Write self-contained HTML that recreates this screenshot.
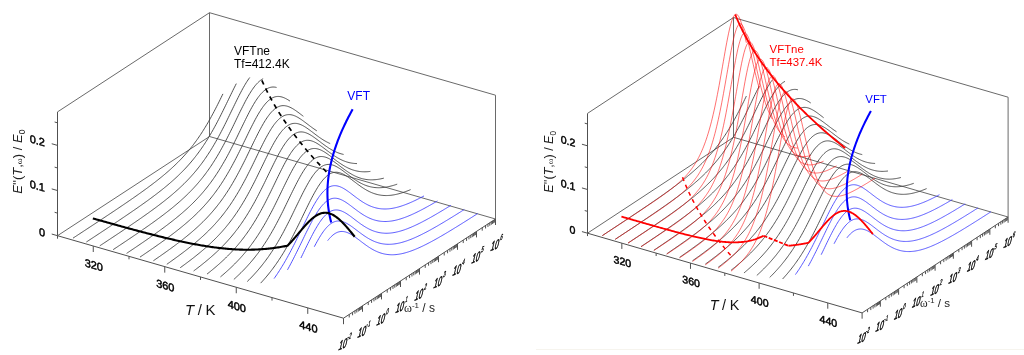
<!DOCTYPE html>
<html><head><meta charset="utf-8"><style>
html,body{margin:0;padding:0;background:#fff}
svg{display:block}
text{font-family:"Liberation Sans",sans-serif}
</style></head><body>
<svg width="1024" height="355" viewBox="0 0 1024 355">
<rect width="1024" height="355" fill="#fff"/>
<rect x="536" y="349" width="488" height="1" fill="#f6f4ee"/>
<line x1="209.50" y1="136.50" x2="209.50" y2="12.70" stroke="#6a6a6a" stroke-width="1"/>
<line x1="209.50" y1="136.50" x2="495.50" y2="219.00" stroke="#6a6a6a" stroke-width="1"/>
<line x1="57.50" y1="235.70" x2="209.50" y2="136.50" stroke="#6a6a6a" stroke-width="1"/>
<line x1="57.50" y1="235.70" x2="57.50" y2="111.90" stroke="#505050" stroke-width="1"/>
<line x1="57.50" y1="111.90" x2="209.50" y2="12.70" stroke="#6a6a6a" stroke-width="1"/>
<line x1="209.50" y1="12.70" x2="495.50" y2="95.20" stroke="#6a6a6a" stroke-width="1"/>
<line x1="495.50" y1="95.20" x2="495.50" y2="219.00" stroke="#6a6a6a" stroke-width="1"/>
<line x1="57.50" y1="235.70" x2="343.50" y2="318.20" stroke="#505050" stroke-width="1"/>
<line x1="343.50" y1="318.20" x2="495.50" y2="219.00" stroke="#505050" stroke-width="1"/>
<line x1="57.50" y1="235.70" x2="51.73" y2="234.04" stroke="#505050" stroke-width="1"/>
<line x1="57.50" y1="213.13" x2="54.62" y2="212.29" stroke="#505050" stroke-width="1"/>
<line x1="57.50" y1="190.55" x2="51.73" y2="188.89" stroke="#505050" stroke-width="1"/>
<line x1="57.50" y1="167.98" x2="54.62" y2="167.14" stroke="#505050" stroke-width="1"/>
<line x1="57.50" y1="145.40" x2="51.73" y2="143.74" stroke="#505050" stroke-width="1"/>
<line x1="57.50" y1="122.83" x2="54.62" y2="122.00" stroke="#505050" stroke-width="1"/>
<line x1="57.50" y1="235.70" x2="57.50" y2="238.70" stroke="#505050" stroke-width="1"/>
<line x1="93.25" y1="246.01" x2="93.25" y2="252.01" stroke="#505050" stroke-width="1"/>
<line x1="129.00" y1="256.32" x2="129.00" y2="259.32" stroke="#505050" stroke-width="1"/>
<line x1="164.75" y1="266.64" x2="164.75" y2="272.64" stroke="#505050" stroke-width="1"/>
<line x1="200.50" y1="276.95" x2="200.50" y2="279.95" stroke="#505050" stroke-width="1"/>
<line x1="236.25" y1="287.26" x2="236.25" y2="293.26" stroke="#505050" stroke-width="1"/>
<line x1="272.00" y1="297.57" x2="272.00" y2="300.57" stroke="#505050" stroke-width="1"/>
<line x1="307.75" y1="307.89" x2="307.75" y2="313.89" stroke="#505050" stroke-width="1"/>
<line x1="343.50" y1="318.20" x2="343.50" y2="324.20" stroke="#505050" stroke-width="1"/>
<line x1="349.22" y1="314.47" x2="349.22" y2="317.47" stroke="#505050" stroke-width="1"/>
<line x1="352.57" y1="312.28" x2="352.57" y2="315.28" stroke="#505050" stroke-width="1"/>
<line x1="354.94" y1="310.73" x2="354.94" y2="313.73" stroke="#505050" stroke-width="1"/>
<line x1="356.78" y1="309.53" x2="356.78" y2="312.53" stroke="#505050" stroke-width="1"/>
<line x1="358.28" y1="308.55" x2="358.28" y2="311.55" stroke="#505050" stroke-width="1"/>
<line x1="359.56" y1="307.72" x2="359.56" y2="310.72" stroke="#505050" stroke-width="1"/>
<line x1="360.66" y1="307.00" x2="360.66" y2="310.00" stroke="#505050" stroke-width="1"/>
<line x1="361.63" y1="306.37" x2="361.63" y2="309.37" stroke="#505050" stroke-width="1"/>
<line x1="362.50" y1="305.80" x2="362.50" y2="311.80" stroke="#505050" stroke-width="1"/>
<line x1="368.22" y1="302.07" x2="368.22" y2="305.07" stroke="#505050" stroke-width="1"/>
<line x1="371.57" y1="299.88" x2="371.57" y2="302.88" stroke="#505050" stroke-width="1"/>
<line x1="373.94" y1="298.33" x2="373.94" y2="301.33" stroke="#505050" stroke-width="1"/>
<line x1="375.78" y1="297.13" x2="375.78" y2="300.13" stroke="#505050" stroke-width="1"/>
<line x1="377.28" y1="296.15" x2="377.28" y2="299.15" stroke="#505050" stroke-width="1"/>
<line x1="378.56" y1="295.32" x2="378.56" y2="298.32" stroke="#505050" stroke-width="1"/>
<line x1="379.66" y1="294.60" x2="379.66" y2="297.60" stroke="#505050" stroke-width="1"/>
<line x1="380.63" y1="293.97" x2="380.63" y2="296.97" stroke="#505050" stroke-width="1"/>
<line x1="381.50" y1="293.40" x2="381.50" y2="299.40" stroke="#505050" stroke-width="1"/>
<line x1="387.22" y1="289.67" x2="387.22" y2="292.67" stroke="#505050" stroke-width="1"/>
<line x1="390.57" y1="287.48" x2="390.57" y2="290.48" stroke="#505050" stroke-width="1"/>
<line x1="392.94" y1="285.93" x2="392.94" y2="288.93" stroke="#505050" stroke-width="1"/>
<line x1="394.78" y1="284.73" x2="394.78" y2="287.73" stroke="#505050" stroke-width="1"/>
<line x1="396.28" y1="283.75" x2="396.28" y2="286.75" stroke="#505050" stroke-width="1"/>
<line x1="397.56" y1="282.92" x2="397.56" y2="285.92" stroke="#505050" stroke-width="1"/>
<line x1="398.66" y1="282.20" x2="398.66" y2="285.20" stroke="#505050" stroke-width="1"/>
<line x1="399.63" y1="281.57" x2="399.63" y2="284.57" stroke="#505050" stroke-width="1"/>
<line x1="400.50" y1="281.00" x2="400.50" y2="287.00" stroke="#505050" stroke-width="1"/>
<line x1="406.22" y1="277.27" x2="406.22" y2="280.27" stroke="#505050" stroke-width="1"/>
<line x1="409.57" y1="275.08" x2="409.57" y2="278.08" stroke="#505050" stroke-width="1"/>
<line x1="411.94" y1="273.53" x2="411.94" y2="276.53" stroke="#505050" stroke-width="1"/>
<line x1="413.78" y1="272.33" x2="413.78" y2="275.33" stroke="#505050" stroke-width="1"/>
<line x1="415.28" y1="271.35" x2="415.28" y2="274.35" stroke="#505050" stroke-width="1"/>
<line x1="416.56" y1="270.52" x2="416.56" y2="273.52" stroke="#505050" stroke-width="1"/>
<line x1="417.66" y1="269.80" x2="417.66" y2="272.80" stroke="#505050" stroke-width="1"/>
<line x1="418.63" y1="269.17" x2="418.63" y2="272.17" stroke="#505050" stroke-width="1"/>
<line x1="419.50" y1="268.60" x2="419.50" y2="274.60" stroke="#505050" stroke-width="1"/>
<line x1="425.22" y1="264.87" x2="425.22" y2="267.87" stroke="#505050" stroke-width="1"/>
<line x1="428.57" y1="262.68" x2="428.57" y2="265.68" stroke="#505050" stroke-width="1"/>
<line x1="430.94" y1="261.13" x2="430.94" y2="264.13" stroke="#505050" stroke-width="1"/>
<line x1="432.78" y1="259.93" x2="432.78" y2="262.93" stroke="#505050" stroke-width="1"/>
<line x1="434.28" y1="258.95" x2="434.28" y2="261.95" stroke="#505050" stroke-width="1"/>
<line x1="435.56" y1="258.12" x2="435.56" y2="261.12" stroke="#505050" stroke-width="1"/>
<line x1="436.66" y1="257.40" x2="436.66" y2="260.40" stroke="#505050" stroke-width="1"/>
<line x1="437.63" y1="256.77" x2="437.63" y2="259.77" stroke="#505050" stroke-width="1"/>
<line x1="438.50" y1="256.20" x2="438.50" y2="262.20" stroke="#505050" stroke-width="1"/>
<line x1="444.22" y1="252.47" x2="444.22" y2="255.47" stroke="#505050" stroke-width="1"/>
<line x1="447.57" y1="250.28" x2="447.57" y2="253.28" stroke="#505050" stroke-width="1"/>
<line x1="449.94" y1="248.73" x2="449.94" y2="251.73" stroke="#505050" stroke-width="1"/>
<line x1="451.78" y1="247.53" x2="451.78" y2="250.53" stroke="#505050" stroke-width="1"/>
<line x1="453.28" y1="246.55" x2="453.28" y2="249.55" stroke="#505050" stroke-width="1"/>
<line x1="454.56" y1="245.72" x2="454.56" y2="248.72" stroke="#505050" stroke-width="1"/>
<line x1="455.66" y1="245.00" x2="455.66" y2="248.00" stroke="#505050" stroke-width="1"/>
<line x1="456.63" y1="244.37" x2="456.63" y2="247.37" stroke="#505050" stroke-width="1"/>
<line x1="457.50" y1="243.80" x2="457.50" y2="249.80" stroke="#505050" stroke-width="1"/>
<line x1="463.22" y1="240.07" x2="463.22" y2="243.07" stroke="#505050" stroke-width="1"/>
<line x1="466.57" y1="237.88" x2="466.57" y2="240.88" stroke="#505050" stroke-width="1"/>
<line x1="468.94" y1="236.33" x2="468.94" y2="239.33" stroke="#505050" stroke-width="1"/>
<line x1="470.78" y1="235.13" x2="470.78" y2="238.13" stroke="#505050" stroke-width="1"/>
<line x1="472.28" y1="234.15" x2="472.28" y2="237.15" stroke="#505050" stroke-width="1"/>
<line x1="473.56" y1="233.32" x2="473.56" y2="236.32" stroke="#505050" stroke-width="1"/>
<line x1="474.66" y1="232.60" x2="474.66" y2="235.60" stroke="#505050" stroke-width="1"/>
<line x1="475.63" y1="231.97" x2="475.63" y2="234.97" stroke="#505050" stroke-width="1"/>
<line x1="476.50" y1="231.40" x2="476.50" y2="237.40" stroke="#505050" stroke-width="1"/>
<line x1="482.22" y1="227.67" x2="482.22" y2="230.67" stroke="#505050" stroke-width="1"/>
<line x1="485.57" y1="225.48" x2="485.57" y2="228.48" stroke="#505050" stroke-width="1"/>
<line x1="487.94" y1="223.93" x2="487.94" y2="226.93" stroke="#505050" stroke-width="1"/>
<line x1="489.78" y1="222.73" x2="489.78" y2="225.73" stroke="#505050" stroke-width="1"/>
<line x1="491.28" y1="221.75" x2="491.28" y2="224.75" stroke="#505050" stroke-width="1"/>
<line x1="492.56" y1="220.92" x2="492.56" y2="223.92" stroke="#505050" stroke-width="1"/>
<line x1="493.66" y1="220.20" x2="493.66" y2="223.20" stroke="#505050" stroke-width="1"/>
<line x1="494.63" y1="219.57" x2="494.63" y2="222.57" stroke="#505050" stroke-width="1"/>
<line x1="495.50" y1="219.00" x2="495.50" y2="225.00" stroke="#505050" stroke-width="1"/>
<path d="M73.00,238.15 L73.88,237.57 L74.77,236.99 L75.66,236.41 L76.54,235.83 L77.43,235.25 L78.32,234.67 L79.21,234.09 L80.09,233.50 L80.98,232.92 L81.87,232.34 L82.75,231.76 L83.64,231.18 L84.53,230.59 L85.41,230.01 L86.30,229.43 L87.19,228.84 L88.08,228.26 L88.96,227.68 L89.85,227.09 L90.74,226.51 L91.62,225.93 L92.51,225.34 L93.40,224.76 L94.29,224.17 L95.17,223.59 L96.06,223.00 L96.95,222.42 L97.83,221.83 L98.72,221.25 L99.61,220.66 L100.49,220.07 L101.38,219.49 L102.27,218.90 L103.16,218.31 L104.04,217.72 L104.93,217.14 L105.82,216.55 L106.70,215.96 L107.59,215.37 L108.48,214.78 L109.36,214.19 L110.25,213.60 L111.14,213.00 L112.03,212.41 L112.91,211.82 L113.80,211.22 L114.69,210.63 L115.57,210.04 L116.46,209.44 L117.35,208.84 L118.24,208.25 L119.12,207.65 L120.01,207.05 L120.90,206.45 L121.78,205.85 L122.67,205.25 L123.56,204.65 L124.44,204.04 L125.33,203.44 L126.22,202.83 L127.11,202.23 L127.99,201.62 L128.88,201.01 L129.77,200.40 L130.65,199.79 L131.54,199.17 L132.43,198.56 L133.32,197.94 L134.20,197.32 L135.09,196.70 L135.98,196.08 L136.86,195.46 L137.75,194.83 L138.64,194.21 L139.52,193.58 L140.41,192.95 L141.30,192.31 L142.19,191.68 L143.07,191.04 L143.96,190.40 L144.85,189.75 L145.73,189.11 L146.62,188.46 L147.51,187.80 L148.39,187.15 L149.28,186.49 L150.17,185.83 L151.06,185.16 L151.94,184.49 L152.83,183.82 L153.72,183.14 L154.60,182.46 L155.49,181.77 L156.38,181.08 L157.27,180.38 L158.15,179.68 L159.04,178.98 L159.93,178.26 L160.81,177.55 L161.70,176.83 L162.59,176.10 L163.47,175.36 L164.36,174.62 L165.25,173.87 L166.14,173.12 L167.02,172.35 L167.91,171.58 L168.80,170.81 L169.68,170.02 L170.57,169.22 L171.46,168.42 L172.34,167.61 L173.23,166.79 L174.12,165.95 L175.01,165.11 L175.89,164.26 L176.78,163.39 L177.67,162.52 L178.55,161.63 L179.44,160.73 L180.33,159.82 L181.22,158.90 L182.10,157.96 L182.99,157.01 L183.88,156.04 L184.76,155.06 L185.65,154.06 L186.54,153.05 L187.42,152.02 L188.31,150.97 L189.20,149.91 L190.09,148.83 L190.97,147.73 L191.86,146.62 L192.75,145.48 L193.63,144.32 L194.52,143.15 L195.41,141.95 L196.30,140.74 L197.18,139.50 L198.07,138.24 L198.96,136.96 L199.84,135.65 L200.73,134.33 L201.62,132.98 L202.50,131.60 L203.39,130.20 L204.28,128.78 L205.17,127.34 L206.05,125.87 L206.94,124.38 L207.83,122.86 L208.71,121.32 L209.60,119.76 L210.49,118.17 L211.37,116.56 L212.26,114.93 L213.15,113.27 L214.04,111.60 L214.92,109.90 L215.81,108.18 L216.70,106.45 L217.58,104.70 L218.47,102.93 L219.36,101.15 L220.25,99.35 L221.13,97.54 L222.02,95.72 L222.91,93.90" fill="none" stroke="#3c3c3c" stroke-width="0.90"/>
<path d="M86.40,241.99 L87.29,241.41 L88.18,240.83 L89.06,240.24 L89.95,239.66 L90.84,239.08 L91.72,238.49 L92.61,237.91 L93.50,237.33 L94.39,236.74 L95.27,236.16 L96.16,235.58 L97.05,234.99 L97.93,234.41 L98.82,233.82 L99.71,233.24 L100.60,232.65 L101.48,232.06 L102.37,231.48 L103.26,230.89 L104.14,230.30 L105.03,229.72 L105.92,229.13 L106.80,228.54 L107.69,227.95 L108.58,227.37 L109.47,226.78 L110.35,226.19 L111.24,225.60 L112.13,225.01 L113.01,224.42 L113.90,223.82 L114.79,223.23 L115.67,222.64 L116.56,222.05 L117.45,221.45 L118.34,220.86 L119.22,220.26 L120.11,219.67 L121.00,219.07 L121.88,218.47 L122.77,217.87 L123.66,217.27 L124.55,216.67 L125.43,216.07 L126.32,215.47 L127.21,214.87 L128.09,214.26 L128.98,213.66 L129.87,213.05 L130.75,212.45 L131.64,211.84 L132.53,211.23 L133.42,210.62 L134.30,210.00 L135.19,209.39 L136.08,208.77 L136.96,208.16 L137.85,207.54 L138.74,206.92 L139.62,206.29 L140.51,205.67 L141.40,205.04 L142.29,204.42 L143.17,203.79 L144.06,203.15 L144.95,202.52 L145.83,201.88 L146.72,201.24 L147.61,200.60 L148.50,199.95 L149.38,199.30 L150.27,198.65 L151.16,198.00 L152.04,197.34 L152.93,196.68 L153.82,196.01 L154.70,195.35 L155.59,194.67 L156.48,194.00 L157.37,193.32 L158.25,192.63 L159.14,191.95 L160.03,191.25 L160.91,190.55 L161.80,189.85 L162.69,189.14 L163.58,188.43 L164.46,187.71 L165.35,186.98 L166.24,186.25 L167.12,185.51 L168.01,184.77 L168.90,184.01 L169.78,183.25 L170.67,182.49 L171.56,181.71 L172.45,180.93 L173.33,180.14 L174.22,179.34 L175.11,178.53 L175.99,177.71 L176.88,176.89 L177.77,176.05 L178.65,175.20 L179.54,174.34 L180.43,173.47 L181.32,172.59 L182.20,171.70 L183.09,170.79 L183.98,169.87 L184.86,168.94 L185.75,167.99 L186.64,167.03 L187.53,166.06 L188.41,165.07 L189.30,164.07 L190.19,163.04 L191.07,162.01 L191.96,160.95 L192.85,159.88 L193.73,158.79 L194.62,157.68 L195.51,156.56 L196.40,155.41 L197.28,154.24 L198.17,153.06 L199.06,151.85 L199.94,150.62 L200.83,149.37 L201.72,148.10 L202.60,146.81 L203.49,145.49 L204.38,144.15 L205.27,142.79 L206.15,141.40 L207.04,139.99 L207.93,138.56 L208.81,137.10 L209.70,135.62 L210.59,134.11 L211.48,132.59 L212.36,131.03 L213.25,129.46 L214.14,127.86 L215.02,126.23 L215.91,124.59 L216.80,122.92 L217.68,121.24 L218.57,119.53 L219.46,117.80 L220.35,116.06 L221.23,114.30 L222.12,112.52 L223.01,110.73 L223.89,108.93 L224.78,107.12 L225.67,105.29 L226.56,103.47 L227.44,101.63 L228.33,99.80 L229.22,97.96 L230.10,96.13 L230.99,94.31 L231.88,92.49 L232.76,90.68 L233.65,88.89 L234.54,87.12 L235.43,85.37 L236.31,83.64" fill="none" stroke="#3c3c3c" stroke-width="0.90"/>
<path d="M99.81,245.81 L100.70,245.23 L101.58,244.64 L102.47,244.06 L103.36,243.47 L104.24,242.89 L105.13,242.30 L106.02,241.71 L106.91,241.13 L107.79,240.54 L108.68,239.95 L109.57,239.37 L110.45,238.78 L111.34,238.19 L112.23,237.60 L113.11,237.01 L114.00,236.42 L114.89,235.83 L115.78,235.24 L116.66,234.65 L117.55,234.06 L118.44,233.47 L119.32,232.87 L120.21,232.28 L121.10,231.69 L121.98,231.09 L122.87,230.50 L123.76,229.90 L124.65,229.30 L125.53,228.71 L126.42,228.11 L127.31,227.51 L128.19,226.91 L129.08,226.31 L129.97,225.71 L130.86,225.10 L131.74,224.50 L132.63,223.89 L133.52,223.29 L134.40,222.68 L135.29,222.07 L136.18,221.46 L137.06,220.85 L137.95,220.24 L138.84,219.62 L139.73,219.01 L140.61,218.39 L141.50,217.77 L142.39,217.15 L143.27,216.53 L144.16,215.91 L145.05,215.28 L145.93,214.65 L146.82,214.02 L147.71,213.39 L148.60,212.75 L149.48,212.12 L150.37,211.48 L151.26,210.83 L152.14,210.19 L153.03,209.54 L153.92,208.89 L154.81,208.23 L155.69,207.58 L156.58,206.91 L157.47,206.25 L158.35,205.58 L159.24,204.91 L160.13,204.23 L161.01,203.55 L161.90,202.87 L162.79,202.18 L163.68,201.49 L164.56,200.79 L165.45,200.09 L166.34,199.38 L167.22,198.66 L168.11,197.94 L169.00,197.22 L169.89,196.48 L170.77,195.75 L171.66,195.00 L172.55,194.25 L173.43,193.49 L174.32,192.72 L175.21,191.95 L176.09,191.17 L176.98,190.38 L177.87,189.58 L178.76,188.77 L179.64,187.95 L180.53,187.12 L181.42,186.28 L182.30,185.44 L183.19,184.58 L184.08,183.71 L184.96,182.83 L185.85,181.93 L186.74,181.03 L187.63,180.11 L188.51,179.18 L189.40,178.23 L190.29,177.27 L191.17,176.30 L192.06,175.31 L192.95,174.30 L193.84,173.28 L194.72,172.24 L195.61,171.19 L196.50,170.12 L197.38,169.03 L198.27,167.92 L199.16,166.79 L200.04,165.65 L200.93,164.48 L201.82,163.29 L202.71,162.09 L203.59,160.86 L204.48,159.61 L205.37,158.34 L206.25,157.04 L207.14,155.73 L208.03,154.39 L208.91,153.02 L209.80,151.64 L210.69,150.23 L211.58,148.80 L212.46,147.34 L213.35,145.86 L214.24,144.35 L215.12,142.82 L216.01,141.27 L216.90,139.69 L217.79,138.09 L218.67,136.47 L219.56,134.83 L220.45,133.16 L221.33,131.47 L222.22,129.77 L223.11,128.04 L223.99,126.30 L224.88,124.54 L225.77,122.76 L226.66,120.97 L227.54,119.17 L228.43,117.35 L229.32,115.53 L230.20,113.70 L231.09,111.87 L231.98,110.03 L232.86,108.20 L233.75,106.37 L234.64,104.54 L235.53,102.73 L236.41,100.92 L237.30,99.13 L238.19,97.36 L239.07,95.61 L239.96,93.88 L240.85,92.18 L241.74,90.52 L242.62,88.88 L243.51,87.29 L244.40,85.74 L245.28,84.24 L246.17,82.78 L247.06,81.38 L247.94,80.03 L248.83,78.74 L249.72,77.51" fill="none" stroke="#3c3c3c" stroke-width="0.90"/>
<path d="M113.22,249.60 L114.10,249.02 L114.99,248.43 L115.88,247.84 L116.76,247.25 L117.65,246.66 L118.54,246.07 L119.42,245.48 L120.31,244.89 L121.20,244.30 L122.09,243.71 L122.97,243.12 L123.86,242.52 L124.75,241.93 L125.63,241.34 L126.52,240.74 L127.41,240.15 L128.29,239.55 L129.18,238.95 L130.07,238.35 L130.96,237.76 L131.84,237.16 L132.73,236.56 L133.62,235.95 L134.50,235.35 L135.39,234.75 L136.28,234.14 L137.17,233.54 L138.05,232.93 L138.94,232.32 L139.83,231.71 L140.71,231.10 L141.60,230.49 L142.49,229.88 L143.37,229.26 L144.26,228.65 L145.15,228.03 L146.04,227.41 L146.92,226.79 L147.81,226.16 L148.70,225.54 L149.58,224.91 L150.47,224.28 L151.36,223.65 L152.24,223.02 L153.13,222.38 L154.02,221.74 L154.91,221.10 L155.79,220.46 L156.68,219.81 L157.57,219.16 L158.45,218.51 L159.34,217.85 L160.23,217.19 L161.12,216.53 L162.00,215.86 L162.89,215.19 L163.78,214.52 L164.66,213.84 L165.55,213.16 L166.44,212.47 L167.32,211.78 L168.21,211.08 L169.10,210.38 L169.99,209.68 L170.87,208.97 L171.76,208.25 L172.65,207.53 L173.53,206.80 L174.42,206.06 L175.31,205.32 L176.19,204.57 L177.08,203.82 L177.97,203.05 L178.86,202.28 L179.74,201.51 L180.63,200.72 L181.52,199.92 L182.40,199.12 L183.29,198.31 L184.18,197.48 L185.07,196.65 L185.95,195.81 L186.84,194.96 L187.73,194.09 L188.61,193.22 L189.50,192.33 L190.39,191.43 L191.27,190.52 L192.16,189.59 L193.05,188.65 L193.94,187.70 L194.82,186.73 L195.71,185.75 L196.60,184.75 L197.48,183.74 L198.37,182.71 L199.26,181.66 L200.15,180.60 L201.03,179.52 L201.92,178.42 L202.81,177.30 L203.69,176.17 L204.58,175.01 L205.47,173.84 L206.35,172.64 L207.24,171.42 L208.13,170.18 L209.02,168.92 L209.90,167.64 L210.79,166.33 L211.68,165.01 L212.56,163.66 L213.45,162.28 L214.34,160.88 L215.22,159.46 L216.11,158.02 L217.00,156.55 L217.89,155.05 L218.77,153.54 L219.66,152.00 L220.55,150.43 L221.43,148.84 L222.32,147.23 L223.21,145.60 L224.10,143.94 L224.98,142.27 L225.87,140.57 L226.76,138.85 L227.64,137.12 L228.53,135.37 L229.42,133.60 L230.30,131.81 L231.19,130.02 L232.08,128.21 L232.97,126.39 L233.85,124.57 L234.74,122.73 L235.63,120.90 L236.51,119.06 L237.40,117.23 L238.29,115.40 L239.17,113.58 L240.06,111.77 L240.95,109.97 L241.84,108.19 L242.72,106.43 L243.61,104.69 L244.50,102.97 L245.38,101.29 L246.27,99.64 L247.16,98.03 L248.05,96.46 L248.93,94.93 L249.82,93.45 L250.71,92.02 L251.59,90.64 L252.48,89.32 L253.37,88.06 L254.25,86.86 L255.14,85.73 L256.03,84.66 L256.92,83.66 L257.80,82.74 L258.69,81.88 L259.58,81.10 L260.46,80.39 L261.35,79.76 L262.24,79.20 L263.12,78.72" fill="none" stroke="#3c3c3c" stroke-width="0.90"/>
<path d="M126.62,253.36 L127.51,252.77 L128.40,252.18 L129.28,251.59 L130.17,250.99 L131.06,250.40 L131.94,249.80 L132.83,249.20 L133.72,248.61 L134.60,248.01 L135.49,247.41 L136.38,246.81 L137.27,246.21 L138.15,245.61 L139.04,245.01 L139.93,244.40 L140.81,243.80 L141.70,243.19 L142.59,242.59 L143.48,241.98 L144.36,241.37 L145.25,240.76 L146.14,240.15 L147.02,239.53 L147.91,238.92 L148.80,238.30 L149.68,237.68 L150.57,237.06 L151.46,236.44 L152.35,235.82 L153.23,235.19 L154.12,234.57 L155.01,233.94 L155.89,233.30 L156.78,232.67 L157.67,232.03 L158.55,231.40 L159.44,230.75 L160.33,230.11 L161.22,229.46 L162.10,228.81 L162.99,228.16 L163.88,227.50 L164.76,226.85 L165.65,226.18 L166.54,225.52 L167.43,224.85 L168.31,224.17 L169.20,223.49 L170.09,222.81 L170.97,222.12 L171.86,221.43 L172.75,220.74 L173.63,220.04 L174.52,219.33 L175.41,218.62 L176.30,217.90 L177.18,217.18 L178.07,216.45 L178.96,215.71 L179.84,214.97 L180.73,214.22 L181.62,213.47 L182.50,212.70 L183.39,211.93 L184.28,211.15 L185.17,210.37 L186.05,209.57 L186.94,208.77 L187.83,207.96 L188.71,207.13 L189.60,206.30 L190.49,205.46 L191.38,204.60 L192.26,203.74 L193.15,202.86 L194.04,201.97 L194.92,201.07 L195.81,200.16 L196.70,199.24 L197.58,198.30 L198.47,197.34 L199.36,196.38 L200.25,195.39 L201.13,194.40 L202.02,193.38 L202.91,192.35 L203.79,191.31 L204.68,190.24 L205.57,189.16 L206.45,188.06 L207.34,186.94 L208.23,185.81 L209.12,184.65 L210.00,183.47 L210.89,182.28 L211.78,181.06 L212.66,179.82 L213.55,178.56 L214.44,177.27 L215.33,175.97 L216.21,174.64 L217.10,173.29 L217.99,171.91 L218.87,170.51 L219.76,169.09 L220.65,167.65 L221.53,166.18 L222.42,164.68 L223.31,163.16 L224.20,161.62 L225.08,160.06 L225.97,158.47 L226.86,156.86 L227.74,155.22 L228.63,153.57 L229.52,151.89 L230.41,150.19 L231.29,148.47 L232.18,146.74 L233.07,144.99 L233.95,143.22 L234.84,141.43 L235.73,139.63 L236.61,137.83 L237.50,136.01 L238.39,134.18 L239.28,132.35 L240.16,130.52 L241.05,128.68 L241.94,126.85 L242.82,125.02 L243.71,123.20 L244.60,121.39 L245.48,119.59 L246.37,117.81 L247.26,116.05 L248.15,114.31 L249.03,112.60 L249.92,110.91 L250.81,109.27 L251.69,107.65 L252.58,106.08 L253.47,104.56 L254.36,103.08 L255.24,101.65 L256.13,100.27 L257.02,98.96 L257.90,97.70 L258.79,96.50 L259.68,95.37 L260.56,94.30 L261.45,93.31 L262.34,92.38 L263.23,91.53 L264.11,90.75 L265.00,90.05 L265.89,89.42 L266.77,88.86 L267.66,88.38 L268.55,87.97 L269.43,87.64 L270.32,87.38 L271.21,87.19 L272.10,87.07 L272.98,87.02 L273.87,87.04 L274.76,87.12 L275.64,87.25 L276.53,87.45" fill="none" stroke="#3c3c3c" stroke-width="0.90"/>
<path d="M140.03,257.08 L140.91,256.48 L141.80,255.88 L142.69,255.27 L143.58,254.67 L144.46,254.07 L145.35,253.47 L146.24,252.86 L147.12,252.25 L148.01,251.65 L148.90,251.04 L149.78,250.43 L150.67,249.82 L151.56,249.20 L152.45,248.59 L153.33,247.97 L154.22,247.36 L155.11,246.74 L155.99,246.12 L156.88,245.49 L157.77,244.87 L158.66,244.24 L159.54,243.61 L160.43,242.98 L161.32,242.35 L162.20,241.71 L163.09,241.08 L163.98,240.44 L164.86,239.79 L165.75,239.15 L166.64,238.50 L167.53,237.85 L168.41,237.19 L169.30,236.53 L170.19,235.87 L171.07,235.21 L171.96,234.54 L172.85,233.87 L173.74,233.19 L174.62,232.51 L175.51,231.82 L176.40,231.14 L177.28,230.44 L178.17,229.74 L179.06,229.04 L179.94,228.33 L180.83,227.61 L181.72,226.89 L182.61,226.17 L183.49,225.43 L184.38,224.69 L185.27,223.95 L186.15,223.20 L187.04,222.44 L187.93,221.67 L188.81,220.89 L189.70,220.11 L190.59,219.32 L191.48,218.52 L192.36,217.71 L193.25,216.89 L194.14,216.06 L195.02,215.22 L195.91,214.37 L196.80,213.51 L197.69,212.64 L198.57,211.76 L199.46,210.86 L200.35,209.95 L201.23,209.03 L202.12,208.10 L203.01,207.15 L203.89,206.19 L204.78,205.21 L205.67,204.22 L206.56,203.22 L207.44,202.19 L208.33,201.15 L209.22,200.10 L210.10,199.02 L210.99,197.93 L211.88,196.82 L212.76,195.69 L213.65,194.54 L214.54,193.37 L215.43,192.18 L216.31,190.97 L217.20,189.74 L218.09,188.49 L218.97,187.22 L219.86,185.92 L220.75,184.60 L221.64,183.26 L222.52,181.89 L223.41,180.50 L224.30,179.09 L225.18,177.66 L226.07,176.19 L226.96,174.71 L227.84,173.20 L228.73,171.67 L229.62,170.11 L230.51,168.53 L231.39,166.93 L232.28,165.31 L233.17,163.66 L234.05,161.99 L234.94,160.30 L235.83,158.59 L236.72,156.86 L237.60,155.12 L238.49,153.36 L239.38,151.58 L240.26,149.79 L241.15,147.98 L242.04,146.17 L242.92,144.34 L243.81,142.51 L244.70,140.68 L245.59,138.85 L246.47,137.01 L247.36,135.18 L248.25,133.35 L249.13,131.54 L250.02,129.74 L250.91,127.95 L251.79,126.18 L252.68,124.43 L253.57,122.71 L254.46,121.01 L255.34,119.35 L256.23,117.72 L257.12,116.14 L258.00,114.59 L258.89,113.09 L259.78,111.64 L260.67,110.25 L261.55,108.90 L262.44,107.62 L263.33,106.40 L264.21,105.24 L265.10,104.15 L265.99,103.13 L266.87,102.17 L267.76,101.29 L268.65,100.48 L269.54,99.75 L270.42,99.08 L271.31,98.50 L272.20,97.99 L273.08,97.55 L273.97,97.19 L274.86,96.90 L275.74,96.68 L276.63,96.54 L277.52,96.46 L278.41,96.45 L279.29,96.50 L280.18,96.61 L281.07,96.79 L281.95,97.01 L282.84,97.30 L283.73,97.63 L284.62,98.01 L285.50,98.43 L286.39,98.89 L287.28,99.39 L288.16,99.92 L289.05,100.48 L289.94,101.07" fill="none" stroke="#3c3c3c" stroke-width="0.90"/>
<path d="M153.43,260.72 L154.32,260.11 L155.21,259.50 L156.09,258.89 L156.98,258.27 L157.87,257.66 L158.76,257.04 L159.64,256.43 L160.53,255.81 L161.42,255.19 L162.30,254.56 L163.19,253.94 L164.08,253.31 L164.97,252.68 L165.85,252.05 L166.74,251.42 L167.63,250.78 L168.51,250.14 L169.40,249.50 L170.29,248.86 L171.17,248.21 L172.06,247.56 L172.95,246.91 L173.84,246.26 L174.72,245.60 L175.61,244.93 L176.50,244.27 L177.38,243.60 L178.27,242.93 L179.16,242.25 L180.04,241.57 L180.93,240.88 L181.82,240.19 L182.71,239.50 L183.59,238.80 L184.48,238.09 L185.37,237.38 L186.25,236.67 L187.14,235.94 L188.03,235.22 L188.92,234.48 L189.80,233.74 L190.69,232.99 L191.58,232.24 L192.46,231.48 L193.35,230.71 L194.24,229.93 L195.12,229.15 L196.01,228.35 L196.90,227.55 L197.79,226.74 L198.67,225.92 L199.56,225.09 L200.45,224.25 L201.33,223.40 L202.22,222.53 L203.11,221.66 L204.00,220.78 L204.88,219.88 L205.77,218.97 L206.66,218.05 L207.54,217.11 L208.43,216.16 L209.32,215.19 L210.20,214.22 L211.09,213.22 L211.98,212.21 L212.87,211.18 L213.75,210.14 L214.64,209.08 L215.53,208.01 L216.41,206.91 L217.30,205.80 L218.19,204.66 L219.07,203.51 L219.96,202.34 L220.85,201.15 L221.74,199.93 L222.62,198.70 L223.51,197.44 L224.40,196.16 L225.28,194.86 L226.17,193.54 L227.06,192.19 L227.95,190.82 L228.83,189.43 L229.72,188.01 L230.61,186.57 L231.49,185.10 L232.38,183.62 L233.27,182.10 L234.15,180.57 L235.04,179.01 L235.93,177.42 L236.82,175.82 L237.70,174.19 L238.59,172.54 L239.48,170.86 L240.36,169.17 L241.25,167.46 L242.14,165.72 L243.02,163.98 L243.91,162.21 L244.80,160.43 L245.69,158.63 L246.57,156.83 L247.46,155.01 L248.35,153.19 L249.23,151.36 L250.12,149.52 L251.01,147.69 L251.90,145.85 L252.78,144.02 L253.67,142.20 L254.56,140.39 L255.44,138.58 L256.33,136.80 L257.22,135.03 L258.10,133.29 L258.99,131.57 L259.88,129.88 L260.77,128.23 L261.65,126.61 L262.54,125.03 L263.43,123.49 L264.31,122.00 L265.20,120.56 L266.09,119.18 L266.98,117.85 L267.86,116.57 L268.75,115.36 L269.64,114.22 L270.52,113.14 L271.41,112.13 L272.30,111.19 L273.18,110.32 L274.07,109.52 L274.96,108.80 L275.85,108.15 L276.73,107.58 L277.62,107.09 L278.51,106.66 L279.39,106.32 L280.28,106.04 L281.17,105.84 L282.05,105.70 L282.94,105.64 L283.83,105.64 L284.72,105.70 L285.60,105.83 L286.49,106.01 L287.38,106.25 L288.26,106.54 L289.15,106.88 L290.04,107.27 L290.93,107.70 L291.81,108.17 L292.70,108.67 L293.59,109.21 L294.47,109.77 L295.36,110.36 L296.25,110.98 L297.13,111.61 L298.02,112.25 L298.91,112.91 L299.80,113.58 L300.68,114.25 L301.57,114.93 L302.46,115.60 L303.34,116.28" fill="none" stroke="#3c3c3c" stroke-width="0.90"/>
<path d="M166.84,264.27 L167.73,263.65 L168.61,263.02 L169.50,262.40 L170.39,261.77 L171.28,261.14 L172.16,260.50 L173.05,259.87 L173.94,259.23 L174.82,258.59 L175.71,257.95 L176.60,257.30 L177.48,256.65 L178.37,256.00 L179.26,255.35 L180.15,254.69 L181.03,254.03 L181.92,253.36 L182.81,252.69 L183.69,252.02 L184.58,251.35 L185.47,250.67 L186.35,249.98 L187.24,249.29 L188.13,248.60 L189.02,247.90 L189.90,247.19 L190.79,246.48 L191.68,245.77 L192.56,245.05 L193.45,244.32 L194.34,243.59 L195.23,242.85 L196.11,242.10 L197.00,241.35 L197.89,240.59 L198.77,239.82 L199.66,239.05 L200.55,238.27 L201.43,237.47 L202.32,236.67 L203.21,235.86 L204.10,235.05 L204.98,234.22 L205.87,233.38 L206.76,232.53 L207.64,231.67 L208.53,230.80 L209.42,229.91 L210.31,229.02 L211.19,228.11 L212.08,227.19 L212.97,226.26 L213.85,225.31 L214.74,224.35 L215.63,223.37 L216.51,222.38 L217.40,221.37 L218.29,220.35 L219.18,219.31 L220.06,218.26 L220.95,217.18 L221.84,216.09 L222.72,214.98 L223.61,213.85 L224.50,212.70 L225.38,211.53 L226.27,210.34 L227.16,209.13 L228.05,207.90 L228.93,206.65 L229.82,205.38 L230.71,204.08 L231.59,202.76 L232.48,201.42 L233.37,200.05 L234.26,198.67 L235.14,197.25 L236.03,195.82 L236.92,194.36 L237.80,192.87 L238.69,191.36 L239.58,189.83 L240.46,188.28 L241.35,186.70 L242.24,185.10 L243.13,183.47 L244.01,181.82 L244.90,180.16 L245.79,178.47 L246.67,176.76 L247.56,175.03 L248.45,173.28 L249.33,171.52 L250.22,169.74 L251.11,167.95 L252.00,166.15 L252.88,164.33 L253.77,162.51 L254.66,160.68 L255.54,158.85 L256.43,157.01 L257.32,155.18 L258.21,153.34 L259.09,151.52 L259.98,149.70 L260.87,147.90 L261.75,146.11 L262.64,144.34 L263.53,142.59 L264.41,140.87 L265.30,139.18 L266.19,137.51 L267.08,135.89 L267.96,134.30 L268.85,132.75 L269.74,131.25 L270.62,129.80 L271.51,128.41 L272.40,127.07 L273.28,125.78 L274.17,124.56 L275.06,123.40 L275.95,122.31 L276.83,121.28 L277.72,120.33 L278.61,119.45 L279.49,118.64 L280.38,117.90 L281.27,117.24 L282.16,116.65 L283.04,116.14 L283.93,115.70 L284.82,115.34 L285.70,115.05 L286.59,114.83 L287.48,114.69 L288.36,114.61 L289.25,114.60 L290.14,114.65 L291.03,114.76 L291.91,114.93 L292.80,115.16 L293.69,115.44 L294.57,115.78 L295.46,116.15 L296.35,116.58 L297.24,117.04 L298.12,117.54 L299.01,118.07 L299.90,118.63 L300.78,119.21 L301.67,119.82 L302.56,120.45 L303.44,121.09 L304.33,121.75 L305.22,122.41 L306.11,123.08 L306.99,123.76 L307.88,124.44 L308.77,125.11 L309.65,125.79 L310.54,126.45 L311.43,127.11 L312.31,127.76 L313.20,128.40 L314.09,129.02 L314.98,129.63 L315.86,130.22 L316.75,130.79" fill="none" stroke="#3c3c3c" stroke-width="0.90"/>
<path d="M180.25,267.70 L181.13,267.06 L182.02,266.42 L182.91,265.77 L183.79,265.12 L184.68,264.47 L185.57,263.81 L186.46,263.15 L187.34,262.49 L188.23,261.82 L189.12,261.15 L190.00,260.48 L190.89,259.80 L191.78,259.12 L192.66,258.43 L193.55,257.74 L194.44,257.04 L195.33,256.34 L196.21,255.64 L197.10,254.92 L197.99,254.21 L198.87,253.48 L199.76,252.75 L200.65,252.02 L201.54,251.28 L202.42,250.53 L203.31,249.77 L204.20,249.01 L205.08,248.24 L205.97,247.46 L206.86,246.67 L207.74,245.88 L208.63,245.07 L209.52,244.26 L210.41,243.43 L211.29,242.60 L212.18,241.76 L213.07,240.90 L213.95,240.04 L214.84,239.16 L215.73,238.27 L216.61,237.37 L217.50,236.46 L218.39,235.53 L219.28,234.59 L220.16,233.64 L221.05,232.67 L221.94,231.69 L222.82,230.69 L223.71,229.68 L224.60,228.65 L225.49,227.60 L226.37,226.54 L227.26,225.45 L228.15,224.35 L229.03,223.23 L229.92,222.10 L230.81,220.94 L231.69,219.76 L232.58,218.56 L233.47,217.35 L234.36,216.11 L235.24,214.84 L236.13,213.56 L237.02,212.25 L237.90,210.92 L238.79,209.57 L239.68,208.20 L240.57,206.80 L241.45,205.37 L242.34,203.93 L243.23,202.46 L244.11,200.96 L245.00,199.44 L245.89,197.90 L246.77,196.33 L247.66,194.74 L248.55,193.13 L249.44,191.50 L250.32,189.84 L251.21,188.16 L252.10,186.46 L252.98,184.75 L253.87,183.01 L254.76,181.26 L255.64,179.49 L256.53,177.70 L257.42,175.90 L258.31,174.10 L259.19,172.28 L260.08,170.45 L260.97,168.62 L261.85,166.78 L262.74,164.95 L263.63,163.12 L264.52,161.29 L265.40,159.47 L266.29,157.66 L267.18,155.86 L268.06,154.08 L268.95,152.32 L269.84,150.58 L270.72,148.87 L271.61,147.19 L272.50,145.54 L273.39,143.93 L274.27,142.36 L275.16,140.84 L276.05,139.36 L276.93,137.93 L277.82,136.56 L278.71,135.24 L279.59,133.99 L280.48,132.79 L281.37,131.66 L282.26,130.60 L283.14,129.61 L284.03,128.68 L284.92,127.83 L285.80,127.06 L286.69,126.35 L287.58,125.73 L288.47,125.17 L289.35,124.69 L290.24,124.29 L291.13,123.96 L292.01,123.70 L292.90,123.52 L293.79,123.40 L294.67,123.35 L295.56,123.37 L296.45,123.45 L297.34,123.59 L298.22,123.79 L299.11,124.04 L300.00,124.34 L300.88,124.70 L301.77,125.09 L302.66,125.53 L303.55,126.01 L304.43,126.52 L305.32,127.07 L306.21,127.64 L307.09,128.24 L307.98,128.85 L308.87,129.49 L309.75,130.14 L310.64,130.80 L311.53,131.47 L312.42,132.14 L313.30,132.82 L314.19,133.49 L315.08,134.17 L315.96,134.84 L316.85,135.50 L317.74,136.16 L318.62,136.80 L319.51,137.43 L320.40,138.05 L321.29,138.65 L322.17,139.23 L323.06,139.80 L323.95,140.35 L324.83,140.87 L325.72,141.38 L326.61,141.86 L327.50,142.32 L328.38,142.76 L329.27,143.18 L330.16,143.57" fill="none" stroke="#3c3c3c" stroke-width="0.90"/>
<path d="M193.65,270.98 L194.54,270.31 L195.43,269.64 L196.31,268.97 L197.20,268.29 L198.09,267.60 L198.97,266.92 L199.86,266.23 L200.75,265.53 L201.64,264.83 L202.52,264.12 L203.41,263.41 L204.30,262.69 L205.18,261.97 L206.07,261.24 L206.96,260.50 L207.85,259.76 L208.73,259.01 L209.62,258.25 L210.51,257.49 L211.39,256.71 L212.28,255.93 L213.17,255.15 L214.05,254.35 L214.94,253.54 L215.83,252.73 L216.72,251.91 L217.60,251.07 L218.49,250.23 L219.38,249.37 L220.26,248.50 L221.15,247.63 L222.04,246.74 L222.92,245.84 L223.81,244.92 L224.70,243.99 L225.59,243.05 L226.47,242.10 L227.36,241.13 L228.25,240.14 L229.13,239.14 L230.02,238.13 L230.91,237.10 L231.80,236.05 L232.68,234.98 L233.57,233.90 L234.46,232.80 L235.34,231.67 L236.23,230.53 L237.12,229.37 L238.00,228.20 L238.89,227.00 L239.78,225.77 L240.67,224.53 L241.55,223.27 L242.44,221.98 L243.33,220.67 L244.21,219.34 L245.10,217.99 L245.99,216.61 L246.87,215.21 L247.76,213.78 L248.65,212.33 L249.54,210.86 L250.42,209.36 L251.31,207.84 L252.20,206.29 L253.08,204.72 L253.97,203.13 L254.86,201.52 L255.75,199.88 L256.63,198.22 L257.52,196.54 L258.41,194.84 L259.29,193.12 L260.18,191.38 L261.07,189.63 L261.95,187.86 L262.84,186.07 L263.73,184.27 L264.62,182.46 L265.50,180.64 L266.39,178.81 L267.28,176.98 L268.16,175.15 L269.05,173.31 L269.94,171.48 L270.83,169.65 L271.71,167.83 L272.60,166.02 L273.49,164.23 L274.37,162.45 L275.26,160.69 L276.15,158.95 L277.03,157.25 L277.92,155.57 L278.81,153.93 L279.70,152.32 L280.58,150.76 L281.47,149.24 L282.36,147.76 L283.24,146.34 L284.13,144.98 L285.02,143.67 L285.90,142.42 L286.79,141.23 L287.68,140.11 L288.57,139.05 L289.45,138.06 L290.34,137.15 L291.23,136.31 L292.11,135.54 L293.00,134.84 L293.89,134.22 L294.78,133.68 L295.66,133.21 L296.55,132.81 L297.44,132.49 L298.32,132.24 L299.21,132.06 L300.10,131.95 L300.98,131.91 L301.87,131.93 L302.76,132.02 L303.65,132.17 L304.53,132.37 L305.42,132.63 L306.31,132.94 L307.19,133.30 L308.08,133.70 L308.97,134.14 L309.85,134.63 L310.74,135.14 L311.63,135.69 L312.52,136.26 L313.40,136.86 L314.29,137.48 L315.18,138.12 L316.06,138.77 L316.95,139.43 L317.84,140.10 L318.73,140.77 L319.61,141.45 L320.50,142.13 L321.39,142.80 L322.27,143.47 L323.16,144.13 L324.05,144.79 L324.93,145.43 L325.82,146.06 L326.71,146.67 L327.60,147.27 L328.48,147.86 L329.37,148.42 L330.26,148.96 L331.14,149.49 L332.03,149.99 L332.92,150.47 L333.81,150.93 L334.69,151.37 L335.58,151.78 L336.47,152.17 L337.35,152.54 L338.24,152.88 L339.13,153.20 L340.01,153.49 L340.90,153.76 L341.79,154.01 L342.68,154.23 L343.56,154.43" fill="none" stroke="#3c3c3c" stroke-width="0.90"/>
<path d="M207.06,274.05 L207.95,273.35 L208.83,272.65 L209.72,271.93 L210.61,271.22 L211.49,270.49 L212.38,269.77 L213.27,269.03 L214.16,268.29 L215.04,267.54 L215.93,266.79 L216.82,266.02 L217.70,265.25 L218.59,264.48 L219.48,263.69 L220.36,262.89 L221.25,262.09 L222.14,261.28 L223.03,260.46 L223.91,259.62 L224.80,258.78 L225.69,257.93 L226.57,257.06 L227.46,256.19 L228.35,255.30 L229.23,254.40 L230.12,253.49 L231.01,252.57 L231.90,251.63 L232.78,250.68 L233.67,249.71 L234.56,248.73 L235.44,247.73 L236.33,246.72 L237.22,245.69 L238.11,244.65 L238.99,243.58 L239.88,242.50 L240.77,241.41 L241.65,240.29 L242.54,239.15 L243.43,238.00 L244.31,236.82 L245.20,235.63 L246.09,234.41 L246.98,233.17 L247.86,231.91 L248.75,230.63 L249.64,229.33 L250.52,228.00 L251.41,226.65 L252.30,225.28 L253.18,223.88 L254.07,222.46 L254.96,221.01 L255.85,219.55 L256.73,218.05 L257.62,216.54 L258.51,215.00 L259.39,213.43 L260.28,211.85 L261.17,210.24 L262.06,208.60 L262.94,206.95 L263.83,205.27 L264.72,203.58 L265.60,201.86 L266.49,200.13 L267.38,198.37 L268.26,196.61 L269.15,194.82 L270.04,193.03 L270.93,191.22 L271.81,189.40 L272.70,187.58 L273.59,185.75 L274.47,183.91 L275.36,182.08 L276.25,180.24 L277.14,178.41 L278.02,176.59 L278.91,174.78 L279.80,172.98 L280.68,171.20 L281.57,169.43 L282.46,167.69 L283.34,165.98 L284.23,164.30 L285.12,162.65 L286.01,161.03 L286.89,159.46 L287.78,157.93 L288.67,156.45 L289.55,155.01 L290.44,153.64 L291.33,152.31 L292.21,151.05 L293.10,149.85 L293.99,148.71 L294.88,147.64 L295.76,146.64 L296.65,145.71 L297.54,144.85 L298.42,144.07 L299.31,143.36 L300.20,142.72 L301.09,142.16 L301.97,141.68 L302.86,141.27 L303.75,140.93 L304.63,140.66 L305.52,140.47 L306.41,140.35 L307.29,140.29 L308.18,140.30 L309.07,140.37 L309.96,140.51 L310.84,140.70 L311.73,140.95 L312.62,141.25 L313.50,141.59 L314.39,141.99 L315.28,142.42 L316.16,142.90 L317.05,143.41 L317.94,143.95 L318.83,144.52 L319.71,145.11 L320.60,145.72 L321.49,146.36 L322.37,147.01 L323.26,147.67 L324.15,148.33 L325.04,149.01 L325.92,149.68 L326.81,150.36 L327.70,151.04 L328.58,151.71 L329.47,152.37 L330.36,153.03 L331.24,153.67 L332.13,154.30 L333.02,154.92 L333.91,155.52 L334.79,156.11 L335.68,156.68 L336.57,157.23 L337.45,157.76 L338.34,158.26 L339.23,158.75 L340.11,159.21 L341.00,159.65 L341.89,160.07 L342.78,160.47 L343.66,160.84 L344.55,161.18 L345.44,161.51 L346.32,161.81 L347.21,162.08 L348.10,162.33 L348.99,162.56 L349.87,162.77 L350.76,162.95 L351.65,163.10 L352.53,163.24 L353.42,163.35 L354.31,163.44 L355.19,163.51 L356.08,163.56 L356.97,163.59" fill="none" stroke="#3c3c3c" stroke-width="0.90"/>
<path d="M220.47,276.87 L221.35,276.13 L222.24,275.38 L223.13,274.62 L224.01,273.85 L224.90,273.08 L225.79,272.29 L226.67,271.50 L227.56,270.71 L228.45,269.90 L229.34,269.08 L230.22,268.25 L231.11,267.42 L232.00,266.57 L232.88,265.71 L233.77,264.84 L234.66,263.96 L235.54,263.07 L236.43,262.16 L237.32,261.24 L238.21,260.31 L239.09,259.37 L239.98,258.41 L240.87,257.43 L241.75,256.45 L242.64,255.44 L243.53,254.42 L244.42,253.38 L245.30,252.33 L246.19,251.26 L247.08,250.17 L247.96,249.06 L248.85,247.94 L249.74,246.79 L250.62,245.63 L251.51,244.44 L252.40,243.24 L253.29,242.01 L254.17,240.76 L255.06,239.49 L255.95,238.20 L256.83,236.88 L257.72,235.54 L258.61,234.18 L259.49,232.80 L260.38,231.39 L261.27,229.96 L262.16,228.50 L263.04,227.02 L263.93,225.52 L264.82,223.99 L265.70,222.44 L266.59,220.86 L267.48,219.26 L268.37,217.64 L269.25,216.00 L270.14,214.33 L271.03,212.65 L271.91,210.94 L272.80,209.22 L273.69,207.47 L274.57,205.71 L275.46,203.94 L276.35,202.15 L277.24,200.35 L278.12,198.53 L279.01,196.71 L279.90,194.88 L280.78,193.05 L281.67,191.22 L282.56,189.38 L283.44,187.55 L284.33,185.72 L285.22,183.90 L286.11,182.10 L286.99,180.31 L287.88,178.53 L288.77,176.78 L289.65,175.05 L290.54,173.36 L291.43,171.69 L292.32,170.05 L293.20,168.46 L294.09,166.91 L294.98,165.40 L295.86,163.94 L296.75,162.54 L297.64,161.18 L298.52,159.89 L299.41,158.66 L300.30,157.49 L301.19,156.38 L302.07,155.35 L302.96,154.38 L303.85,153.49 L304.73,152.66 L305.62,151.92 L306.51,151.24 L307.40,150.64 L308.28,150.12 L309.17,149.67 L310.06,149.29 L310.94,148.99 L311.83,148.76 L312.72,148.60 L313.60,148.51 L314.49,148.49 L315.38,148.53 L316.27,148.63 L317.15,148.80 L318.04,149.02 L318.93,149.29 L319.81,149.61 L320.70,149.98 L321.59,150.40 L322.47,150.85 L323.36,151.35 L324.25,151.87 L325.14,152.43 L326.02,153.01 L326.91,153.61 L327.80,154.24 L328.68,154.88 L329.57,155.53 L330.46,156.19 L331.35,156.87 L332.23,157.54 L333.12,158.22 L334.01,158.90 L334.89,159.57 L335.78,160.24 L336.67,160.90 L337.55,161.55 L338.44,162.19 L339.33,162.81 L340.22,163.42 L341.10,164.02 L341.99,164.59 L342.88,165.15 L343.76,165.69 L344.65,166.21 L345.54,166.71 L346.42,167.18 L347.31,167.64 L348.20,168.07 L349.09,168.47 L349.97,168.85 L350.86,169.21 L351.75,169.55 L352.63,169.86 L353.52,170.15 L354.41,170.41 L355.30,170.65 L356.18,170.87 L357.07,171.06 L357.96,171.23 L358.84,171.38 L359.73,171.50 L360.62,171.60 L361.50,171.68 L362.39,171.74 L363.28,171.78 L364.17,171.80 L365.05,171.80 L365.94,171.78 L366.83,171.74 L367.71,171.68 L368.60,171.60 L369.49,171.50 L370.38,171.39" fill="none" stroke="#3c3c3c" stroke-width="0.90"/>
<path d="M233.87,279.38 L234.76,278.58 L235.65,277.77 L236.53,276.95 L237.42,276.12 L238.31,275.28 L239.19,274.43 L240.08,273.57 L240.97,272.70 L241.85,271.82 L242.74,270.92 L243.63,270.01 L244.52,269.09 L245.40,268.16 L246.29,267.21 L247.18,266.25 L248.06,265.27 L248.95,264.28 L249.84,263.27 L250.73,262.25 L251.61,261.21 L252.50,260.15 L253.39,259.08 L254.27,257.98 L255.16,256.87 L256.05,255.74 L256.93,254.59 L257.82,253.42 L258.71,252.23 L259.60,251.02 L260.48,249.79 L261.37,248.54 L262.26,247.26 L263.14,245.97 L264.03,244.65 L264.92,243.30 L265.80,241.94 L266.69,240.55 L267.58,239.13 L268.47,237.70 L269.35,236.24 L270.24,234.75 L271.13,233.24 L272.01,231.71 L272.90,230.15 L273.79,228.57 L274.68,226.97 L275.56,225.34 L276.45,223.70 L277.34,222.03 L278.22,220.34 L279.11,218.63 L280.00,216.90 L280.88,215.15 L281.77,213.39 L282.66,211.61 L283.55,209.82 L284.43,208.01 L285.32,206.20 L286.21,204.37 L287.09,202.54 L287.98,200.71 L288.87,198.87 L289.75,197.04 L290.64,195.21 L291.53,193.38 L292.42,191.57 L293.30,189.77 L294.19,187.98 L295.08,186.21 L295.96,184.46 L296.85,182.74 L297.74,181.05 L298.63,179.39 L299.51,177.76 L300.40,176.17 L301.29,174.63 L302.17,173.13 L303.06,171.69 L303.95,170.29 L304.83,168.95 L305.72,167.67 L306.61,166.45 L307.50,165.29 L308.38,164.20 L309.27,163.18 L310.16,162.23 L311.04,161.35 L311.93,160.54 L312.82,159.81 L313.70,159.15 L314.59,158.57 L315.48,158.06 L316.37,157.63 L317.25,157.27 L318.14,156.98 L319.03,156.76 L319.91,156.62 L320.80,156.54 L321.69,156.53 L322.58,156.59 L323.46,156.70 L324.35,156.88 L325.24,157.11 L326.12,157.39 L327.01,157.73 L327.90,158.11 L328.78,158.53 L329.67,158.99 L330.56,159.49 L331.45,160.02 L332.33,160.58 L333.22,161.17 L334.11,161.78 L334.99,162.41 L335.88,163.05 L336.77,163.71 L337.66,164.37 L338.54,165.05 L339.43,165.72 L340.32,166.40 L341.20,167.08 L342.09,167.75 L342.98,168.41 L343.86,169.07 L344.75,169.72 L345.64,170.36 L346.53,170.98 L347.41,171.59 L348.30,172.18 L349.19,172.75 L350.07,173.31 L350.96,173.84 L351.85,174.35 L352.73,174.85 L353.62,175.32 L354.51,175.77 L355.40,176.19 L356.28,176.59 L357.17,176.97 L358.06,177.32 L358.94,177.65 L359.83,177.96 L360.72,178.24 L361.61,178.50 L362.49,178.74 L363.38,178.95 L364.27,179.14 L365.15,179.30 L366.04,179.44 L366.93,179.56 L367.81,179.66 L368.70,179.74 L369.59,179.79 L370.48,179.83 L371.36,179.84 L372.25,179.83 L373.14,179.81 L374.02,179.76 L374.91,179.70 L375.80,179.62 L376.68,179.52 L377.57,179.41 L378.46,179.27 L379.35,179.13 L380.23,178.96 L381.12,178.78 L382.01,178.59 L382.89,178.38 L383.78,178.16" fill="none" stroke="#3c3c3c" stroke-width="0.90"/>
<path d="M247.28,281.51 L248.16,280.64 L249.05,279.75 L249.94,278.86 L250.83,277.95 L251.71,277.03 L252.60,276.10 L253.49,275.15 L254.37,274.19 L255.26,273.21 L256.15,272.22 L257.03,271.22 L257.92,270.19 L258.81,269.15 L259.70,268.10 L260.58,267.02 L261.47,265.93 L262.36,264.82 L263.24,263.69 L264.13,262.55 L265.02,261.38 L265.91,260.19 L266.79,258.98 L267.68,257.75 L268.57,256.50 L269.45,255.23 L270.34,253.93 L271.23,252.61 L272.11,251.27 L273.00,249.90 L273.89,248.52 L274.78,247.10 L275.66,245.67 L276.55,244.21 L277.44,242.72 L278.32,241.22 L279.21,239.69 L280.10,238.13 L280.99,236.55 L281.87,234.95 L282.76,233.33 L283.65,231.68 L284.53,230.01 L285.42,228.32 L286.31,226.61 L287.19,224.89 L288.08,223.14 L288.97,221.38 L289.86,219.60 L290.74,217.81 L291.63,216.00 L292.52,214.19 L293.40,212.37 L294.29,210.54 L295.18,208.70 L296.06,206.87 L296.95,205.03 L297.84,203.20 L298.73,201.38 L299.61,199.56 L300.50,197.76 L301.39,195.97 L302.27,194.20 L303.16,192.45 L304.05,190.73 L304.94,189.03 L305.82,187.37 L306.71,185.74 L307.60,184.15 L308.48,182.61 L309.37,181.11 L310.26,179.66 L311.14,178.26 L312.03,176.91 L312.92,175.63 L313.81,174.40 L314.69,173.24 L315.58,172.15 L316.47,171.13 L317.35,170.17 L318.24,169.29 L319.13,168.47 L320.01,167.74 L320.90,167.07 L321.79,166.49 L322.68,165.97 L323.56,165.53 L324.45,165.17 L325.34,164.88 L326.22,164.66 L327.11,164.51 L328.00,164.43 L328.89,164.42 L329.77,164.47 L330.66,164.58 L331.55,164.75 L332.43,164.98 L333.32,165.26 L334.21,165.59 L335.09,165.97 L335.98,166.39 L336.87,166.85 L337.76,167.35 L338.64,167.88 L339.53,168.43 L340.42,169.02 L341.30,169.63 L342.19,170.25 L343.08,170.90 L343.97,171.55 L344.85,172.22 L345.74,172.89 L346.63,173.57 L347.51,174.24 L348.40,174.92 L349.29,175.59 L350.17,176.26 L351.06,176.92 L351.95,177.57 L352.84,178.20 L353.72,178.83 L354.61,179.44 L355.50,180.03 L356.38,180.60 L357.27,181.16 L358.16,181.69 L359.04,182.21 L359.93,182.70 L360.82,183.18 L361.71,183.62 L362.59,184.05 L363.48,184.45 L364.37,184.83 L365.25,185.19 L366.14,185.52 L367.03,185.83 L367.92,186.11 L368.80,186.37 L369.69,186.61 L370.58,186.82 L371.46,187.01 L372.35,187.18 L373.24,187.32 L374.12,187.44 L375.01,187.54 L375.90,187.62 L376.79,187.68 L377.67,187.71 L378.56,187.73 L379.45,187.72 L380.33,187.70 L381.22,187.65 L382.11,187.59 L382.99,187.51 L383.88,187.41 L384.77,187.30 L385.66,187.17 L386.54,187.02 L387.43,186.86 L388.32,186.68 L389.20,186.49 L390.09,186.28 L390.98,186.06 L391.87,185.82 L392.75,185.58 L393.64,185.32 L394.53,185.04 L395.41,184.76 L396.30,184.46 L397.19,184.16" fill="none" stroke="#3c3c3c" stroke-width="0.90"/>
<path d="M260.68,283.13 L261.57,282.17 L262.46,281.20 L263.34,280.21 L264.23,279.21 L265.12,278.19 L266.01,277.15 L266.89,276.10 L267.78,275.03 L268.67,273.94 L269.55,272.83 L270.44,271.71 L271.33,270.56 L272.22,269.40 L273.10,268.21 L273.99,267.01 L274.88,265.78 L275.76,264.53 L276.65,263.26 L277.54,261.97 L278.42,260.66 L279.31,259.32 L280.20,257.96 L281.09,256.57 L281.97,255.16 L282.86,253.73 L283.75,252.28 L284.63,250.80 L285.52,249.29 L286.41,247.77 L287.29,246.22 L288.18,244.64 L289.07,243.04 L289.96,241.42 L290.84,239.78 L291.73,238.11 L292.62,236.43 L293.50,234.72 L294.39,233.00 L295.28,231.26 L296.17,229.50 L297.05,227.72 L297.94,225.93 L298.83,224.13 L299.71,222.32 L300.60,220.50 L301.49,218.67 L302.37,216.83 L303.26,215.00 L304.15,213.16 L305.04,211.33 L305.92,209.51 L306.81,207.69 L307.70,205.88 L308.58,204.09 L309.47,202.32 L310.36,200.56 L311.25,198.84 L312.13,197.14 L313.02,195.47 L313.91,193.83 L314.79,192.24 L315.68,190.69 L316.57,189.18 L317.45,187.72 L318.34,186.31 L319.23,184.96 L320.12,183.66 L321.00,182.43 L321.89,181.26 L322.78,180.15 L323.66,179.11 L324.55,178.15 L325.44,177.25 L326.32,176.43 L327.21,175.68 L328.10,175.00 L328.99,174.40 L329.87,173.88 L330.76,173.42 L331.65,173.05 L332.53,172.74 L333.42,172.51 L334.31,172.35 L335.20,172.26 L336.08,172.24 L336.97,172.28 L337.86,172.38 L338.74,172.54 L339.63,172.76 L340.52,173.03 L341.40,173.35 L342.29,173.72 L343.18,174.14 L344.07,174.59 L344.95,175.08 L345.84,175.61 L346.73,176.16 L347.61,176.74 L348.50,177.35 L349.39,177.97 L350.27,178.61 L351.16,179.26 L352.05,179.93 L352.94,180.60 L353.82,181.28 L354.71,181.95 L355.60,182.63 L356.48,183.30 L357.37,183.97 L358.26,184.63 L359.15,185.28 L360.03,185.92 L360.92,186.55 L361.81,187.16 L362.69,187.75 L363.58,188.33 L364.47,188.89 L365.35,189.43 L366.24,189.95 L367.13,190.44 L368.02,190.92 L368.90,191.37 L369.79,191.80 L370.68,192.21 L371.56,192.59 L372.45,192.95 L373.34,193.29 L374.23,193.60 L375.11,193.89 L376.00,194.15 L376.89,194.39 L377.77,194.61 L378.66,194.80 L379.55,194.97 L380.43,195.12 L381.32,195.25 L382.21,195.35 L383.10,195.43 L383.98,195.49 L384.87,195.53 L385.76,195.55 L386.64,195.55 L387.53,195.52 L388.42,195.48 L389.30,195.43 L390.19,195.35 L391.08,195.25 L391.97,195.14 L392.85,195.01 L393.74,194.87 L394.63,194.71 L395.51,194.53 L396.40,194.34 L397.29,194.14 L398.18,193.92 L399.06,193.69 L399.95,193.44 L400.84,193.18 L401.72,192.91 L402.61,192.63 L403.50,192.34 L404.38,192.03 L405.27,191.72 L406.16,191.39 L407.05,191.06 L407.93,190.71 L408.82,190.36 L409.71,190.00 L410.59,189.62" fill="none" stroke="#3c3c3c" stroke-width="0.90"/>
<path d="M274.09,278.56 L274.98,277.30 L275.86,276.01 L276.75,274.71 L277.64,273.38 L278.53,272.03 L279.41,270.66 L280.30,269.26 L281.19,267.84 L282.07,266.40 L282.96,264.93 L283.85,263.44 L284.73,261.92 L285.62,260.38 L286.51,258.82 L287.40,257.23 L288.28,255.62 L289.17,253.99 L290.06,252.33 L290.94,250.66 L291.83,248.96 L292.72,247.24 L293.60,245.51 L294.49,243.76 L295.38,241.99 L296.27,240.21 L297.15,238.41 L298.04,236.60 L298.93,234.78 L299.81,232.96 L300.70,231.13 L301.59,229.29 L302.48,227.46 L303.36,225.62 L304.25,223.79 L305.14,221.97 L306.02,220.16 L306.91,218.36 L307.80,216.58 L308.68,214.82 L309.57,213.08 L310.46,211.36 L311.35,209.68 L312.23,208.03 L313.12,206.42 L314.01,204.84 L314.89,203.31 L315.78,201.83 L316.67,200.40 L317.56,199.02 L318.44,197.70 L319.33,196.43 L320.22,195.23 L321.10,194.10 L321.99,193.03 L322.88,192.03 L323.76,191.10 L324.65,190.24 L325.54,189.46 L326.43,188.75 L327.31,188.11 L328.20,187.55 L329.09,187.06 L329.97,186.65 L330.86,186.32 L331.75,186.05 L332.63,185.86 L333.52,185.73 L334.41,185.68 L335.30,185.69 L336.18,185.76 L337.07,185.90 L337.96,186.09 L338.84,186.34 L339.73,186.64 L340.62,186.99 L341.51,187.38 L342.39,187.81 L343.28,188.29 L344.17,188.80 L345.05,189.34 L345.94,189.91 L346.83,190.50 L347.71,191.12 L348.60,191.75 L349.49,192.40 L350.38,193.06 L351.26,193.73 L352.15,194.40 L353.04,195.08 L353.92,195.75 L354.81,196.43 L355.70,197.10 L356.58,197.76 L357.47,198.42 L358.36,199.06 L359.25,199.70 L360.13,200.31 L361.02,200.92 L361.91,201.50 L362.79,202.07 L363.68,202.62 L364.57,203.15 L365.46,203.65 L366.34,204.14 L367.23,204.60 L368.12,205.05 L369.00,205.46 L369.89,205.86 L370.78,206.23 L371.66,206.58 L372.55,206.90 L373.44,207.20 L374.33,207.47 L375.21,207.72 L376.10,207.95 L376.99,208.16 L377.87,208.34 L378.76,208.49 L379.65,208.63 L380.53,208.74 L381.42,208.83 L382.31,208.90 L383.20,208.95 L384.08,208.98 L384.97,208.99 L385.86,208.98 L386.74,208.94 L387.63,208.89 L388.52,208.83 L389.41,208.74 L390.29,208.64 L391.18,208.51 L392.07,208.38 L392.95,208.22 L393.84,208.06 L394.73,207.87 L395.61,207.67 L396.50,207.46 L397.39,207.23 L398.28,207.00 L399.16,206.74 L400.05,206.48 L400.94,206.20 L401.82,205.91 L402.71,205.61 L403.60,205.30 L404.49,204.98 L405.37,204.65 L406.26,204.31 L407.15,203.96 L408.03,203.60 L408.92,203.24 L409.81,202.86 L410.69,202.48 L411.58,202.09 L412.47,201.69 L413.36,201.28 L414.24,200.87 L415.13,200.45 L416.02,200.02 L416.90,199.59 L417.79,199.15 L418.68,198.71 L419.56,198.26 L420.45,197.81 L421.34,197.35 L422.23,196.88 L423.11,196.41 L424.00,195.94" fill="none" stroke="#4040ff" stroke-width="0.90"/>
<path d="M287.50,269.82 L288.38,268.21 L289.27,266.58 L290.16,264.93 L291.04,263.25 L291.93,261.56 L292.82,259.84 L293.71,258.11 L294.59,256.36 L295.48,254.59 L296.37,252.81 L297.25,251.01 L298.14,249.20 L299.03,247.38 L299.91,245.56 L300.80,243.73 L301.69,241.89 L302.58,240.06 L303.46,238.23 L304.35,236.40 L305.24,234.57 L306.12,232.76 L307.01,230.96 L307.90,229.18 L308.79,227.41 L309.67,225.67 L310.56,223.96 L311.45,222.27 L312.33,220.62 L313.22,219.01 L314.11,217.43 L314.99,215.90 L315.88,214.42 L316.77,212.98 L317.66,211.60 L318.54,210.28 L319.43,209.01 L320.32,207.81 L321.20,206.67 L322.09,205.60 L322.98,204.59 L323.86,203.66 L324.75,202.80 L325.64,202.01 L326.53,201.30 L327.41,200.66 L328.30,200.10 L329.19,199.61 L330.07,199.20 L330.96,198.86 L331.85,198.59 L332.74,198.39 L333.62,198.27 L334.51,198.21 L335.40,198.22 L336.28,198.29 L337.17,198.42 L338.06,198.61 L338.94,198.85 L339.83,199.15 L340.72,199.50 L341.61,199.89 L342.49,200.32 L343.38,200.80 L344.27,201.30 L345.15,201.84 L346.04,202.41 L346.93,203.00 L347.82,203.62 L348.70,204.25 L349.59,204.90 L350.48,205.56 L351.36,206.23 L352.25,206.90 L353.14,207.58 L354.02,208.25 L354.91,208.93 L355.80,209.60 L356.69,210.26 L357.57,210.92 L358.46,211.57 L359.35,212.20 L360.23,212.82 L361.12,213.42 L362.01,214.01 L362.89,214.58 L363.78,215.12 L364.67,215.65 L365.56,216.16 L366.44,216.65 L367.33,217.11 L368.22,217.56 L369.10,217.97 L369.99,218.37 L370.88,218.74 L371.77,219.09 L372.65,219.41 L373.54,219.71 L374.43,219.99 L375.31,220.24 L376.20,220.47 L377.09,220.68 L377.97,220.86 L378.86,221.02 L379.75,221.15 L380.64,221.27 L381.52,221.36 L382.41,221.43 L383.30,221.48 L384.18,221.51 L385.07,221.52 L385.96,221.50 L386.84,221.47 L387.73,221.42 L388.62,221.36 L389.51,221.27 L390.39,221.17 L391.28,221.05 L392.17,220.91 L393.05,220.76 L393.94,220.59 L394.83,220.41 L395.72,220.21 L396.60,220.00 L397.49,219.77 L398.38,219.53 L399.26,219.28 L400.15,219.02 L401.04,218.74 L401.92,218.45 L402.81,218.15 L403.70,217.84 L404.59,217.52 L405.47,217.19 L406.36,216.85 L407.25,216.51 L408.13,216.15 L409.02,215.78 L409.91,215.40 L410.80,215.02 L411.68,214.63 L412.57,214.23 L413.46,213.83 L414.34,213.41 L415.23,212.99 L416.12,212.57 L417.00,212.14 L417.89,211.70 L418.78,211.25 L419.67,210.81 L420.55,210.35 L421.44,209.89 L422.33,209.43 L423.21,208.96 L424.10,208.49 L424.99,208.01 L425.87,207.53 L426.76,207.04 L427.65,206.55 L428.54,206.06 L429.42,205.56 L430.31,205.06 L431.20,204.56 L432.08,204.05 L432.97,203.54 L433.86,203.03 L434.75,202.51 L435.63,202.00 L436.52,201.48 L437.41,200.95" fill="none" stroke="#4040ff" stroke-width="0.90"/>
<path d="M300.90,258.03 L301.79,256.20 L302.68,254.37 L303.56,252.53 L304.45,250.70 L305.34,248.87 L306.22,247.04 L307.11,245.23 L308.00,243.42 L308.89,241.63 L309.77,239.86 L310.66,238.11 L311.55,236.38 L312.43,234.69 L313.32,233.02 L314.21,231.39 L315.10,229.80 L315.98,228.25 L316.87,226.75 L317.76,225.29 L318.64,223.89 L319.53,222.54 L320.42,221.25 L321.30,220.02 L322.19,218.86 L323.08,217.76 L323.97,216.73 L324.85,215.77 L325.74,214.88 L326.63,214.06 L327.51,213.32 L328.40,212.65 L329.29,212.06 L330.17,211.54 L331.06,211.09 L331.95,210.72 L332.84,210.43 L333.72,210.20 L334.61,210.05 L335.50,209.96 L336.38,209.94 L337.27,209.99 L338.16,210.10 L339.05,210.27 L339.93,210.49 L340.82,210.77 L341.71,211.09 L342.59,211.47 L343.48,211.89 L344.37,212.34 L345.25,212.84 L346.14,213.36 L347.03,213.92 L347.92,214.50 L348.80,215.11 L349.69,215.74 L350.58,216.38 L351.46,217.03 L352.35,217.70 L353.24,218.37 L354.12,219.05 L355.01,219.72 L355.90,220.40 L356.79,221.07 L357.67,221.74 L358.56,222.40 L359.45,223.05 L360.33,223.69 L361.22,224.31 L362.11,224.92 L363.00,225.51 L363.88,226.09 L364.77,226.65 L365.66,227.18 L366.54,227.70 L367.43,228.20 L368.32,228.67 L369.20,229.12 L370.09,229.55 L370.98,229.95 L371.87,230.34 L372.75,230.69 L373.64,231.03 L374.53,231.34 L375.41,231.62 L376.30,231.88 L377.19,232.12 L378.08,232.34 L378.96,232.53 L379.85,232.70 L380.74,232.84 L381.62,232.96 L382.51,233.06 L383.40,233.14 L384.28,233.20 L385.17,233.24 L386.06,233.25 L386.95,233.25 L387.83,233.23 L388.72,233.19 L389.61,233.13 L390.49,233.05 L391.38,232.95 L392.27,232.84 L393.15,232.71 L394.04,232.56 L394.93,232.40 L395.82,232.22 L396.70,232.03 L397.59,231.82 L398.48,231.60 L399.36,231.37 L400.25,231.12 L401.14,230.86 L402.03,230.59 L402.91,230.31 L403.80,230.02 L404.69,229.71 L405.57,229.39 L406.46,229.07 L407.35,228.73 L408.23,228.39 L409.12,228.03 L410.01,227.67 L410.90,227.30 L411.78,226.92 L412.67,226.53 L413.56,226.13 L414.44,225.73 L415.33,225.32 L416.22,224.90 L417.10,224.48 L417.99,224.05 L418.88,223.61 L419.77,223.17 L420.65,222.73 L421.54,222.27 L422.43,221.82 L423.31,221.35 L424.20,220.89 L425.09,220.42 L425.98,219.94 L426.86,219.46 L427.75,218.98 L428.64,218.49 L429.52,218.00 L430.41,217.50 L431.30,217.00 L432.18,216.50 L433.07,215.99 L433.96,215.49 L434.85,214.97 L435.73,214.46 L436.62,213.94 L437.51,213.42 L438.39,212.90 L439.28,212.38 L440.17,211.85 L441.06,211.32 L441.94,210.79 L442.83,210.26 L443.72,209.73 L444.60,209.19 L445.49,208.65 L446.38,208.11 L447.26,207.57 L448.15,207.03 L449.04,206.48 L449.93,205.94 L450.81,205.39" fill="none" stroke="#4040ff" stroke-width="0.90"/>
<path d="M314.31,246.73 L315.20,245.04 L316.08,243.39 L316.97,241.78 L317.86,240.20 L318.74,238.67 L319.63,237.19 L320.52,235.75 L321.41,234.37 L322.29,233.05 L323.18,231.79 L324.07,230.58 L324.95,229.45 L325.84,228.38 L326.73,227.37 L327.61,226.44 L328.50,225.58 L329.39,224.80 L330.28,224.09 L331.16,223.45 L332.05,222.89 L332.94,222.40 L333.82,221.99 L334.71,221.65 L335.60,221.38 L336.48,221.19 L337.37,221.06 L338.26,221.00 L339.15,221.01 L340.03,221.08 L340.92,221.22 L341.81,221.41 L342.69,221.65 L343.58,221.95 L344.47,222.30 L345.36,222.69 L346.24,223.13 L347.13,223.60 L348.02,224.11 L348.90,224.65 L349.79,225.22 L350.68,225.81 L351.56,226.43 L352.45,227.06 L353.34,227.71 L354.23,228.37 L355.11,229.03 L356.00,229.71 L356.89,230.38 L357.77,231.06 L358.66,231.74 L359.55,232.41 L360.43,233.07 L361.32,233.73 L362.21,234.37 L363.10,235.00 L363.98,235.62 L364.87,236.23 L365.76,236.81 L366.64,237.38 L367.53,237.93 L368.42,238.46 L369.31,238.97 L370.19,239.45 L371.08,239.92 L371.97,240.36 L372.85,240.78 L373.74,241.17 L374.63,241.54 L375.51,241.89 L376.40,242.21 L377.29,242.51 L378.18,242.79 L379.06,243.04 L379.95,243.27 L380.84,243.47 L381.72,243.66 L382.61,243.81 L383.50,243.95 L384.39,244.06 L385.27,244.16 L386.16,244.23 L387.05,244.27 L387.93,244.30 L388.82,244.31 L389.71,244.30 L390.59,244.27 L391.48,244.22 L392.37,244.15 L393.26,244.06 L394.14,243.96 L395.03,243.84 L395.92,243.70 L396.80,243.55 L397.69,243.38 L398.58,243.20 L399.46,243.00 L400.35,242.79 L401.24,242.56 L402.13,242.32 L403.01,242.07 L403.90,241.81 L404.79,241.53 L405.67,241.24 L406.56,240.94 L407.45,240.64 L408.34,240.31 L409.22,239.98 L410.11,239.64 L411.00,239.30 L411.88,238.94 L412.77,238.57 L413.66,238.19 L414.54,237.81 L415.43,237.42 L416.32,237.02 L417.21,236.62 L418.09,236.20 L418.98,235.78 L419.87,235.36 L420.75,234.92 L421.64,234.49 L422.53,234.04 L423.41,233.59 L424.30,233.14 L425.19,232.68 L426.08,232.22 L426.96,231.75 L427.85,231.27 L428.74,230.80 L429.62,230.31 L430.51,229.83 L431.40,229.34 L432.29,228.84 L433.17,228.35 L434.06,227.85 L434.95,227.34 L435.83,226.84 L436.72,226.33 L437.61,225.82 L438.49,225.30 L439.38,224.78 L440.27,224.26 L441.16,223.74 L442.04,223.21 L442.93,222.69 L443.82,222.16 L444.70,221.63 L445.59,221.09 L446.48,220.56 L447.36,220.02 L448.25,219.48 L449.14,218.94 L450.03,218.40 L450.91,217.85 L451.80,217.31 L452.69,216.76 L453.57,216.22 L454.46,215.67 L455.35,215.12 L456.24,214.56 L457.12,214.01 L458.01,213.46 L458.90,212.90 L459.78,212.35 L460.67,211.79 L461.56,211.23 L462.44,210.67 L463.33,210.11 L464.22,209.55" fill="none" stroke="#4040ff" stroke-width="0.90"/>
<path d="M327.71,240.60 L328.60,239.49 L329.49,238.44 L330.38,237.47 L331.26,236.56 L332.15,235.73 L333.04,234.97 L333.92,234.29 L334.81,233.68 L335.70,233.15 L336.59,232.69 L337.47,232.30 L338.36,231.99 L339.25,231.75 L340.13,231.59 L341.02,231.49 L341.91,231.46 L342.79,231.49 L343.68,231.58 L344.57,231.74 L345.46,231.95 L346.34,232.22 L347.23,232.54 L348.12,232.90 L349.00,233.31 L349.89,233.76 L350.78,234.25 L351.67,234.77 L352.55,235.32 L353.44,235.90 L354.33,236.50 L355.21,237.12 L356.10,237.76 L356.99,238.41 L357.87,239.08 L358.76,239.75 L359.65,240.42 L360.54,241.10 L361.42,241.78 L362.31,242.45 L363.20,243.12 L364.08,243.78 L364.97,244.43 L365.86,245.07 L366.74,245.70 L367.63,246.31 L368.52,246.91 L369.41,247.49 L370.29,248.05 L371.18,248.59 L372.07,249.11 L372.95,249.61 L373.84,250.09 L374.73,250.55 L375.62,250.98 L376.50,251.39 L377.39,251.77 L378.28,252.14 L379.16,252.47 L380.05,252.79 L380.94,253.08 L381.82,253.35 L382.71,253.59 L383.60,253.81 L384.49,254.00 L385.37,254.18 L386.26,254.33 L387.15,254.45 L388.03,254.56 L388.92,254.64 L389.81,254.70 L390.69,254.74 L391.58,254.77 L392.47,254.77 L393.36,254.75 L394.24,254.71 L395.13,254.65 L396.02,254.58 L396.90,254.48 L397.79,254.37 L398.68,254.25 L399.57,254.10 L400.45,253.95 L401.34,253.77 L402.23,253.58 L403.11,253.38 L404.00,253.16 L404.89,252.93 L405.77,252.69 L406.66,252.43 L407.55,252.16 L408.44,251.88 L409.32,251.59 L410.21,251.28 L411.10,250.97 L411.98,250.65 L412.87,250.31 L413.76,249.97 L414.65,249.62 L415.53,249.25 L416.42,248.88 L417.31,248.51 L418.19,248.12 L419.08,247.72 L419.97,247.32 L420.85,246.91 L421.74,246.50 L422.63,246.08 L423.52,245.65 L424.40,245.21 L425.29,244.77 L426.18,244.33 L427.06,243.88 L427.95,243.42 L428.84,242.96 L429.72,242.49 L430.61,242.02 L431.50,241.55 L432.39,241.07 L433.27,240.59 L434.16,240.10 L435.05,239.61 L435.93,239.11 L436.82,238.61 L437.71,238.11 L438.60,237.61 L439.48,237.10 L440.37,236.59 L441.26,236.08 L442.14,235.56 L443.03,235.04 L443.92,234.52 L444.80,234.00 L445.69,233.47 L446.58,232.94 L447.47,232.41 L448.35,231.88 L449.24,231.34 L450.13,230.81 L451.01,230.27 L451.90,229.73 L452.79,229.19 L453.67,228.65 L454.56,228.10 L455.45,227.56 L456.34,227.01 L457.22,226.46 L458.11,225.91 L459.00,225.36 L459.88,224.81 L460.77,224.26 L461.66,223.70 L462.55,223.15 L463.43,222.59 L464.32,222.03 L465.21,221.47 L466.09,220.92 L466.98,220.36 L467.87,219.80 L468.75,219.23 L469.64,218.67 L470.53,218.11 L471.42,217.55 L472.30,216.98 L473.19,216.42 L474.08,215.85 L474.96,215.28 L475.85,214.72 L476.74,214.15 L477.62,213.58" fill="none" stroke="#4040ff" stroke-width="0.90"/>
<path d="M261.85,80.32 L262.53,81.84 L263.22,83.36 L263.92,84.87 L264.63,86.37 L265.35,87.87 L266.08,89.36 L266.82,90.85 L267.57,92.33 L268.33,93.80 L269.09,95.27 L269.87,96.73 L270.65,98.18 L271.45,99.63 L272.25,101.08 L273.06,102.52 L273.88,103.95 L274.71,105.38 L275.54,106.80 L276.39,108.22 L277.24,109.63 L278.10,111.03 L278.97,112.43 L279.84,113.83 L280.73,115.22 L281.62,116.60 L282.52,117.98 L283.43,119.36 L284.35,120.73 L285.27,122.09 L286.20,123.45 L287.14,124.81 L288.08,126.16 L289.04,127.50 L290.00,128.85 L290.96,130.18 L291.94,131.51 L292.92,132.84 L293.91,134.16 L294.90,135.48 L295.90,136.80 L296.91,138.11 L297.93,139.41 L298.95,140.71 L299.98,142.01 L301.01,143.30 L302.05,144.59 L303.10,145.87 L304.15,147.15 L305.21,148.43 L306.28,149.70 L307.35,150.97 L308.43,152.23 L309.52,153.49 L310.61,154.75 L311.70,156.00 L312.81,157.25 L313.91,158.49 L315.03,159.73 L316.15,160.97 L317.27,162.20 L318.40,163.43 L319.54,164.66 L320.68,165.88 L321.83,167.10 L322.98,168.31 L324.14,169.52 L325.30,170.73 L326.47,171.94 L327.65,173.14 L328.83,174.34" fill="none" stroke="#000" stroke-width="1.7" stroke-dasharray="4.6,4.4"/>
<path d="M352.65,109.33 L351.55,111.30 L350.49,113.25 L349.46,115.17 L348.46,117.08 L347.50,118.97 L346.56,120.83 L345.64,122.68 L344.76,124.51 L343.91,126.33 L343.08,128.12 L342.27,129.90 L341.50,131.66 L340.75,133.40 L340.02,135.13 L339.32,136.84 L338.65,138.54 L337.99,140.22 L337.37,141.88 L336.76,143.53 L336.18,145.17 L335.62,146.79 L335.08,148.39 L334.56,149.98 L334.06,151.56 L333.59,153.13 L333.13,154.68 L332.70,156.22 L332.28,157.74 L331.88,159.26 L331.51,160.76 L331.15,162.24 L330.81,163.72 L330.48,165.19 L330.18,166.64 L329.89,168.08 L329.62,169.51 L329.37,170.93 L329.14,172.34 L328.92,173.73 L328.71,175.12 L328.53,176.50 L328.35,177.86 L328.20,179.22 L328.06,180.57 L327.93,181.90 L327.82,183.23 L327.72,184.55 L327.64,185.85 L327.57,187.15 L327.52,188.44 L327.48,189.72 L327.45,190.99 L327.44,192.26 L327.44,193.51 L327.45,194.76 L327.48,196.00 L327.51,197.23 L327.56,198.45 L327.63,199.66 L327.70,200.87 L327.79,202.06 L327.88,203.25 L327.99,204.44 L328.11,205.61 L328.24,206.78 L328.39,207.94 L328.54,209.10 L328.71,210.24 L328.88,211.38 L329.07,212.52 L329.26,213.64 L329.47,214.76 L329.68,215.88 L329.91,216.98 L330.14,218.08 L330.39,219.18 L330.64,220.27 L330.91,221.35 L331.18,222.42" fill="none" stroke="#0000ff" stroke-width="2.10"/>
<path d="M92.83,218.40 L94.02,218.74 L95.22,219.07 L96.41,219.41 L97.61,219.75 L98.80,220.09 L100.00,220.42 L101.20,220.76 L102.39,221.10 L103.59,221.43 L104.78,221.77 L105.98,222.10 L107.18,222.44 L108.37,222.77 L109.57,223.11 L110.76,223.44 L111.96,223.77 L113.15,224.11 L114.35,224.44 L115.55,224.77 L116.74,225.10 L117.94,225.43 L119.13,225.76 L120.33,226.09 L121.52,226.42 L122.72,226.75 L123.92,227.08 L125.11,227.40 L126.31,227.73 L127.50,228.05 L128.70,228.38 L129.89,228.70 L131.09,229.03 L132.29,229.35 L133.48,229.67 L134.68,229.99 L135.87,230.31 L137.07,230.63 L138.26,230.95 L139.46,231.27 L140.66,231.58 L141.85,231.90 L143.05,232.21 L144.24,232.52 L145.44,232.84 L146.63,233.15 L147.83,233.46 L149.03,233.76 L150.22,234.07 L151.42,234.38 L152.61,234.68 L153.81,234.99 L155.01,235.29 L156.20,235.59 L157.40,235.89 L158.59,236.18 L159.79,236.48 L160.98,236.77 L162.18,237.07 L163.38,237.36 L164.57,237.65 L165.77,237.93 L166.96,238.22 L168.16,238.50 L169.35,238.78 L170.55,239.06 L171.75,239.34 L172.94,239.61 L174.14,239.89 L175.33,240.16 L176.53,240.43 L177.72,240.69 L178.92,240.96 L180.12,241.22 L181.31,241.48 L182.51,241.73 L183.70,241.99 L184.90,242.24 L186.09,242.49 L187.29,242.73 L188.49,242.97 L189.68,243.21 L190.88,243.45 L192.07,243.68 L193.27,243.91 L194.46,244.14 L195.66,244.36 L196.86,244.58 L198.05,244.80 L199.25,245.01 L200.44,245.22 L201.64,245.43 L202.84,245.63 L204.03,245.83 L205.23,246.02 L206.42,246.22 L207.62,246.40 L208.81,246.58 L210.01,246.76 L211.21,246.93 L212.40,247.10 L213.60,247.27 L214.79,247.43 L215.99,247.58 L217.18,247.73 L218.38,247.88 L219.58,248.02 L220.77,248.16 L221.97,248.29 L223.16,248.41 L224.36,248.53 L225.55,248.65 L226.75,248.76 L227.95,248.86 L229.14,248.96 L230.34,249.05 L231.53,249.14 L232.73,249.22 L233.92,249.30 L235.12,249.37 L236.32,249.43 L237.51,249.49 L238.71,249.54 L239.90,249.58 L241.10,249.62 L242.29,249.65 L243.49,249.68 L244.69,249.70 L245.88,249.71 L247.08,249.71 L248.27,249.71 L249.47,249.70 L250.66,249.69 L251.86,249.67 L253.06,249.64 L254.25,249.60 L255.45,249.56 L256.64,249.51 L257.84,249.45 L259.04,249.39 L260.23,249.31 L261.43,249.23 L262.62,249.15 L263.82,249.05 L265.01,248.95 L266.21,248.85 L267.41,248.73 L268.60,248.61 L269.80,248.48 L270.99,248.34 L272.19,248.20 L273.38,248.05 L274.58,247.89 L275.78,247.72 L276.97,247.55 L278.17,247.37 L279.36,247.18 L280.56,246.99 L281.75,246.79 L282.95,246.58 L284.15,246.37 L285.34,246.15 L286.54,245.93 L287.73,245.49 L288.93,244.27 L290.12,243.01 L291.32,241.72 L292.52,240.39 L293.71,239.04 L294.91,237.66 L296.10,236.26 L297.30,234.85 L298.49,233.42 L299.69,232.00 L300.89,230.58 L302.08,229.17 L303.28,227.78 L304.47,226.41 L305.67,225.07 L306.87,223.77 L308.06,222.51 L309.26,221.30 L310.45,220.16 L311.65,219.07 L312.84,218.05 L314.04,217.11 L315.24,216.25 L316.43,215.48 L317.63,214.80 L318.82,214.21 L320.02,213.72 L321.21,213.33 L322.41,213.04 L323.61,212.85 L324.80,212.77 L326.00,212.79 L327.19,212.91 L328.39,213.14 L329.58,213.47 L330.78,213.89 L331.98,214.41 L333.17,215.02 L334.37,215.72 L335.56,216.50 L336.76,217.37 L337.95,218.31 L339.15,219.32 L340.35,220.40 L341.54,221.54 L342.74,222.73 L343.93,223.98 L345.13,225.27 L346.32,226.61 L347.52,227.98 L348.72,229.39 L349.91,230.82 L351.11,232.28 L352.30,233.76 L353.50,235.25 L354.69,236.76" fill="none" stroke="#000" stroke-width="2.1"/>
<text transform="translate(93.8,268.8) matrix(1,0.288,0,1,0,0)" font-size="11.00" stroke="#000" stroke-width="0.45" text-anchor="middle" fill="#000">320</text>
<text transform="translate(165.3,289.4) matrix(1,0.288,0,1,0,0)" font-size="11.00" stroke="#000" stroke-width="0.45" text-anchor="middle" fill="#000">360</text>
<text transform="translate(236.8,310.1) matrix(1,0.288,0,1,0,0)" font-size="11.00" stroke="#000" stroke-width="0.45" text-anchor="middle" fill="#000">400</text>
<text transform="translate(308.4,330.7) matrix(1,0.288,0,1,0,0)" font-size="11.00" stroke="#000" stroke-width="0.45" text-anchor="middle" fill="#000">440</text>
<text transform="translate(45.0,236.9) matrix(1,0.288,0,1,0,0)" font-size="11.00" stroke="#000" stroke-width="0.45" text-anchor="end" fill="#000">0</text>
<text transform="translate(45.0,191.8) matrix(1,0.288,0,1,0,0)" font-size="11.00" stroke="#000" stroke-width="0.45" text-anchor="end" fill="#000">0.1</text>
<text transform="translate(45.0,146.6) matrix(1,0.288,0,1,0,0)" font-size="11.00" stroke="#000" stroke-width="0.45" text-anchor="end" fill="#000">0.2</text>
<text transform="translate(338.1,350.5) matrix(0.64,-0.27,-0.30,1.25,0,0)" font-size="11.00" stroke="#000" stroke-width="0.45" fill="#000">10</text>
<text transform="translate(348.9,339.1) matrix(0.64,-0.27,-0.30,1.25,0,0)" font-size="6.80" stroke="#000" stroke-width="0.3" text-anchor="middle" fill="#000">-2</text>
<text transform="translate(357.1,338.1) matrix(0.64,-0.27,-0.30,1.25,0,0)" font-size="11.00" stroke="#000" stroke-width="0.45" fill="#000">10</text>
<text transform="translate(367.9,326.7) matrix(0.64,-0.27,-0.30,1.25,0,0)" font-size="6.80" stroke="#000" stroke-width="0.3" text-anchor="middle" fill="#000">-1</text>
<text transform="translate(376.1,325.7) matrix(0.64,-0.27,-0.30,1.25,0,0)" font-size="11.00" stroke="#000" stroke-width="0.45" fill="#000">10</text>
<text transform="translate(386.9,314.3) matrix(0.64,-0.27,-0.30,1.25,0,0)" font-size="6.80" stroke="#000" stroke-width="0.3" text-anchor="middle" fill="#000">0</text>
<text transform="translate(395.1,313.3) matrix(0.64,-0.27,-0.30,1.25,0,0)" font-size="11.00" stroke="#000" stroke-width="0.45" fill="#000">10</text>
<text transform="translate(405.9,301.9) matrix(0.64,-0.27,-0.30,1.25,0,0)" font-size="6.80" stroke="#000" stroke-width="0.3" text-anchor="middle" fill="#000">1</text>
<text transform="translate(414.1,300.9) matrix(0.64,-0.27,-0.30,1.25,0,0)" font-size="11.00" stroke="#000" stroke-width="0.45" fill="#000">10</text>
<text transform="translate(424.9,289.5) matrix(0.64,-0.27,-0.30,1.25,0,0)" font-size="6.80" stroke="#000" stroke-width="0.3" text-anchor="middle" fill="#000">2</text>
<text transform="translate(433.1,288.5) matrix(0.64,-0.27,-0.30,1.25,0,0)" font-size="11.00" stroke="#000" stroke-width="0.45" fill="#000">10</text>
<text transform="translate(443.9,277.1) matrix(0.64,-0.27,-0.30,1.25,0,0)" font-size="6.80" stroke="#000" stroke-width="0.3" text-anchor="middle" fill="#000">3</text>
<text transform="translate(452.1,276.1) matrix(0.64,-0.27,-0.30,1.25,0,0)" font-size="11.00" stroke="#000" stroke-width="0.45" fill="#000">10</text>
<text transform="translate(462.9,264.7) matrix(0.64,-0.27,-0.30,1.25,0,0)" font-size="6.80" stroke="#000" stroke-width="0.3" text-anchor="middle" fill="#000">4</text>
<text transform="translate(471.1,263.7) matrix(0.64,-0.27,-0.30,1.25,0,0)" font-size="11.00" stroke="#000" stroke-width="0.45" fill="#000">10</text>
<text transform="translate(481.9,252.3) matrix(0.64,-0.27,-0.30,1.25,0,0)" font-size="6.80" stroke="#000" stroke-width="0.3" text-anchor="middle" fill="#000">5</text>
<text transform="translate(490.1,251.3) matrix(0.64,-0.27,-0.30,1.25,0,0)" font-size="11.00" stroke="#000" stroke-width="0.45" fill="#000">10</text>
<text transform="translate(500.9,239.9) matrix(0.64,-0.27,-0.30,1.25,0,0)" font-size="6.80" stroke="#000" stroke-width="0.3" text-anchor="middle" fill="#000">6</text>
<text transform="translate(22.2,193.7) rotate(-90)" font-size="13.00" fill="#222"><tspan font-style="italic">E</tspan>''(<tspan font-style="italic">T</tspan>,<tspan font-family="Liberation Serif,serif" font-size="9.00">ω</tspan>) / <tspan font-style="italic">E</tspan><tspan font-size="8.50" dy="3.00">0</tspan></text>
<text x="184.9" y="315.1" font-size="14.90" fill="#111" letter-spacing="-0.2"><tspan font-style="italic">T</tspan> / K</text>
<text x="404.0" y="312.1" font-size="12.00" fill="#222"><tspan font-family="Liberation Serif,serif">ω</tspan><tspan font-size="8.00" dy="-4.00">-1</tspan><tspan dy="4.00"> / s</tspan></text>
<text x="234" y="54.7" font-size="12" fill="#000">VFTne</text><text x="234" y="67.7" font-size="12" fill="#000">Tf=412.4K</text>
<text x="347.3" y="100.3" font-size="12" fill="#00f">VFT</text>
<line x1="733.50" y1="137.30" x2="733.50" y2="17.50" stroke="#6a6a6a" stroke-width="1"/>
<line x1="733.50" y1="137.30" x2="1008.10" y2="217.00" stroke="#6a6a6a" stroke-width="1"/>
<line x1="587.50" y1="233.20" x2="733.50" y2="137.30" stroke="#6a6a6a" stroke-width="1"/>
<line x1="587.50" y1="233.20" x2="587.50" y2="113.40" stroke="#505050" stroke-width="1"/>
<line x1="587.50" y1="113.40" x2="733.50" y2="17.50" stroke="#6a6a6a" stroke-width="1"/>
<line x1="733.50" y1="17.50" x2="1008.10" y2="97.20" stroke="#6a6a6a" stroke-width="1"/>
<line x1="1008.10" y1="97.20" x2="1008.10" y2="217.00" stroke="#6a6a6a" stroke-width="1"/>
<line x1="587.50" y1="233.20" x2="862.10" y2="312.90" stroke="#505050" stroke-width="1"/>
<line x1="862.10" y1="312.90" x2="1008.10" y2="217.00" stroke="#505050" stroke-width="1"/>
<line x1="587.50" y1="233.20" x2="581.94" y2="231.60" stroke="#505050" stroke-width="1"/>
<line x1="587.50" y1="211.35" x2="584.72" y2="210.55" stroke="#505050" stroke-width="1"/>
<line x1="587.50" y1="189.51" x2="581.94" y2="187.91" stroke="#505050" stroke-width="1"/>
<line x1="587.50" y1="167.66" x2="584.72" y2="166.86" stroke="#505050" stroke-width="1"/>
<line x1="587.50" y1="145.82" x2="581.94" y2="144.22" stroke="#505050" stroke-width="1"/>
<line x1="587.50" y1="123.97" x2="584.72" y2="123.17" stroke="#505050" stroke-width="1"/>
<line x1="587.50" y1="233.20" x2="587.50" y2="236.09" stroke="#505050" stroke-width="1"/>
<line x1="621.83" y1="243.16" x2="621.83" y2="248.95" stroke="#505050" stroke-width="1"/>
<line x1="656.15" y1="253.12" x2="656.15" y2="256.02" stroke="#505050" stroke-width="1"/>
<line x1="690.48" y1="263.09" x2="690.48" y2="268.88" stroke="#505050" stroke-width="1"/>
<line x1="724.80" y1="273.05" x2="724.80" y2="275.94" stroke="#505050" stroke-width="1"/>
<line x1="759.12" y1="283.01" x2="759.12" y2="288.80" stroke="#505050" stroke-width="1"/>
<line x1="793.45" y1="292.98" x2="793.45" y2="295.87" stroke="#505050" stroke-width="1"/>
<line x1="827.78" y1="302.94" x2="827.78" y2="308.73" stroke="#505050" stroke-width="1"/>
<line x1="862.10" y1="312.90" x2="862.10" y2="318.69" stroke="#505050" stroke-width="1"/>
<line x1="867.59" y1="309.29" x2="867.59" y2="312.19" stroke="#505050" stroke-width="1"/>
<line x1="870.81" y1="307.18" x2="870.81" y2="310.08" stroke="#505050" stroke-width="1"/>
<line x1="873.09" y1="305.68" x2="873.09" y2="308.58" stroke="#505050" stroke-width="1"/>
<line x1="874.86" y1="304.52" x2="874.86" y2="307.42" stroke="#505050" stroke-width="1"/>
<line x1="876.30" y1="303.57" x2="876.30" y2="306.47" stroke="#505050" stroke-width="1"/>
<line x1="877.52" y1="302.77" x2="877.52" y2="305.66" stroke="#505050" stroke-width="1"/>
<line x1="878.58" y1="302.07" x2="878.58" y2="304.97" stroke="#505050" stroke-width="1"/>
<line x1="879.51" y1="301.46" x2="879.51" y2="304.36" stroke="#505050" stroke-width="1"/>
<line x1="880.35" y1="300.91" x2="880.35" y2="306.70" stroke="#505050" stroke-width="1"/>
<line x1="885.84" y1="297.30" x2="885.84" y2="300.20" stroke="#505050" stroke-width="1"/>
<line x1="889.06" y1="295.19" x2="889.06" y2="298.09" stroke="#505050" stroke-width="1"/>
<line x1="891.34" y1="293.70" x2="891.34" y2="296.59" stroke="#505050" stroke-width="1"/>
<line x1="893.11" y1="292.53" x2="893.11" y2="295.43" stroke="#505050" stroke-width="1"/>
<line x1="894.55" y1="291.58" x2="894.55" y2="294.48" stroke="#505050" stroke-width="1"/>
<line x1="895.77" y1="290.78" x2="895.77" y2="293.68" stroke="#505050" stroke-width="1"/>
<line x1="896.83" y1="290.09" x2="896.83" y2="292.98" stroke="#505050" stroke-width="1"/>
<line x1="897.76" y1="289.47" x2="897.76" y2="292.37" stroke="#505050" stroke-width="1"/>
<line x1="898.60" y1="288.92" x2="898.60" y2="294.71" stroke="#505050" stroke-width="1"/>
<line x1="904.09" y1="285.32" x2="904.09" y2="288.21" stroke="#505050" stroke-width="1"/>
<line x1="907.31" y1="283.21" x2="907.31" y2="286.10" stroke="#505050" stroke-width="1"/>
<line x1="909.59" y1="281.71" x2="909.59" y2="284.60" stroke="#505050" stroke-width="1"/>
<line x1="911.36" y1="280.55" x2="911.36" y2="283.44" stroke="#505050" stroke-width="1"/>
<line x1="912.80" y1="279.60" x2="912.80" y2="282.49" stroke="#505050" stroke-width="1"/>
<line x1="914.02" y1="278.79" x2="914.02" y2="281.69" stroke="#505050" stroke-width="1"/>
<line x1="915.08" y1="278.10" x2="915.08" y2="280.99" stroke="#505050" stroke-width="1"/>
<line x1="916.01" y1="277.49" x2="916.01" y2="280.38" stroke="#505050" stroke-width="1"/>
<line x1="916.85" y1="276.94" x2="916.85" y2="282.73" stroke="#505050" stroke-width="1"/>
<line x1="922.34" y1="273.33" x2="922.34" y2="276.22" stroke="#505050" stroke-width="1"/>
<line x1="925.56" y1="271.22" x2="925.56" y2="274.11" stroke="#505050" stroke-width="1"/>
<line x1="927.84" y1="269.72" x2="927.84" y2="272.62" stroke="#505050" stroke-width="1"/>
<line x1="929.61" y1="268.56" x2="929.61" y2="271.45" stroke="#505050" stroke-width="1"/>
<line x1="931.05" y1="267.61" x2="931.05" y2="270.50" stroke="#505050" stroke-width="1"/>
<line x1="932.27" y1="266.81" x2="932.27" y2="269.70" stroke="#505050" stroke-width="1"/>
<line x1="933.33" y1="266.11" x2="933.33" y2="269.01" stroke="#505050" stroke-width="1"/>
<line x1="934.26" y1="265.50" x2="934.26" y2="268.39" stroke="#505050" stroke-width="1"/>
<line x1="935.10" y1="264.95" x2="935.10" y2="270.74" stroke="#505050" stroke-width="1"/>
<line x1="940.59" y1="261.34" x2="940.59" y2="264.24" stroke="#505050" stroke-width="1"/>
<line x1="943.81" y1="259.23" x2="943.81" y2="262.13" stroke="#505050" stroke-width="1"/>
<line x1="946.09" y1="257.73" x2="946.09" y2="260.63" stroke="#505050" stroke-width="1"/>
<line x1="947.86" y1="256.57" x2="947.86" y2="259.47" stroke="#505050" stroke-width="1"/>
<line x1="949.30" y1="255.62" x2="949.30" y2="258.52" stroke="#505050" stroke-width="1"/>
<line x1="950.52" y1="254.82" x2="950.52" y2="257.71" stroke="#505050" stroke-width="1"/>
<line x1="951.58" y1="254.12" x2="951.58" y2="257.02" stroke="#505050" stroke-width="1"/>
<line x1="952.51" y1="253.51" x2="952.51" y2="256.41" stroke="#505050" stroke-width="1"/>
<line x1="953.35" y1="252.96" x2="953.35" y2="258.75" stroke="#505050" stroke-width="1"/>
<line x1="958.84" y1="249.35" x2="958.84" y2="252.25" stroke="#505050" stroke-width="1"/>
<line x1="962.06" y1="247.24" x2="962.06" y2="250.14" stroke="#505050" stroke-width="1"/>
<line x1="964.34" y1="245.75" x2="964.34" y2="248.64" stroke="#505050" stroke-width="1"/>
<line x1="966.11" y1="244.58" x2="966.11" y2="247.48" stroke="#505050" stroke-width="1"/>
<line x1="967.55" y1="243.63" x2="967.55" y2="246.53" stroke="#505050" stroke-width="1"/>
<line x1="968.77" y1="242.83" x2="968.77" y2="245.73" stroke="#505050" stroke-width="1"/>
<line x1="969.83" y1="242.14" x2="969.83" y2="245.03" stroke="#505050" stroke-width="1"/>
<line x1="970.76" y1="241.52" x2="970.76" y2="244.42" stroke="#505050" stroke-width="1"/>
<line x1="971.60" y1="240.97" x2="971.60" y2="246.76" stroke="#505050" stroke-width="1"/>
<line x1="977.09" y1="237.37" x2="977.09" y2="240.26" stroke="#505050" stroke-width="1"/>
<line x1="980.31" y1="235.26" x2="980.31" y2="238.15" stroke="#505050" stroke-width="1"/>
<line x1="982.59" y1="233.76" x2="982.59" y2="236.65" stroke="#505050" stroke-width="1"/>
<line x1="984.36" y1="232.60" x2="984.36" y2="235.49" stroke="#505050" stroke-width="1"/>
<line x1="985.80" y1="231.65" x2="985.80" y2="234.54" stroke="#505050" stroke-width="1"/>
<line x1="987.02" y1="230.84" x2="987.02" y2="233.74" stroke="#505050" stroke-width="1"/>
<line x1="988.08" y1="230.15" x2="988.08" y2="233.04" stroke="#505050" stroke-width="1"/>
<line x1="989.01" y1="229.54" x2="989.01" y2="232.43" stroke="#505050" stroke-width="1"/>
<line x1="989.85" y1="228.99" x2="989.85" y2="234.78" stroke="#505050" stroke-width="1"/>
<line x1="995.34" y1="225.38" x2="995.34" y2="228.27" stroke="#505050" stroke-width="1"/>
<line x1="998.56" y1="223.27" x2="998.56" y2="226.16" stroke="#505050" stroke-width="1"/>
<line x1="1000.84" y1="221.77" x2="1000.84" y2="224.67" stroke="#505050" stroke-width="1"/>
<line x1="1002.61" y1="220.61" x2="1002.61" y2="223.50" stroke="#505050" stroke-width="1"/>
<line x1="1004.05" y1="219.66" x2="1004.05" y2="222.55" stroke="#505050" stroke-width="1"/>
<line x1="1005.27" y1="218.86" x2="1005.27" y2="221.75" stroke="#505050" stroke-width="1"/>
<line x1="1006.33" y1="218.16" x2="1006.33" y2="221.06" stroke="#505050" stroke-width="1"/>
<line x1="1007.26" y1="217.55" x2="1007.26" y2="220.44" stroke="#505050" stroke-width="1"/>
<line x1="1008.10" y1="217.00" x2="1008.10" y2="222.79" stroke="#505050" stroke-width="1"/>
<path d="M602.38,235.57 L603.23,235.01 L604.08,234.45 L604.94,233.89 L605.79,233.32 L606.64,232.76 L607.49,232.20 L608.34,231.64 L609.20,231.07 L610.05,230.51 L610.90,229.95 L611.75,229.39 L612.60,228.82 L613.46,228.26 L614.31,227.70 L615.16,227.13 L616.01,226.57 L616.86,226.01 L617.72,225.44 L618.57,224.88 L619.42,224.31 L620.27,223.75 L621.12,223.18 L621.98,222.62 L622.83,222.05 L623.68,221.49 L624.53,220.92 L625.38,220.36 L626.24,219.79 L627.09,219.22 L627.94,218.66 L628.79,218.09 L629.64,217.52 L630.50,216.96 L631.35,216.39 L632.20,215.82 L633.05,215.25 L633.90,214.68 L634.76,214.11 L635.61,213.54 L636.46,212.97 L637.31,212.40 L638.16,211.83 L639.02,211.26 L639.87,210.68 L640.72,210.11 L641.57,209.54 L642.42,208.96 L643.28,208.39 L644.13,207.81 L644.98,207.23 L645.83,206.66 L646.68,206.08 L647.54,205.50 L648.39,204.92 L649.24,204.34 L650.09,203.76 L650.94,203.18 L651.80,202.59 L652.65,202.01 L653.50,201.42 L654.35,200.84 L655.21,200.25 L656.06,199.66 L656.91,199.07 L657.76,198.48 L658.61,197.89 L659.47,197.29 L660.32,196.69 L661.17,196.10 L662.02,195.50 L662.87,194.90 L663.73,194.29 L664.58,193.69 L665.43,193.08 L666.28,192.48 L667.13,191.86 L667.99,191.25 L668.84,190.64 L669.69,190.02 L670.54,189.40 L671.39,188.78 L672.25,188.15 L673.10,187.52 L673.95,186.89 L674.80,186.26 L675.65,185.62 L676.51,184.98 L677.36,184.34 L678.21,183.69 L679.06,183.04 L679.91,182.38 L680.77,181.72 L681.62,181.06 L682.47,180.39 L683.32,179.72 L684.17,179.04 L685.03,178.36 L685.88,177.67 L686.73,176.98 L687.58,176.28 L688.43,175.57 L689.29,174.86 L690.14,174.15 L690.99,173.42 L691.84,172.69 L692.69,171.95 L693.55,171.21 L694.40,170.46 L695.25,169.70 L696.10,168.93 L696.95,168.15 L697.81,167.37 L698.66,166.57 L699.51,165.77 L700.36,164.95 L701.21,164.13 L702.07,163.29 L702.92,162.44 L703.77,161.59 L704.62,160.72 L705.47,159.83 L706.33,158.94 L707.18,158.03 L708.03,157.11 L708.88,156.18 L709.73,155.23 L710.59,154.26 L711.44,153.28 L712.29,152.29 L713.14,151.28 L713.99,150.25 L714.85,149.21 L715.70,148.14 L716.55,147.06 L717.40,145.97 L718.25,144.85 L719.11,143.71 L719.96,142.55 L720.81,141.38 L721.66,140.18 L722.52,138.96 L723.37,137.72 L724.22,136.46 L725.07,135.18 L725.92,133.87 L726.78,132.54 L727.63,131.19 L728.48,129.82 L729.33,128.42 L730.18,127.00 L731.04,125.55 L731.89,124.09 L732.74,122.60 L733.59,121.08 L734.44,119.55 L735.30,117.99 L736.15,116.41 L737.00,114.81 L737.85,113.19 L738.70,111.55 L739.56,109.89 L740.41,108.21 L741.26,106.52 L742.11,104.81 L742.96,103.08 L743.82,101.34 L744.67,99.59 L745.52,97.84 L746.37,96.07" fill="none" stroke="#3c3c3c" stroke-width="0.87"/>
<path d="M615.25,239.28 L616.10,238.71 L616.96,238.15 L617.81,237.59 L618.66,237.02 L619.51,236.46 L620.36,235.90 L621.22,235.33 L622.07,234.77 L622.92,234.20 L623.77,233.64 L624.62,233.07 L625.48,232.51 L626.33,231.94 L627.18,231.38 L628.03,230.81 L628.88,230.25 L629.74,229.68 L630.59,229.11 L631.44,228.55 L632.29,227.98 L633.14,227.41 L634.00,226.84 L634.85,226.27 L635.70,225.71 L636.55,225.14 L637.40,224.57 L638.26,224.00 L639.11,223.43 L639.96,222.86 L640.81,222.29 L641.66,221.71 L642.52,221.14 L643.37,220.57 L644.22,219.99 L645.07,219.42 L645.92,218.85 L646.78,218.27 L647.63,217.69 L648.48,217.12 L649.33,216.54 L650.18,215.96 L651.04,215.38 L651.89,214.80 L652.74,214.22 L653.59,213.64 L654.44,213.06 L655.30,212.47 L656.15,211.89 L657.00,211.30 L657.85,210.71 L658.70,210.13 L659.56,209.54 L660.41,208.94 L661.26,208.35 L662.11,207.76 L662.96,207.16 L663.82,206.57 L664.67,205.97 L665.52,205.37 L666.37,204.77 L667.22,204.16 L668.08,203.56 L668.93,202.95 L669.78,202.34 L670.63,201.73 L671.49,201.11 L672.34,200.50 L673.19,199.88 L674.04,199.26 L674.89,198.63 L675.75,198.01 L676.60,197.38 L677.45,196.75 L678.30,196.11 L679.15,195.47 L680.01,194.83 L680.86,194.18 L681.71,193.53 L682.56,192.88 L683.41,192.22 L684.27,191.56 L685.12,190.89 L685.97,190.22 L686.82,189.55 L687.67,188.87 L688.53,188.18 L689.38,187.49 L690.23,186.80 L691.08,186.09 L691.93,185.39 L692.79,184.67 L693.64,183.95 L694.49,183.22 L695.34,182.49 L696.19,181.75 L697.05,181.00 L697.90,180.24 L698.75,179.48 L699.60,178.71 L700.45,177.92 L701.31,177.13 L702.16,176.33 L703.01,175.52 L703.86,174.70 L704.71,173.87 L705.57,173.03 L706.42,172.18 L707.27,171.31 L708.12,170.44 L708.97,169.55 L709.83,168.65 L710.68,167.73 L711.53,166.80 L712.38,165.86 L713.23,164.91 L714.09,163.93 L714.94,162.95 L715.79,161.94 L716.64,160.92 L717.49,159.89 L718.35,158.83 L719.20,157.76 L720.05,156.67 L720.90,155.56 L721.75,154.43 L722.61,153.29 L723.46,152.12 L724.31,150.93 L725.16,149.72 L726.01,148.49 L726.87,147.24 L727.72,145.97 L728.57,144.67 L729.42,143.35 L730.27,142.01 L731.13,140.65 L731.98,139.26 L732.83,137.85 L733.68,136.42 L734.53,134.96 L735.39,133.48 L736.24,131.98 L737.09,130.46 L737.94,128.91 L738.80,127.34 L739.65,125.75 L740.50,124.14 L741.35,122.51 L742.20,120.85 L743.06,119.19 L743.91,117.50 L744.76,115.79 L745.61,114.08 L746.46,112.34 L747.32,110.60 L748.17,108.85 L749.02,107.08 L749.87,105.31 L750.72,103.54 L751.58,101.77 L752.43,99.99 L753.28,98.22 L754.13,96.45 L754.98,94.69 L755.84,92.95 L756.69,91.22 L757.54,89.50 L758.39,87.81 L759.24,86.14" fill="none" stroke="#3c3c3c" stroke-width="0.87"/>
<path d="M628.12,242.97 L628.98,242.40 L629.83,241.84 L630.68,241.27 L631.53,240.70 L632.38,240.14 L633.24,239.57 L634.09,239.01 L634.94,238.44 L635.79,237.87 L636.64,237.30 L637.50,236.74 L638.35,236.17 L639.20,235.60 L640.05,235.03 L640.90,234.46 L641.76,233.89 L642.61,233.32 L643.46,232.75 L644.31,232.18 L645.16,231.61 L646.02,231.03 L646.87,230.46 L647.72,229.89 L648.57,229.31 L649.42,228.74 L650.28,228.16 L651.13,227.59 L651.98,227.01 L652.83,226.43 L653.68,225.85 L654.54,225.27 L655.39,224.69 L656.24,224.11 L657.09,223.53 L657.94,222.95 L658.80,222.36 L659.65,221.78 L660.50,221.19 L661.35,220.61 L662.20,220.02 L663.06,219.43 L663.91,218.84 L664.76,218.24 L665.61,217.65 L666.46,217.06 L667.32,216.46 L668.17,215.86 L669.02,215.26 L669.87,214.66 L670.72,214.06 L671.58,213.45 L672.43,212.84 L673.28,212.23 L674.13,211.62 L674.98,211.01 L675.84,210.39 L676.69,209.77 L677.54,209.15 L678.39,208.53 L679.24,207.90 L680.10,207.27 L680.95,206.64 L681.80,206.00 L682.65,205.36 L683.50,204.72 L684.36,204.07 L685.21,203.42 L686.06,202.77 L686.91,202.11 L687.76,201.45 L688.62,200.79 L689.47,200.11 L690.32,199.44 L691.17,198.76 L692.03,198.07 L692.88,197.38 L693.73,196.69 L694.58,195.99 L695.43,195.28 L696.29,194.56 L697.14,193.84 L697.99,193.12 L698.84,192.38 L699.69,191.64 L700.55,190.89 L701.40,190.14 L702.25,189.37 L703.10,188.60 L703.95,187.82 L704.81,187.03 L705.66,186.22 L706.51,185.41 L707.36,184.59 L708.21,183.76 L709.07,182.92 L709.92,182.07 L710.77,181.21 L711.62,180.33 L712.47,179.44 L713.33,178.54 L714.18,177.63 L715.03,176.70 L715.88,175.75 L716.73,174.80 L717.59,173.83 L718.44,172.84 L719.29,171.84 L720.14,170.82 L720.99,169.78 L721.85,168.72 L722.70,167.65 L723.55,166.56 L724.40,165.45 L725.25,164.33 L726.11,163.18 L726.96,162.01 L727.81,160.82 L728.66,159.61 L729.51,158.39 L730.37,157.13 L731.22,155.86 L732.07,154.56 L732.92,153.25 L733.77,151.91 L734.63,150.54 L735.48,149.16 L736.33,147.75 L737.18,146.31 L738.03,144.86 L738.89,143.38 L739.74,141.88 L740.59,140.35 L741.44,138.80 L742.29,137.23 L743.15,135.64 L744.00,134.03 L744.85,132.40 L745.70,130.75 L746.55,129.08 L747.41,127.39 L748.26,125.69 L749.11,123.97 L749.96,122.24 L750.81,120.49 L751.67,118.74 L752.52,116.98 L753.37,115.21 L754.22,113.44 L755.08,111.66 L755.93,109.88 L756.78,108.11 L757.63,106.35 L758.48,104.59 L759.34,102.84 L760.19,101.11 L761.04,99.40 L761.89,97.70 L762.74,96.03 L763.60,94.39 L764.45,92.78 L765.30,91.20 L766.15,89.66 L767.00,88.16 L767.86,86.70 L768.71,85.30 L769.56,83.94 L770.41,82.63 L771.26,81.38 L772.12,80.20" fill="none" stroke="#3c3c3c" stroke-width="0.87"/>
<path d="M641.00,246.63 L641.85,246.06 L642.70,245.50 L643.55,244.93 L644.40,244.36 L645.26,243.79 L646.11,243.22 L646.96,242.65 L647.81,242.08 L648.66,241.50 L649.52,240.93 L650.37,240.36 L651.22,239.79 L652.07,239.21 L652.92,238.64 L653.78,238.06 L654.63,237.49 L655.48,236.91 L656.33,236.33 L657.18,235.75 L658.04,235.18 L658.89,234.60 L659.74,234.02 L660.59,233.43 L661.44,232.85 L662.30,232.27 L663.15,231.68 L664.00,231.10 L664.85,230.51 L665.70,229.92 L666.56,229.34 L667.41,228.74 L668.26,228.15 L669.11,227.56 L669.96,226.97 L670.82,226.37 L671.67,225.77 L672.52,225.17 L673.37,224.57 L674.22,223.97 L675.08,223.37 L675.93,222.76 L676.78,222.15 L677.63,221.54 L678.48,220.93 L679.34,220.31 L680.19,219.69 L681.04,219.07 L681.89,218.45 L682.74,217.83 L683.60,217.20 L684.45,216.57 L685.30,215.93 L686.15,215.29 L687.00,214.65 L687.86,214.01 L688.71,213.36 L689.56,212.71 L690.41,212.05 L691.26,211.40 L692.12,210.73 L692.97,210.06 L693.82,209.39 L694.67,208.71 L695.52,208.03 L696.38,207.34 L697.23,206.65 L698.08,205.95 L698.93,205.25 L699.78,204.53 L700.64,203.82 L701.49,203.09 L702.34,202.36 L703.19,201.63 L704.04,200.88 L704.90,200.13 L705.75,199.37 L706.60,198.60 L707.45,197.82 L708.31,197.03 L709.16,196.24 L710.01,195.43 L710.86,194.62 L711.71,193.79 L712.57,192.96 L713.42,192.11 L714.27,191.25 L715.12,190.38 L715.97,189.50 L716.83,188.61 L717.68,187.70 L718.53,186.78 L719.38,185.84 L720.23,184.89 L721.09,183.93 L721.94,182.95 L722.79,181.95 L723.64,180.94 L724.49,179.91 L725.35,178.87 L726.20,177.80 L727.05,176.72 L727.90,175.62 L728.75,174.51 L729.61,173.37 L730.46,172.21 L731.31,171.03 L732.16,169.84 L733.01,168.62 L733.87,167.38 L734.72,166.11 L735.57,164.83 L736.42,163.52 L737.27,162.19 L738.13,160.84 L738.98,159.47 L739.83,158.07 L740.68,156.65 L741.53,155.20 L742.39,153.73 L743.24,152.24 L744.09,150.73 L744.94,149.19 L745.79,147.64 L746.65,146.06 L747.50,144.45 L748.35,142.83 L749.20,141.19 L750.05,139.53 L750.91,137.85 L751.76,136.16 L752.61,134.45 L753.46,132.72 L754.31,130.98 L755.17,129.23 L756.02,127.47 L756.87,125.71 L757.72,123.94 L758.57,122.16 L759.43,120.39 L760.28,118.61 L761.13,116.84 L761.98,115.08 L762.83,113.33 L763.69,111.59 L764.54,109.86 L765.39,108.16 L766.24,106.48 L767.09,104.82 L767.95,103.19 L768.80,101.60 L769.65,100.04 L770.50,98.52 L771.36,97.04 L772.21,95.61 L773.06,94.22 L773.91,92.89 L774.76,91.62 L775.62,90.40 L776.47,89.24 L777.32,88.14 L778.17,87.11 L779.02,86.14 L779.88,85.25 L780.73,84.42 L781.58,83.66 L782.43,82.98 L783.28,82.37 L784.14,81.83 L784.99,81.36" fill="none" stroke="#3c3c3c" stroke-width="0.87"/>
<path d="M653.87,250.26 L654.72,249.69 L655.57,249.12 L656.42,248.54 L657.27,247.97 L658.13,247.39 L658.98,246.82 L659.83,246.24 L660.68,245.66 L661.54,245.09 L662.39,244.51 L663.24,243.93 L664.09,243.35 L664.94,242.77 L665.80,242.18 L666.65,241.60 L667.50,241.02 L668.35,240.43 L669.20,239.84 L670.06,239.26 L670.91,238.67 L671.76,238.08 L672.61,237.48 L673.46,236.89 L674.32,236.30 L675.17,235.70 L676.02,235.10 L676.87,234.50 L677.72,233.90 L678.58,233.30 L679.43,232.70 L680.28,232.09 L681.13,231.48 L681.98,230.87 L682.84,230.26 L683.69,229.64 L684.54,229.02 L685.39,228.40 L686.24,227.78 L687.10,227.16 L687.95,226.53 L688.80,225.90 L689.65,225.26 L690.50,224.62 L691.36,223.98 L692.21,223.34 L693.06,222.69 L693.91,222.04 L694.76,221.38 L695.62,220.72 L696.47,220.06 L697.32,219.39 L698.17,218.72 L699.02,218.04 L699.88,217.36 L700.73,216.67 L701.58,215.98 L702.43,215.28 L703.28,214.57 L704.14,213.86 L704.99,213.14 L705.84,212.42 L706.69,211.69 L707.54,210.95 L708.40,210.21 L709.25,209.45 L710.10,208.69 L710.95,207.92 L711.80,207.15 L712.66,206.36 L713.51,205.56 L714.36,204.76 L715.21,203.94 L716.06,203.12 L716.92,202.28 L717.77,201.43 L718.62,200.58 L719.47,199.70 L720.32,198.82 L721.18,197.93 L722.03,197.02 L722.88,196.10 L723.73,195.16 L724.59,194.21 L725.44,193.25 L726.29,192.27 L727.14,191.27 L727.99,190.26 L728.85,189.23 L729.70,188.18 L730.55,187.12 L731.40,186.04 L732.25,184.94 L733.11,183.82 L733.96,182.68 L734.81,181.52 L735.66,180.35 L736.51,179.15 L737.37,177.93 L738.22,176.69 L739.07,175.42 L739.92,174.14 L740.77,172.83 L741.63,171.50 L742.48,170.15 L743.33,168.77 L744.18,167.37 L745.03,165.95 L745.89,164.51 L746.74,163.04 L747.59,161.55 L748.44,160.03 L749.29,158.49 L750.15,156.94 L751.00,155.36 L751.85,153.75 L752.70,152.13 L753.55,150.49 L754.41,148.83 L755.26,147.15 L756.11,145.45 L756.96,143.74 L757.81,142.02 L758.67,140.28 L759.52,138.53 L760.37,136.77 L761.22,135.00 L762.07,133.23 L762.93,131.46 L763.78,129.68 L764.63,127.91 L765.48,126.14 L766.33,124.37 L767.19,122.62 L768.04,120.88 L768.89,119.16 L769.74,117.46 L770.59,115.77 L771.45,114.12 L772.30,112.49 L773.15,110.90 L774.00,109.34 L774.85,107.82 L775.71,106.34 L776.56,104.91 L777.41,103.53 L778.26,102.20 L779.11,100.93 L779.97,99.71 L780.82,98.55 L781.67,97.46 L782.52,96.43 L783.37,95.46 L784.23,94.57 L785.08,93.74 L785.93,92.99 L786.78,92.31 L787.64,91.70 L788.49,91.16 L789.34,90.70 L790.19,90.31 L791.04,89.98 L791.90,89.73 L792.75,89.55 L793.60,89.44 L794.45,89.39 L795.30,89.40 L796.16,89.48 L797.01,89.61 L797.86,89.80" fill="none" stroke="#3c3c3c" stroke-width="0.87"/>
<path d="M666.74,253.85 L667.59,253.27 L668.44,252.69 L669.29,252.11 L670.15,251.53 L671.00,250.94 L671.85,250.36 L672.70,249.77 L673.55,249.19 L674.41,248.60 L675.26,248.01 L676.11,247.42 L676.96,246.83 L677.82,246.24 L678.67,245.64 L679.52,245.05 L680.37,244.45 L681.22,243.85 L682.08,243.25 L682.93,242.65 L683.78,242.05 L684.63,241.44 L685.48,240.83 L686.34,240.22 L687.19,239.61 L688.04,239.00 L688.89,238.38 L689.74,237.76 L690.60,237.14 L691.45,236.52 L692.30,235.89 L693.15,235.26 L694.00,234.63 L694.86,233.99 L695.71,233.35 L696.56,232.71 L697.41,232.06 L698.26,231.41 L699.12,230.76 L699.97,230.10 L700.82,229.44 L701.67,228.77 L702.52,228.10 L703.38,227.42 L704.23,226.74 L705.08,226.06 L705.93,225.36 L706.78,224.67 L707.64,223.96 L708.49,223.26 L709.34,222.54 L710.19,221.82 L711.04,221.09 L711.90,220.36 L712.75,219.62 L713.60,218.87 L714.45,218.11 L715.30,217.34 L716.16,216.57 L717.01,215.78 L717.86,214.99 L718.71,214.19 L719.56,213.38 L720.42,212.56 L721.27,211.73 L722.12,210.88 L722.97,210.03 L723.82,209.16 L724.68,208.29 L725.53,207.40 L726.38,206.49 L727.23,205.58 L728.08,204.65 L728.94,203.70 L729.79,202.74 L730.64,201.77 L731.49,200.78 L732.34,199.78 L733.20,198.75 L734.05,197.71 L734.90,196.66 L735.75,195.58 L736.60,194.49 L737.46,193.38 L738.31,192.25 L739.16,191.10 L740.01,189.93 L740.87,188.74 L741.72,187.53 L742.57,186.30 L743.42,185.04 L744.27,183.77 L745.13,182.47 L745.98,181.15 L746.83,179.80 L747.68,178.44 L748.53,177.05 L749.39,175.63 L750.24,174.20 L751.09,172.74 L751.94,171.26 L752.79,169.75 L753.65,168.23 L754.50,166.67 L755.35,165.10 L756.20,163.51 L757.05,161.90 L757.91,160.26 L758.76,158.61 L759.61,156.94 L760.46,155.25 L761.31,153.54 L762.17,151.82 L763.02,150.09 L763.87,148.34 L764.72,146.59 L765.57,144.82 L766.43,143.05 L767.28,141.28 L768.13,139.50 L768.98,137.73 L769.83,135.96 L770.69,134.19 L771.54,132.44 L772.39,130.69 L773.24,128.96 L774.09,127.25 L774.95,125.56 L775.80,123.89 L776.65,122.25 L777.50,120.64 L778.35,119.07 L779.21,117.54 L780.06,116.04 L780.91,114.59 L781.76,113.19 L782.61,111.84 L783.47,110.54 L784.32,109.30 L785.17,108.12 L786.02,107.00 L786.87,105.94 L787.73,104.95 L788.58,104.03 L789.43,103.18 L790.28,102.39 L791.13,101.68 L791.99,101.04 L792.84,100.48 L793.69,99.98 L794.54,99.56 L795.39,99.21 L796.25,98.93 L797.10,98.72 L797.95,98.58 L798.80,98.51 L799.65,98.50 L800.51,98.55 L801.36,98.66 L802.21,98.83 L803.06,99.05 L803.92,99.32 L804.77,99.64 L805.62,100.01 L806.47,100.42 L807.32,100.87 L808.18,101.35 L809.03,101.86 L809.88,102.41 L810.73,102.97" fill="none" stroke="#3c3c3c" stroke-width="0.87"/>
<path d="M679.61,257.37 L680.46,256.78 L681.31,256.19 L682.17,255.60 L683.02,255.00 L683.87,254.41 L684.72,253.81 L685.57,253.22 L686.43,252.62 L687.28,252.02 L688.13,251.42 L688.98,250.81 L689.83,250.21 L690.69,249.60 L691.54,248.99 L692.39,248.37 L693.24,247.76 L694.10,247.14 L694.95,246.52 L695.80,245.90 L696.65,245.28 L697.50,244.65 L698.36,244.02 L699.21,243.38 L700.06,242.75 L700.91,242.11 L701.76,241.46 L702.62,240.82 L703.47,240.17 L704.32,239.51 L705.17,238.85 L706.02,238.19 L706.88,237.52 L707.73,236.85 L708.58,236.17 L709.43,235.49 L710.28,234.80 L711.14,234.11 L711.99,233.41 L712.84,232.71 L713.69,232.00 L714.54,231.28 L715.40,230.56 L716.25,229.83 L717.10,229.10 L717.95,228.35 L718.80,227.60 L719.66,226.84 L720.51,226.08 L721.36,225.30 L722.21,224.51 L723.06,223.72 L723.92,222.92 L724.77,222.10 L725.62,221.28 L726.47,220.45 L727.32,219.60 L728.18,218.75 L729.03,217.88 L729.88,217.00 L730.73,216.11 L731.58,215.20 L732.44,214.28 L733.29,213.35 L734.14,212.40 L734.99,211.44 L735.84,210.46 L736.70,209.47 L737.55,208.46 L738.40,207.44 L739.25,206.40 L740.10,205.34 L740.96,204.26 L741.81,203.16 L742.66,202.05 L743.51,200.91 L744.36,199.76 L745.22,198.59 L746.07,197.39 L746.92,196.18 L747.77,194.94 L748.62,193.68 L749.48,192.40 L750.33,191.10 L751.18,189.77 L752.03,188.43 L752.88,187.06 L753.74,185.66 L754.59,184.25 L755.44,182.80 L756.29,181.34 L757.15,179.86 L758.00,178.35 L758.85,176.81 L759.70,175.26 L760.55,173.68 L761.41,172.09 L762.26,170.47 L763.11,168.83 L763.96,167.17 L764.81,165.50 L765.67,163.81 L766.52,162.10 L767.37,160.37 L768.22,158.64 L769.07,156.89 L769.93,155.13 L770.78,153.37 L771.63,151.60 L772.48,149.82 L773.33,148.05 L774.19,146.27 L775.04,144.50 L775.89,142.74 L776.74,140.99 L777.59,139.24 L778.45,137.52 L779.30,135.81 L780.15,134.12 L781.00,132.46 L781.85,130.83 L782.71,129.23 L783.56,127.66 L784.41,126.13 L785.26,124.64 L786.11,123.20 L786.97,121.81 L787.82,120.47 L788.67,119.18 L789.52,117.95 L790.37,116.78 L791.23,115.67 L792.08,114.63 L792.93,113.65 L793.78,112.74 L794.63,111.90 L795.49,111.13 L796.34,110.43 L797.19,109.81 L798.04,109.26 L798.89,108.78 L799.75,108.37 L800.60,108.03 L801.45,107.77 L802.30,107.57 L803.15,107.44 L804.01,107.38 L804.86,107.38 L805.71,107.44 L806.56,107.56 L807.41,107.74 L808.27,107.97 L809.12,108.26 L809.97,108.59 L810.82,108.96 L811.67,109.38 L812.53,109.83 L813.38,110.32 L814.23,110.84 L815.08,111.39 L815.93,111.96 L816.79,112.55 L817.64,113.16 L818.49,113.79 L819.34,114.43 L820.20,115.07 L821.05,115.72 L821.90,116.38 L822.75,117.04 L823.60,117.69" fill="none" stroke="#3c3c3c" stroke-width="0.87"/>
<path d="M692.48,260.80 L693.33,260.20 L694.19,259.59 L695.04,258.99 L695.89,258.38 L696.74,257.77 L697.59,257.16 L698.45,256.54 L699.30,255.93 L700.15,255.31 L701.00,254.69 L701.85,254.06 L702.71,253.43 L703.56,252.80 L704.41,252.17 L705.26,251.54 L706.11,250.90 L706.97,250.25 L707.82,249.61 L708.67,248.96 L709.52,248.30 L710.38,247.64 L711.23,246.98 L712.08,246.32 L712.93,245.64 L713.78,244.97 L714.64,244.29 L715.49,243.60 L716.34,242.91 L717.19,242.21 L718.04,241.51 L718.90,240.80 L719.75,240.09 L720.60,239.37 L721.45,238.64 L722.30,237.90 L723.16,237.16 L724.01,236.41 L724.86,235.65 L725.71,234.89 L726.56,234.12 L727.42,233.33 L728.27,232.54 L729.12,231.74 L729.97,230.93 L730.82,230.11 L731.68,229.27 L732.53,228.43 L733.38,227.58 L734.23,226.71 L735.08,225.84 L735.94,224.95 L736.79,224.04 L737.64,223.13 L738.49,222.20 L739.34,221.25 L740.20,220.29 L741.05,219.32 L741.90,218.33 L742.75,217.32 L743.60,216.30 L744.46,215.26 L745.31,214.21 L746.16,213.13 L747.01,212.04 L747.86,210.93 L748.72,209.80 L749.57,208.65 L750.42,207.48 L751.27,206.29 L752.12,205.08 L752.98,203.85 L753.83,202.59 L754.68,201.32 L755.53,200.02 L756.38,198.70 L757.24,197.36 L758.09,195.99 L758.94,194.60 L759.79,193.19 L760.64,191.75 L761.50,190.29 L762.35,188.81 L763.20,187.31 L764.05,185.78 L764.90,184.23 L765.76,182.66 L766.61,181.06 L767.46,179.45 L768.31,177.82 L769.16,176.16 L770.02,174.49 L770.87,172.80 L771.72,171.10 L772.57,169.38 L773.43,167.64 L774.28,165.90 L775.13,164.14 L775.98,162.38 L776.83,160.61 L777.69,158.83 L778.54,157.06 L779.39,155.28 L780.24,153.51 L781.09,151.75 L781.95,149.99 L782.80,148.25 L783.65,146.52 L784.50,144.80 L785.35,143.11 L786.21,141.45 L787.06,139.81 L787.91,138.20 L788.76,136.63 L789.61,135.09 L790.47,133.59 L791.32,132.14 L792.17,130.74 L793.02,129.39 L793.87,128.09 L794.73,126.85 L795.58,125.67 L796.43,124.55 L797.28,123.49 L798.13,122.50 L798.99,121.58 L799.84,120.72 L800.69,119.94 L801.54,119.23 L802.39,118.59 L803.25,118.02 L804.10,117.53 L804.95,117.11 L805.80,116.76 L806.65,116.48 L807.51,116.27 L808.36,116.12 L809.21,116.05 L810.06,116.04 L810.91,116.09 L811.77,116.20 L812.62,116.37 L813.47,116.59 L814.32,116.86 L815.17,117.18 L816.03,117.55 L816.88,117.96 L817.73,118.40 L818.58,118.89 L819.43,119.40 L820.29,119.94 L821.14,120.51 L821.99,121.10 L822.84,121.71 L823.69,122.33 L824.55,122.96 L825.40,123.61 L826.25,124.26 L827.10,124.91 L827.95,125.57 L828.81,126.23 L829.66,126.88 L830.51,127.52 L831.36,128.16 L832.21,128.79 L833.07,129.41 L833.92,130.01 L834.77,130.60 L835.62,131.17 L836.48,131.73" fill="none" stroke="#3c3c3c" stroke-width="0.87"/>
<path d="M705.35,264.11 L706.21,263.49 L707.06,262.87 L707.91,262.25 L708.76,261.62 L709.61,260.99 L710.47,260.35 L711.32,259.71 L712.17,259.07 L713.02,258.43 L713.87,257.78 L714.73,257.13 L715.58,256.47 L716.43,255.81 L717.28,255.15 L718.13,254.48 L718.99,253.81 L719.84,253.13 L720.69,252.45 L721.54,251.76 L722.39,251.06 L723.25,250.36 L724.10,249.66 L724.95,248.95 L725.80,248.23 L726.66,247.51 L727.51,246.78 L728.36,246.04 L729.21,245.29 L730.06,244.54 L730.92,243.78 L731.77,243.01 L732.62,242.23 L733.47,241.44 L734.32,240.65 L735.18,239.84 L736.03,239.03 L736.88,238.20 L737.73,237.36 L738.58,236.52 L739.44,235.66 L740.29,234.79 L741.14,233.90 L741.99,233.01 L742.84,232.10 L743.70,231.18 L744.55,230.24 L745.40,229.29 L746.25,228.32 L747.10,227.34 L747.96,226.35 L748.81,225.33 L749.66,224.30 L750.51,223.26 L751.36,222.19 L752.22,221.11 L753.07,220.01 L753.92,218.89 L754.77,217.75 L755.62,216.60 L756.48,215.42 L757.33,214.22 L758.18,213.00 L759.03,211.75 L759.88,210.49 L760.74,209.20 L761.59,207.90 L762.44,206.57 L763.29,205.21 L764.14,203.84 L765.00,202.44 L765.85,201.01 L766.70,199.57 L767.55,198.10 L768.40,196.61 L769.26,195.09 L770.11,193.55 L770.96,191.99 L771.81,190.41 L772.66,188.81 L773.52,187.19 L774.37,185.54 L775.22,183.88 L776.07,182.20 L776.92,180.51 L777.78,178.79 L778.63,177.07 L779.48,175.33 L780.33,173.58 L781.18,171.82 L782.04,170.05 L782.89,168.28 L783.74,166.51 L784.59,164.73 L785.44,162.96 L786.30,161.19 L787.15,159.43 L788.00,157.68 L788.85,155.94 L789.71,154.21 L790.56,152.51 L791.41,150.83 L792.26,149.17 L793.11,147.55 L793.97,145.96 L794.82,144.40 L795.67,142.88 L796.52,141.41 L797.37,139.98 L798.23,138.60 L799.08,137.27 L799.93,135.99 L800.78,134.78 L801.63,133.62 L802.49,132.53 L803.34,131.50 L804.19,130.54 L805.04,129.65 L805.89,128.83 L806.75,128.08 L807.60,127.40 L808.45,126.79 L809.30,126.26 L810.15,125.79 L811.01,125.40 L811.86,125.08 L812.71,124.84 L813.56,124.66 L814.41,124.54 L815.27,124.50 L816.12,124.51 L816.97,124.59 L817.82,124.73 L818.67,124.92 L819.53,125.16 L820.38,125.46 L821.23,125.80 L822.08,126.19 L822.93,126.61 L823.79,127.08 L824.64,127.57 L825.49,128.10 L826.34,128.65 L827.19,129.23 L828.05,129.83 L828.90,130.44 L829.75,131.07 L830.60,131.71 L831.45,132.36 L832.31,133.01 L833.16,133.67 L834.01,134.32 L834.86,134.98 L835.71,135.63 L836.57,136.27 L837.42,136.90 L838.27,137.53 L839.12,138.14 L839.97,138.74 L840.83,139.32 L841.68,139.88 L842.53,140.43 L843.38,140.96 L844.23,141.47 L845.09,141.96 L845.94,142.43 L846.79,142.88 L847.64,143.30 L848.49,143.70 L849.35,144.08" fill="none" stroke="#3c3c3c" stroke-width="0.87"/>
<path d="M718.23,267.28 L719.08,266.63 L719.93,265.98 L720.78,265.33 L721.63,264.67 L722.49,264.01 L723.34,263.35 L724.19,262.68 L725.04,262.01 L725.89,261.33 L726.75,260.65 L727.60,259.96 L728.45,259.26 L729.30,258.56 L730.15,257.86 L731.01,257.14 L731.86,256.43 L732.71,255.70 L733.56,254.97 L734.41,254.23 L735.27,253.48 L736.12,252.73 L736.97,251.97 L737.82,251.20 L738.67,250.42 L739.53,249.63 L740.38,248.83 L741.23,248.03 L742.08,247.21 L742.94,246.38 L743.79,245.55 L744.64,244.70 L745.49,243.84 L746.34,242.96 L747.20,242.08 L748.05,241.18 L748.90,240.27 L749.75,239.35 L750.60,238.41 L751.46,237.46 L752.31,236.49 L753.16,235.51 L754.01,234.51 L754.86,233.50 L755.72,232.47 L756.57,231.42 L757.42,230.35 L758.27,229.27 L759.12,228.17 L759.98,227.04 L760.83,225.90 L761.68,224.74 L762.53,223.56 L763.38,222.36 L764.24,221.14 L765.09,219.89 L765.94,218.63 L766.79,217.34 L767.64,216.03 L768.50,214.70 L769.35,213.34 L770.20,211.96 L771.05,210.56 L771.90,209.13 L772.76,207.68 L773.61,206.21 L774.46,204.72 L775.31,203.20 L776.16,201.66 L777.02,200.10 L777.87,198.51 L778.72,196.91 L779.57,195.28 L780.42,193.64 L781.28,191.98 L782.13,190.29 L782.98,188.60 L783.83,186.88 L784.68,185.16 L785.54,183.41 L786.39,181.66 L787.24,179.90 L788.09,178.14 L788.94,176.36 L789.80,174.59 L790.65,172.81 L791.50,171.04 L792.35,169.27 L793.20,167.51 L794.06,165.76 L794.91,164.02 L795.76,162.30 L796.61,160.60 L797.46,158.92 L798.32,157.27 L799.17,155.65 L800.02,154.06 L800.87,152.51 L801.72,150.99 L802.58,149.52 L803.43,148.10 L804.28,146.72 L805.13,145.40 L805.98,144.13 L806.84,142.93 L807.69,141.78 L808.54,140.69 L809.39,139.67 L810.25,138.72 L811.10,137.83 L811.95,137.02 L812.80,136.27 L813.65,135.60 L814.51,135.00 L815.36,134.48 L816.21,134.02 L817.06,133.64 L817.91,133.33 L818.77,133.09 L819.62,132.91 L820.47,132.81 L821.32,132.77 L822.17,132.79 L823.03,132.88 L823.88,133.02 L824.73,133.22 L825.58,133.47 L826.43,133.77 L827.29,134.11 L828.14,134.50 L828.99,134.93 L829.84,135.40 L830.69,135.90 L831.55,136.43 L832.40,136.99 L833.25,137.57 L834.10,138.17 L834.95,138.78 L835.81,139.41 L836.66,140.05 L837.51,140.70 L838.36,141.36 L839.21,142.01 L840.07,142.67 L840.92,143.32 L841.77,143.97 L842.62,144.61 L843.47,145.24 L844.33,145.87 L845.18,146.48 L846.03,147.07 L846.88,147.65 L847.73,148.22 L848.59,148.76 L849.44,149.29 L850.29,149.80 L851.14,150.28 L851.99,150.75 L852.85,151.20 L853.70,151.62 L854.55,152.02 L855.40,152.40 L856.25,152.75 L857.11,153.08 L857.96,153.39 L858.81,153.68 L859.66,153.94 L860.51,154.18 L861.37,154.39 L862.22,154.59" fill="none" stroke="#3c3c3c" stroke-width="0.87"/>
<path d="M731.10,270.24 L731.95,269.57 L732.80,268.88 L733.65,268.20 L734.51,267.50 L735.36,266.81 L736.21,266.10 L737.06,265.39 L737.91,264.67 L738.77,263.95 L739.62,263.22 L740.47,262.48 L741.32,261.74 L742.17,260.99 L743.03,260.22 L743.88,259.46 L744.73,258.68 L745.58,257.89 L746.43,257.10 L747.29,256.29 L748.14,255.48 L748.99,254.65 L749.84,253.82 L750.69,252.97 L751.55,252.11 L752.40,251.24 L753.25,250.36 L754.10,249.47 L754.95,248.56 L755.81,247.64 L756.66,246.71 L757.51,245.76 L758.36,244.79 L759.22,243.81 L760.07,242.82 L760.92,241.81 L761.77,240.78 L762.62,239.74 L763.48,238.67 L764.33,237.59 L765.18,236.50 L766.03,235.38 L766.88,234.24 L767.74,233.08 L768.59,231.91 L769.44,230.71 L770.29,229.49 L771.14,228.25 L772.00,226.99 L772.85,225.71 L773.70,224.40 L774.55,223.07 L775.40,221.72 L776.26,220.35 L777.11,218.95 L777.96,217.53 L778.81,216.09 L779.66,214.62 L780.52,213.13 L781.37,211.62 L782.22,210.08 L783.07,208.52 L783.92,206.95 L784.78,205.35 L785.63,203.72 L786.48,202.08 L787.33,200.42 L788.18,198.75 L789.04,197.05 L789.89,195.34 L790.74,193.62 L791.59,191.88 L792.44,190.13 L793.30,188.37 L794.15,186.60 L795.00,184.83 L795.85,183.06 L796.70,181.28 L797.56,179.51 L798.41,177.74 L799.26,175.98 L800.11,174.22 L800.96,172.48 L801.82,170.76 L802.67,169.05 L803.52,167.37 L804.37,165.71 L805.22,164.08 L806.08,162.49 L806.93,160.93 L807.78,159.40 L808.63,157.92 L809.48,156.49 L810.34,155.10 L811.19,153.77 L812.04,152.49 L812.89,151.27 L813.74,150.11 L814.60,149.01 L815.45,147.98 L816.30,147.01 L817.15,146.11 L818.00,145.28 L818.86,144.52 L819.71,143.83 L820.56,143.22 L821.41,142.68 L822.26,142.21 L823.12,141.81 L823.97,141.48 L824.82,141.23 L825.67,141.04 L826.53,140.92 L827.38,140.87 L828.23,140.88 L829.08,140.95 L829.93,141.08 L830.79,141.27 L831.64,141.51 L832.49,141.80 L833.34,142.13 L834.19,142.51 L835.05,142.94 L835.90,143.40 L836.75,143.89 L837.60,144.41 L838.45,144.96 L839.31,145.54 L840.16,146.13 L841.01,146.75 L841.86,147.38 L842.71,148.01 L843.57,148.66 L844.42,149.31 L845.27,149.97 L846.12,150.63 L846.97,151.28 L847.83,151.93 L848.68,152.57 L849.53,153.21 L850.38,153.83 L851.23,154.44 L852.09,155.04 L852.94,155.63 L853.79,156.19 L854.64,156.74 L855.49,157.28 L856.35,157.79 L857.20,158.28 L858.05,158.75 L858.90,159.20 L859.75,159.63 L860.61,160.03 L861.46,160.41 L862.31,160.77 L863.16,161.11 L864.01,161.42 L864.87,161.71 L865.72,161.98 L866.57,162.22 L867.42,162.44 L868.27,162.64 L869.13,162.82 L869.98,162.97 L870.83,163.10 L871.68,163.21 L872.53,163.30 L873.39,163.37 L874.24,163.42 L875.09,163.45" fill="none" stroke="#3c3c3c" stroke-width="0.87"/>
<path d="M743.97,272.97 L744.82,272.25 L745.67,271.52 L746.53,270.79 L747.38,270.05 L748.23,269.30 L749.08,268.54 L749.93,267.78 L750.79,267.00 L751.64,266.22 L752.49,265.43 L753.34,264.63 L754.19,263.82 L755.05,263.00 L755.90,262.17 L756.75,261.33 L757.60,260.48 L758.45,259.62 L759.31,258.74 L760.16,257.85 L761.01,256.95 L761.86,256.04 L762.71,255.11 L763.57,254.17 L764.42,253.21 L765.27,252.24 L766.12,251.26 L766.97,250.25 L767.83,249.23 L768.68,248.20 L769.53,247.15 L770.38,246.07 L771.23,244.99 L772.09,243.88 L772.94,242.75 L773.79,241.60 L774.64,240.44 L775.49,239.25 L776.35,238.04 L777.20,236.82 L778.05,235.56 L778.90,234.29 L779.76,233.00 L780.61,231.68 L781.46,230.34 L782.31,228.98 L783.16,227.59 L784.02,226.19 L784.87,224.75 L785.72,223.30 L786.57,221.82 L787.42,220.32 L788.28,218.80 L789.13,217.25 L789.98,215.68 L790.83,214.09 L791.68,212.48 L792.54,210.85 L793.39,209.20 L794.24,207.53 L795.09,205.84 L795.94,204.14 L796.80,202.42 L797.65,200.69 L798.50,198.95 L799.35,197.20 L800.20,195.43 L801.06,193.67 L801.91,191.89 L802.76,190.12 L803.61,188.34 L804.46,186.57 L805.32,184.80 L806.17,183.04 L807.02,181.30 L807.87,179.56 L808.72,177.85 L809.58,176.15 L810.43,174.48 L811.28,172.84 L812.13,171.23 L812.98,169.65 L813.84,168.10 L814.69,166.60 L815.54,165.14 L816.39,163.73 L817.24,162.37 L818.10,161.07 L818.95,159.81 L819.80,158.62 L820.65,157.49 L821.50,156.42 L822.36,155.42 L823.21,154.49 L824.06,153.62 L824.91,152.83 L825.76,152.10 L826.62,151.45 L827.47,150.87 L828.32,150.36 L829.17,149.93 L830.02,149.57 L830.88,149.28 L831.73,149.05 L832.58,148.90 L833.43,148.81 L834.28,148.79 L835.14,148.83 L835.99,148.93 L836.84,149.09 L837.69,149.30 L838.54,149.57 L839.40,149.88 L840.25,150.24 L841.10,150.64 L841.95,151.08 L842.81,151.56 L843.66,152.07 L844.51,152.61 L845.36,153.17 L846.21,153.76 L847.07,154.36 L847.92,154.98 L848.77,155.61 L849.62,156.26 L850.47,156.91 L851.33,157.56 L852.18,158.22 L853.03,158.87 L853.88,159.53 L854.73,160.17 L855.59,160.81 L856.44,161.44 L857.29,162.06 L858.14,162.67 L858.99,163.26 L859.85,163.83 L860.70,164.39 L861.55,164.93 L862.40,165.46 L863.25,165.96 L864.11,166.44 L864.96,166.90 L865.81,167.34 L866.66,167.76 L867.51,168.15 L868.37,168.52 L869.22,168.87 L870.07,169.19 L870.92,169.50 L871.77,169.77 L872.63,170.03 L873.48,170.26 L874.33,170.47 L875.18,170.66 L876.03,170.82 L876.89,170.97 L877.74,171.09 L878.59,171.19 L879.44,171.27 L880.29,171.32 L881.15,171.36 L882.00,171.38 L882.85,171.38 L883.70,171.36 L884.55,171.32 L885.41,171.26 L886.26,171.19 L887.11,171.10 L887.96,170.99" fill="none" stroke="#3c3c3c" stroke-width="0.87"/>
<path d="M756.84,275.39 L757.69,274.61 L758.55,273.83 L759.40,273.04 L760.25,272.24 L761.10,271.42 L761.95,270.60 L762.81,269.77 L763.66,268.93 L764.51,268.07 L765.36,267.21 L766.21,266.33 L767.07,265.44 L767.92,264.53 L768.77,263.62 L769.62,262.69 L770.47,261.74 L771.33,260.78 L772.18,259.81 L773.03,258.82 L773.88,257.81 L774.73,256.79 L775.59,255.75 L776.44,254.69 L777.29,253.62 L778.14,252.53 L778.99,251.42 L779.85,250.28 L780.70,249.13 L781.55,247.96 L782.40,246.77 L783.25,245.56 L784.11,244.33 L784.96,243.07 L785.81,241.80 L786.66,240.50 L787.51,239.17 L788.37,237.83 L789.22,236.46 L790.07,235.07 L790.92,233.66 L791.77,232.22 L792.63,230.76 L793.48,229.28 L794.33,227.77 L795.18,226.25 L796.04,224.70 L796.89,223.12 L797.74,221.53 L798.59,219.91 L799.44,218.28 L800.30,216.63 L801.15,214.95 L802.00,213.26 L802.85,211.56 L803.70,209.84 L804.56,208.10 L805.41,206.36 L806.26,204.60 L807.11,202.84 L807.96,201.07 L808.82,199.29 L809.67,197.52 L810.52,195.74 L811.37,193.97 L812.22,192.21 L813.08,190.45 L813.93,188.71 L814.78,186.98 L815.63,185.27 L816.48,183.58 L817.34,181.91 L818.19,180.27 L819.04,178.66 L819.89,177.09 L820.74,175.56 L821.60,174.07 L822.45,172.62 L823.30,171.22 L824.15,169.87 L825.00,168.57 L825.86,167.33 L826.71,166.15 L827.56,165.03 L828.41,163.98 L829.26,162.99 L830.12,162.07 L830.97,161.22 L831.82,160.44 L832.67,159.73 L833.52,159.09 L834.38,158.53 L835.23,158.04 L836.08,157.62 L836.93,157.27 L837.78,156.99 L838.64,156.79 L839.49,156.65 L840.34,156.57 L841.19,156.56 L842.04,156.62 L842.90,156.73 L843.75,156.90 L844.60,157.12 L845.45,157.40 L846.30,157.72 L847.16,158.09 L848.01,158.50 L848.86,158.95 L849.71,159.43 L850.56,159.95 L851.42,160.49 L852.27,161.06 L853.12,161.65 L853.97,162.26 L854.82,162.88 L855.68,163.52 L856.53,164.16 L857.38,164.81 L858.23,165.47 L859.09,166.12 L859.94,166.78 L860.79,167.43 L861.64,168.08 L862.49,168.71 L863.35,169.34 L864.20,169.96 L865.05,170.56 L865.90,171.15 L866.75,171.72 L867.61,172.28 L868.46,172.81 L869.31,173.33 L870.16,173.83 L871.01,174.31 L871.87,174.76 L872.72,175.20 L873.57,175.61 L874.42,176.00 L875.27,176.36 L876.13,176.71 L876.98,177.03 L877.83,177.32 L878.68,177.60 L879.53,177.85 L880.39,178.08 L881.24,178.28 L882.09,178.46 L882.94,178.62 L883.79,178.76 L884.65,178.88 L885.50,178.98 L886.35,179.05 L887.20,179.10 L888.05,179.14 L888.91,179.15 L889.76,179.15 L890.61,179.12 L891.46,179.08 L892.31,179.02 L893.17,178.94 L894.02,178.85 L894.87,178.73 L895.72,178.61 L896.57,178.46 L897.43,178.31 L898.28,178.13 L899.13,177.95 L899.98,177.75 L900.83,177.53" fill="none" stroke="#3c3c3c" stroke-width="0.87"/>
<path d="M769.71,277.44 L770.57,276.60 L771.42,275.74 L772.27,274.88 L773.12,274.00 L773.97,273.11 L774.83,272.21 L775.68,271.29 L776.53,270.36 L777.38,269.42 L778.23,268.46 L779.09,267.49 L779.94,266.50 L780.79,265.49 L781.64,264.47 L782.49,263.43 L783.35,262.38 L784.20,261.30 L785.05,260.21 L785.90,259.10 L786.75,257.97 L787.61,256.82 L788.46,255.65 L789.31,254.46 L790.16,253.25 L791.01,252.02 L791.87,250.77 L792.72,249.49 L793.57,248.19 L794.42,246.87 L795.27,245.53 L796.13,244.17 L796.98,242.78 L797.83,241.36 L798.68,239.93 L799.53,238.47 L800.39,236.99 L801.24,235.49 L802.09,233.96 L802.94,232.41 L803.79,230.84 L804.65,229.25 L805.50,227.63 L806.35,226.00 L807.20,224.34 L808.05,222.67 L808.91,220.98 L809.76,219.28 L810.61,217.56 L811.46,215.83 L812.32,214.08 L813.17,212.33 L814.02,210.56 L814.87,208.79 L815.72,207.02 L816.58,205.24 L817.43,203.47 L818.28,201.70 L819.13,199.93 L819.98,198.18 L820.84,196.43 L821.69,194.70 L822.54,192.99 L823.39,191.30 L824.24,189.63 L825.10,187.99 L825.95,186.38 L826.80,184.81 L827.65,183.27 L828.50,181.77 L829.36,180.32 L830.21,178.92 L831.06,177.57 L831.91,176.27 L832.76,175.02 L833.62,173.84 L834.47,172.72 L835.32,171.66 L836.17,170.67 L837.02,169.74 L837.88,168.89 L838.73,168.10 L839.58,167.39 L840.43,166.75 L841.28,166.18 L842.14,165.69 L842.99,165.26 L843.84,164.91 L844.69,164.63 L845.54,164.42 L846.40,164.27 L847.25,164.20 L848.10,164.18 L848.95,164.23 L849.80,164.34 L850.66,164.51 L851.51,164.73 L852.36,165.00 L853.21,165.32 L854.06,165.69 L854.92,166.10 L855.77,166.54 L856.62,167.02 L857.47,167.54 L858.32,168.08 L859.18,168.65 L860.03,169.23 L860.88,169.84 L861.73,170.46 L862.58,171.10 L863.44,171.74 L864.29,172.39 L865.14,173.05 L865.99,173.71 L866.84,174.36 L867.70,175.01 L868.55,175.66 L869.40,176.30 L870.25,176.92 L871.10,177.54 L871.96,178.14 L872.81,178.73 L873.66,179.31 L874.51,179.86 L875.37,180.40 L876.22,180.92 L877.07,181.42 L877.92,181.90 L878.77,182.36 L879.63,182.79 L880.48,183.20 L881.33,183.60 L882.18,183.96 L883.03,184.31 L883.89,184.63 L884.74,184.93 L885.59,185.20 L886.44,185.46 L887.29,185.68 L888.15,185.89 L889.00,186.07 L889.85,186.24 L890.70,186.38 L891.55,186.49 L892.41,186.59 L893.26,186.67 L894.11,186.72 L894.96,186.76 L895.81,186.77 L896.67,186.77 L897.52,186.74 L898.37,186.70 L899.22,186.64 L900.07,186.57 L900.93,186.47 L901.78,186.36 L902.63,186.24 L903.48,186.09 L904.33,185.94 L905.19,185.76 L906.04,185.58 L906.89,185.38 L907.74,185.16 L908.59,184.94 L909.45,184.70 L910.30,184.45 L911.15,184.18 L912.00,183.91 L912.85,183.63 L913.71,183.33" fill="none" stroke="#3c3c3c" stroke-width="0.87"/>
<path d="M782.59,279.01 L783.44,278.08 L784.29,277.14 L785.14,276.18 L785.99,275.21 L786.85,274.23 L787.70,273.22 L788.55,272.20 L789.40,271.17 L790.25,270.12 L791.11,269.05 L791.96,267.96 L792.81,266.85 L793.66,265.72 L794.51,264.58 L795.37,263.41 L796.22,262.22 L797.07,261.02 L797.92,259.79 L798.77,258.54 L799.63,257.27 L800.48,255.97 L801.33,254.66 L802.18,253.32 L803.03,251.96 L803.89,250.57 L804.74,249.16 L805.59,247.73 L806.44,246.28 L807.29,244.80 L808.15,243.30 L809.00,241.78 L809.85,240.23 L810.70,238.66 L811.55,237.07 L812.41,235.46 L813.26,233.83 L814.11,232.18 L814.96,230.51 L815.81,228.83 L816.67,227.13 L817.52,225.41 L818.37,223.68 L819.22,221.93 L820.07,220.18 L820.93,218.42 L821.78,216.65 L822.63,214.88 L823.48,213.10 L824.33,211.33 L825.19,209.55 L826.04,207.79 L826.89,206.03 L827.74,204.28 L828.60,202.55 L829.45,200.83 L830.30,199.14 L831.15,197.47 L832.00,195.82 L832.86,194.21 L833.71,192.63 L834.56,191.08 L835.41,189.58 L836.26,188.12 L837.12,186.71 L837.97,185.35 L838.82,184.04 L839.67,182.79 L840.52,181.59 L841.38,180.46 L842.23,179.39 L843.08,178.39 L843.93,177.45 L844.78,176.59 L845.64,175.79 L846.49,175.06 L847.34,174.41 L848.19,173.83 L849.04,173.32 L849.90,172.89 L850.75,172.52 L851.60,172.23 L852.45,172.01 L853.30,171.85 L854.16,171.76 L855.01,171.74 L855.86,171.78 L856.71,171.88 L857.56,172.04 L858.42,172.25 L859.27,172.51 L860.12,172.83 L860.97,173.18 L861.82,173.58 L862.68,174.02 L863.53,174.50 L864.38,175.01 L865.23,175.55 L866.08,176.11 L866.94,176.69 L867.79,177.30 L868.64,177.92 L869.49,178.55 L870.34,179.19 L871.20,179.84 L872.05,180.50 L872.90,181.15 L873.75,181.81 L874.60,182.46 L875.46,183.11 L876.31,183.75 L877.16,184.38 L878.01,185.00 L878.86,185.60 L879.72,186.20 L880.57,186.77 L881.42,187.33 L882.27,187.87 L883.12,188.40 L883.98,188.90 L884.83,189.38 L885.68,189.84 L886.53,190.28 L887.38,190.70 L888.24,191.09 L889.09,191.46 L889.94,191.81 L890.79,192.14 L891.65,192.44 L892.50,192.72 L893.35,192.97 L894.20,193.21 L895.05,193.42 L895.91,193.61 L896.76,193.77 L897.61,193.91 L898.46,194.04 L899.31,194.14 L900.17,194.21 L901.02,194.27 L901.87,194.31 L902.72,194.33 L903.57,194.33 L904.43,194.31 L905.28,194.27 L906.13,194.21 L906.98,194.14 L907.83,194.05 L908.69,193.94 L909.54,193.82 L910.39,193.68 L911.24,193.52 L912.09,193.35 L912.95,193.17 L913.80,192.97 L914.65,192.76 L915.50,192.54 L916.35,192.30 L917.21,192.05 L918.06,191.79 L918.91,191.52 L919.76,191.23 L920.61,190.94 L921.47,190.64 L922.32,190.32 L923.17,190.00 L924.02,189.66 L924.87,189.32 L925.73,188.97 L926.58,188.61" fill="none" stroke="#3c3c3c" stroke-width="0.87"/>
<path d="M795.46,274.57 L796.31,273.35 L797.16,272.11 L798.01,270.85 L798.87,269.57 L799.72,268.26 L800.57,266.93 L801.42,265.58 L802.27,264.21 L803.13,262.81 L803.98,261.39 L804.83,259.95 L805.68,258.48 L806.53,256.99 L807.39,255.48 L808.24,253.94 L809.09,252.38 L809.94,250.81 L810.79,249.20 L811.65,247.58 L812.50,245.94 L813.35,244.28 L814.20,242.60 L815.05,240.91 L815.91,239.20 L816.76,237.47 L817.61,235.74 L818.46,233.99 L819.31,232.23 L820.17,230.46 L821.02,228.69 L821.87,226.92 L822.72,225.14 L823.57,223.37 L824.43,221.60 L825.28,219.84 L826.13,218.08 L826.98,216.34 L827.83,214.62 L828.69,212.91 L829.54,211.23 L830.39,209.57 L831.24,207.94 L832.09,206.35 L832.95,204.79 L833.80,203.26 L834.65,201.78 L835.50,200.35 L836.35,198.97 L837.21,197.63 L838.06,196.35 L838.91,195.13 L839.76,193.97 L840.61,192.87 L841.47,191.84 L842.32,190.87 L843.17,189.97 L844.02,189.14 L844.88,188.38 L845.73,187.70 L846.58,187.08 L847.43,186.54 L848.28,186.07 L849.14,185.67 L849.99,185.35 L850.84,185.09 L851.69,184.91 L852.54,184.79 L853.40,184.73 L854.25,184.74 L855.10,184.82 L855.95,184.95 L856.80,185.13 L857.66,185.37 L858.51,185.66 L859.36,186.00 L860.21,186.38 L861.06,186.80 L861.92,187.26 L862.77,187.76 L863.62,188.28 L864.47,188.83 L865.32,189.41 L866.18,190.00 L867.03,190.62 L867.88,191.24 L868.73,191.88 L869.58,192.53 L870.44,193.18 L871.29,193.84 L872.14,194.49 L872.99,195.15 L873.84,195.80 L874.70,196.44 L875.55,197.08 L876.40,197.70 L877.25,198.31 L878.10,198.91 L878.96,199.50 L879.81,200.06 L880.66,200.61 L881.51,201.14 L882.36,201.66 L883.22,202.15 L884.07,202.62 L884.92,203.07 L885.77,203.50 L886.62,203.90 L887.48,204.28 L888.33,204.64 L889.18,204.98 L890.03,205.29 L890.88,205.58 L891.74,205.85 L892.59,206.09 L893.44,206.31 L894.29,206.51 L895.14,206.69 L896.00,206.84 L896.85,206.97 L897.70,207.08 L898.55,207.17 L899.40,207.24 L900.26,207.28 L901.11,207.31 L901.96,207.32 L902.81,207.31 L903.66,207.28 L904.52,207.23 L905.37,207.17 L906.22,207.08 L907.07,206.98 L907.93,206.87 L908.78,206.73 L909.63,206.59 L910.48,206.42 L911.33,206.25 L912.19,206.06 L913.04,205.85 L913.89,205.63 L914.74,205.40 L915.59,205.16 L916.45,204.90 L917.30,204.63 L918.15,204.36 L919.00,204.07 L919.85,203.77 L920.71,203.46 L921.56,203.14 L922.41,202.81 L923.26,202.47 L924.11,202.13 L924.97,201.77 L925.82,201.41 L926.67,201.04 L927.52,200.66 L928.37,200.27 L929.23,199.88 L930.08,199.48 L930.93,199.08 L931.78,198.67 L932.63,198.25 L933.49,197.82 L934.34,197.40 L935.19,196.96 L936.04,196.52 L936.89,196.08 L937.75,195.63 L938.60,195.18 L939.45,194.72" fill="none" stroke="#4040ff" stroke-width="0.87"/>
<path d="M808.33,266.11 L809.18,264.56 L810.03,262.98 L810.89,261.38 L811.74,259.76 L812.59,258.12 L813.44,256.46 L814.29,254.78 L815.15,253.09 L816.00,251.38 L816.85,249.65 L817.70,247.92 L818.55,246.17 L819.41,244.41 L820.26,242.64 L821.11,240.87 L821.96,239.10 L822.81,237.32 L823.67,235.55 L824.52,233.78 L825.37,232.02 L826.22,230.26 L827.07,228.52 L827.93,226.80 L828.78,225.09 L829.63,223.41 L830.48,221.75 L831.33,220.12 L832.19,218.52 L833.04,216.96 L833.89,215.43 L834.74,213.95 L835.59,212.52 L836.45,211.13 L837.30,209.79 L838.15,208.51 L839.00,207.29 L839.85,206.12 L840.71,205.02 L841.56,203.99 L842.41,203.02 L843.26,202.11 L844.11,201.28 L844.97,200.52 L845.82,199.83 L846.67,199.21 L847.52,198.67 L848.37,198.20 L849.23,197.80 L850.08,197.47 L850.93,197.21 L851.78,197.02 L852.63,196.90 L853.49,196.84 L854.34,196.85 L855.19,196.92 L856.04,197.05 L856.89,197.23 L857.75,197.47 L858.60,197.76 L859.45,198.09 L860.30,198.47 L861.16,198.90 L862.01,199.35 L862.86,199.85 L863.71,200.37 L864.56,200.92 L865.42,201.49 L866.27,202.09 L867.12,202.70 L867.97,203.33 L868.82,203.97 L869.68,204.61 L870.53,205.26 L871.38,205.92 L872.23,206.58 L873.08,207.23 L873.94,207.88 L874.79,208.52 L875.64,209.16 L876.49,209.78 L877.34,210.40 L878.20,211.00 L879.05,211.58 L879.90,212.15 L880.75,212.70 L881.60,213.23 L882.46,213.74 L883.31,214.24 L884.16,214.71 L885.01,215.16 L885.86,215.59 L886.72,215.99 L887.57,216.38 L888.42,216.74 L889.27,217.07 L890.12,217.39 L890.98,217.68 L891.83,217.95 L892.68,218.19 L893.53,218.41 L894.38,218.61 L895.24,218.79 L896.09,218.94 L896.94,219.07 L897.79,219.18 L898.64,219.27 L899.50,219.34 L900.35,219.39 L901.20,219.42 L902.05,219.43 L902.90,219.42 L903.76,219.39 L904.61,219.34 L905.46,219.28 L906.31,219.19 L907.16,219.10 L908.02,218.98 L908.87,218.85 L909.72,218.70 L910.57,218.54 L911.42,218.36 L912.28,218.17 L913.13,217.97 L913.98,217.75 L914.83,217.52 L915.68,217.28 L916.54,217.02 L917.39,216.75 L918.24,216.48 L919.09,216.19 L919.94,215.89 L920.80,215.58 L921.65,215.26 L922.50,214.93 L923.35,214.59 L924.20,214.25 L925.06,213.89 L925.91,213.53 L926.76,213.16 L927.61,212.78 L928.47,212.40 L929.32,212.01 L930.17,211.61 L931.02,211.20 L931.87,210.79 L932.73,210.37 L933.58,209.95 L934.43,209.52 L935.28,209.09 L936.13,208.65 L936.99,208.20 L937.84,207.76 L938.69,207.30 L939.54,206.84 L940.39,206.38 L941.25,205.92 L942.10,205.45 L942.95,204.97 L943.80,204.50 L944.65,204.02 L945.51,203.53 L946.36,203.05 L947.21,202.56 L948.06,202.07 L948.91,201.57 L949.77,201.07 L950.62,200.57 L951.47,200.07 L952.32,199.56" fill="none" stroke="#4040ff" stroke-width="0.87"/>
<path d="M821.20,254.70 L822.05,252.93 L822.91,251.16 L823.76,249.38 L824.61,247.60 L825.46,245.83 L826.31,244.07 L827.17,242.31 L828.02,240.56 L828.87,238.83 L829.72,237.12 L830.57,235.42 L831.43,233.75 L832.28,232.11 L833.13,230.50 L833.98,228.92 L834.83,227.39 L835.69,225.89 L836.54,224.43 L837.39,223.02 L838.24,221.67 L839.09,220.36 L839.95,219.12 L840.80,217.93 L841.65,216.80 L842.50,215.74 L843.35,214.74 L844.21,213.81 L845.06,212.95 L845.91,212.16 L846.76,211.45 L847.61,210.80 L848.47,210.23 L849.32,209.72 L850.17,209.29 L851.02,208.94 L851.87,208.65 L852.73,208.43 L853.58,208.29 L854.43,208.20 L855.28,208.19 L856.13,208.23 L856.99,208.34 L857.84,208.50 L858.69,208.72 L859.54,208.98 L860.39,209.30 L861.25,209.66 L862.10,210.07 L862.95,210.51 L863.80,210.99 L864.65,211.50 L865.51,212.04 L866.36,212.61 L867.21,213.19 L868.06,213.80 L868.91,214.42 L869.77,215.06 L870.62,215.70 L871.47,216.35 L872.32,217.00 L873.17,217.66 L874.03,218.32 L874.88,218.97 L875.73,219.61 L876.58,220.25 L877.44,220.88 L878.29,221.50 L879.14,222.10 L879.99,222.70 L880.84,223.27 L881.70,223.83 L882.55,224.37 L883.40,224.89 L884.25,225.39 L885.10,225.87 L885.96,226.33 L886.81,226.76 L887.66,227.18 L888.51,227.57 L889.36,227.94 L890.22,228.29 L891.07,228.61 L891.92,228.91 L892.77,229.19 L893.62,229.44 L894.48,229.67 L895.33,229.88 L896.18,230.07 L897.03,230.23 L897.88,230.37 L898.74,230.49 L899.59,230.59 L900.44,230.67 L901.29,230.72 L902.14,230.76 L903.00,230.77 L903.85,230.77 L904.70,230.75 L905.55,230.71 L906.40,230.65 L907.26,230.58 L908.11,230.48 L908.96,230.37 L909.81,230.25 L910.66,230.11 L911.52,229.95 L912.37,229.78 L913.22,229.60 L914.07,229.40 L914.92,229.18 L915.78,228.96 L916.63,228.72 L917.48,228.47 L918.33,228.21 L919.18,227.94 L920.04,227.65 L920.89,227.36 L921.74,227.05 L922.59,226.74 L923.44,226.41 L924.30,226.08 L925.15,225.73 L926.00,225.38 L926.85,225.02 L927.70,224.66 L928.56,224.28 L929.41,223.90 L930.26,223.51 L931.11,223.11 L931.96,222.71 L932.82,222.30 L933.67,221.89 L934.52,221.47 L935.37,221.04 L936.22,220.61 L937.08,220.17 L937.93,219.73 L938.78,219.28 L939.63,218.83 L940.48,218.38 L941.34,217.92 L942.19,217.45 L943.04,216.98 L943.89,216.51 L944.75,216.04 L945.60,215.56 L946.45,215.07 L947.30,214.59 L948.15,214.10 L949.01,213.61 L949.86,213.12 L950.71,212.62 L951.56,212.12 L952.41,211.62 L953.27,211.11 L954.12,210.61 L954.97,210.10 L955.82,209.59 L956.67,209.07 L957.53,208.56 L958.38,208.04 L959.23,207.52 L960.08,207.00 L960.93,206.48 L961.79,205.96 L962.64,205.43 L963.49,204.91 L964.34,204.38 L965.19,203.85" fill="none" stroke="#4040ff" stroke-width="0.87"/>
<path d="M834.07,243.75 L834.93,242.12 L835.78,240.52 L836.63,238.96 L837.48,237.44 L838.33,235.96 L839.19,234.52 L840.04,233.14 L840.89,231.80 L841.74,230.52 L842.59,229.30 L843.45,228.14 L844.30,227.04 L845.15,226.00 L846.00,225.03 L846.85,224.13 L847.71,223.30 L848.56,222.54 L849.41,221.85 L850.26,221.24 L851.11,220.69 L851.97,220.22 L852.82,219.82 L853.67,219.49 L854.52,219.24 L855.37,219.05 L856.23,218.93 L857.08,218.87 L857.93,218.88 L858.78,218.95 L859.63,219.08 L860.49,219.27 L861.34,219.51 L862.19,219.80 L863.04,220.13 L863.89,220.51 L864.75,220.93 L865.60,221.39 L866.45,221.89 L867.30,222.41 L868.15,222.96 L869.01,223.53 L869.86,224.13 L870.71,224.74 L871.56,225.37 L872.41,226.01 L873.27,226.66 L874.12,227.31 L874.97,227.96 L875.82,228.62 L876.67,229.27 L877.53,229.92 L878.38,230.57 L879.23,231.20 L880.08,231.83 L880.93,232.44 L881.79,233.04 L882.64,233.62 L883.49,234.19 L884.34,234.74 L885.19,235.27 L886.05,235.78 L886.90,236.28 L887.75,236.75 L888.60,237.20 L889.45,237.63 L890.31,238.03 L891.16,238.41 L892.01,238.77 L892.86,239.11 L893.71,239.42 L894.57,239.71 L895.42,239.98 L896.27,240.23 L897.12,240.45 L897.98,240.65 L898.83,240.82 L899.68,240.98 L900.53,241.11 L901.38,241.22 L902.24,241.31 L903.09,241.38 L903.94,241.42 L904.79,241.45 L905.64,241.46 L906.50,241.45 L907.35,241.42 L908.20,241.37 L909.05,241.31 L909.90,241.23 L910.76,241.13 L911.61,241.01 L912.46,240.88 L913.31,240.73 L914.16,240.57 L915.02,240.39 L915.87,240.20 L916.72,240.00 L917.57,239.78 L918.42,239.55 L919.28,239.30 L920.13,239.05 L920.98,238.78 L921.83,238.50 L922.68,238.21 L923.54,237.92 L924.39,237.61 L925.24,237.29 L926.09,236.96 L926.94,236.62 L927.80,236.27 L928.65,235.92 L929.50,235.56 L930.35,235.19 L931.20,234.81 L932.06,234.42 L932.91,234.03 L933.76,233.63 L934.61,233.23 L935.46,232.82 L936.32,232.40 L937.17,231.97 L938.02,231.55 L938.87,231.11 L939.72,230.67 L940.58,230.23 L941.43,229.78 L942.28,229.33 L943.13,228.87 L943.98,228.41 L944.84,227.94 L945.69,227.47 L946.54,227.00 L947.39,226.52 L948.24,226.04 L949.10,225.56 L949.95,225.07 L950.80,224.58 L951.65,224.09 L952.50,223.59 L953.36,223.10 L954.21,222.60 L955.06,222.09 L955.91,221.59 L956.76,221.08 L957.62,220.57 L958.47,220.06 L959.32,219.54 L960.17,219.03 L961.03,218.51 L961.88,217.99 L962.73,217.47 L963.58,216.95 L964.43,216.42 L965.29,215.90 L966.14,215.37 L966.99,214.84 L967.84,214.31 L968.69,213.78 L969.55,213.25 L970.40,212.72 L971.25,212.18 L972.10,211.65 L972.95,211.11 L973.81,210.57 L974.66,210.03 L975.51,209.50 L976.36,208.96 L977.21,208.41 L978.07,207.87" fill="none" stroke="#4040ff" stroke-width="0.87"/>
<path d="M846.95,237.82 L847.80,236.74 L848.65,235.73 L849.50,234.79 L850.35,233.91 L851.21,233.11 L852.06,232.37 L852.91,231.71 L853.76,231.13 L854.61,230.61 L855.47,230.17 L856.32,229.79 L857.17,229.49 L858.02,229.26 L858.87,229.10 L859.73,229.01 L860.58,228.98 L861.43,229.01 L862.28,229.10 L863.13,229.25 L863.99,229.46 L864.84,229.72 L865.69,230.03 L866.54,230.38 L867.39,230.78 L868.25,231.21 L869.10,231.68 L869.95,232.19 L870.80,232.72 L871.65,233.28 L872.51,233.87 L873.36,234.47 L874.21,235.09 L875.06,235.72 L875.91,236.36 L876.77,237.01 L877.62,237.66 L878.47,238.32 L879.32,238.98 L880.17,239.63 L881.03,240.28 L881.88,240.92 L882.73,241.55 L883.58,242.17 L884.43,242.78 L885.29,243.37 L886.14,243.95 L886.99,244.51 L887.84,245.05 L888.69,245.58 L889.55,246.08 L890.40,246.57 L891.25,247.03 L892.10,247.47 L892.95,247.89 L893.81,248.29 L894.66,248.66 L895.51,249.01 L896.36,249.34 L897.21,249.64 L898.07,249.93 L898.92,250.18 L899.77,250.42 L900.62,250.63 L901.47,250.82 L902.33,250.99 L903.18,251.14 L904.03,251.26 L904.88,251.36 L905.73,251.44 L906.59,251.50 L907.44,251.54 L908.29,251.56 L909.14,251.57 L909.99,251.55 L910.85,251.51 L911.70,251.46 L912.55,251.38 L913.40,251.30 L914.26,251.19 L915.11,251.07 L915.96,250.93 L916.81,250.78 L917.66,250.61 L918.52,250.43 L919.37,250.23 L920.22,250.02 L921.07,249.80 L921.92,249.56 L922.78,249.31 L923.63,249.05 L924.48,248.78 L925.33,248.50 L926.18,248.21 L927.04,247.90 L927.89,247.59 L928.74,247.27 L929.59,246.94 L930.44,246.60 L931.30,246.25 L932.15,245.89 L933.00,245.52 L933.85,245.15 L934.70,244.77 L935.56,244.38 L936.41,243.99 L937.26,243.58 L938.11,243.18 L938.96,242.76 L939.82,242.34 L940.67,241.92 L941.52,241.49 L942.37,241.05 L943.22,240.61 L944.08,240.16 L944.93,239.71 L945.78,239.26 L946.63,238.80 L947.48,238.34 L948.34,237.87 L949.19,237.40 L950.04,236.92 L950.89,236.44 L951.74,235.96 L952.60,235.48 L953.45,234.99 L954.30,234.50 L955.15,234.01 L956.00,233.51 L956.86,233.01 L957.71,232.51 L958.56,232.01 L959.41,231.50 L960.26,230.99 L961.12,230.48 L961.97,229.97 L962.82,229.45 L963.67,228.94 L964.52,228.42 L965.38,227.90 L966.23,227.38 L967.08,226.85 L967.93,226.33 L968.78,225.80 L969.64,225.28 L970.49,224.75 L971.34,224.22 L972.19,223.69 L973.04,223.15 L973.90,222.62 L974.75,222.08 L975.60,221.55 L976.45,221.01 L977.31,220.47 L978.16,219.93 L979.01,219.40 L979.86,218.85 L980.71,218.31 L981.57,217.77 L982.42,217.23 L983.27,216.69 L984.12,216.14 L984.97,215.60 L985.83,215.05 L986.68,214.51 L987.53,213.96 L988.38,213.41 L989.23,212.86 L990.09,212.32 L990.94,211.77" fill="none" stroke="#4040ff" stroke-width="0.87"/>
<path d="M602.38,235.61 L603.23,235.05 L604.08,234.49 L604.94,233.93 L605.79,233.37 L606.64,232.81 L607.49,232.25 L608.34,231.69 L609.20,231.13 L610.05,230.57 L610.90,230.01 L611.75,229.45 L612.60,228.89 L613.46,228.33 L614.31,227.77 L615.16,227.21 L616.01,226.65 L616.86,226.09 L617.72,225.53 L618.57,224.97 L619.42,224.41 L620.27,223.85 L621.12,223.29 L621.98,222.73 L622.83,222.17 L623.68,221.61 L624.53,221.04 L625.38,220.48 L626.24,219.92 L627.09,219.36 L627.94,218.80 L628.79,218.24 L629.64,217.67 L630.50,217.11 L631.35,216.55 L632.20,215.99 L633.05,215.42 L633.90,214.86 L634.76,214.30 L635.61,213.73 L636.46,213.17 L637.31,212.60 L638.16,212.04 L639.02,211.47 L639.87,210.91 L640.72,210.34 L641.57,209.77 L642.42,209.21 L643.28,208.64 L644.13,208.07 L644.98,207.50 L645.83,206.93 L646.68,206.36 L647.54,205.79 L648.39,205.21 L649.24,204.64 L650.09,204.07 L650.94,203.49 L651.80,202.91 L652.65,202.33 L653.50,201.75 L654.35,201.17 L655.21,200.59 L656.06,200.00 L656.91,199.41 L657.76,198.82 L658.61,198.23 L659.47,197.64 L660.32,197.04 L661.17,196.44 L662.02,195.84 L662.87,195.23 L663.73,194.62 L664.58,194.00 L665.43,193.38 L666.28,192.76 L667.13,192.13 L667.99,191.50 L668.84,190.86 L669.69,190.21 L670.54,189.56 L671.39,188.90 L672.25,188.23 L673.10,187.56 L673.95,186.87 L674.80,186.18 L675.65,185.47 L676.51,184.76 L677.36,184.03 L678.21,183.29 L679.06,182.53 L679.91,181.76 L680.77,180.98 L681.62,180.17 L682.47,179.35 L683.32,178.51 L684.17,177.64 L685.03,176.75 L685.88,175.84 L686.73,174.90 L687.58,173.93 L688.43,172.93 L689.29,171.90 L690.14,170.83 L690.99,169.72 L691.84,168.57 L692.69,167.38 L693.55,166.14 L694.40,164.85 L695.25,163.50 L696.10,162.10 L696.95,160.64 L697.81,159.11 L698.66,157.51 L699.51,155.83 L700.36,154.08 L701.21,152.24 L702.07,150.31 L702.92,148.29 L703.77,146.17 L704.62,143.94 L705.47,141.60 L706.33,139.14 L707.18,136.56 L708.03,133.85 L708.88,131.01 L709.73,128.03 L710.59,124.91 L711.44,121.63 L712.29,118.21 L713.14,114.64 L713.99,110.91 L714.85,107.02 L715.70,102.99 L716.55,98.80 L717.40,94.48 L718.25,90.02 L719.11,85.43 L719.96,80.74 L720.81,75.96 L721.66,71.12 L722.52,66.23 L723.37,61.33 L724.22,56.45 L725.07,51.63 L725.92,46.91 L726.78,42.34 L727.63,37.96 L728.48,33.81 L729.33,29.96 L730.18,26.43 L731.04,23.29 L731.89,20.56 L732.74,18.29 L733.59,16.50 L734.44,15.21 L735.30,14.45 L736.15,14.20 L737.00,14.46 L737.85,15.23 L738.70,16.48 L739.56,18.17 L740.41,20.28 L741.26,22.75 L742.11,25.55 L742.96,28.62 L743.82,31.93 L744.67,35.42 L745.52,39.04 L746.37,42.75" fill="none" stroke="#ff0000" stroke-opacity="0.75" stroke-width="0.75"/>
<path d="M615.25,239.35 L616.10,238.79 L616.96,238.23 L617.81,237.67 L618.66,237.11 L619.51,236.55 L620.36,235.98 L621.22,235.42 L622.07,234.86 L622.92,234.30 L623.77,233.74 L624.62,233.18 L625.48,232.62 L626.33,232.06 L627.18,231.50 L628.03,230.94 L628.88,230.38 L629.74,229.81 L630.59,229.25 L631.44,228.69 L632.29,228.13 L633.14,227.57 L634.00,227.01 L634.85,226.44 L635.70,225.88 L636.55,225.32 L637.40,224.75 L638.26,224.19 L639.11,223.63 L639.96,223.06 L640.81,222.50 L641.66,221.93 L642.52,221.37 L643.37,220.80 L644.22,220.24 L645.07,219.67 L645.92,219.10 L646.78,218.54 L647.63,217.97 L648.48,217.40 L649.33,216.83 L650.18,216.26 L651.04,215.69 L651.89,215.12 L652.74,214.54 L653.59,213.97 L654.44,213.39 L655.30,212.82 L656.15,212.24 L657.00,211.66 L657.85,211.08 L658.70,210.50 L659.56,209.91 L660.41,209.33 L661.26,208.74 L662.11,208.15 L662.96,207.55 L663.82,206.96 L664.67,206.36 L665.52,205.76 L666.37,205.16 L667.22,204.55 L668.08,203.94 L668.93,203.32 L669.78,202.70 L670.63,202.07 L671.49,201.44 L672.34,200.81 L673.19,200.17 L674.04,199.52 L674.89,198.87 L675.75,198.20 L676.60,197.53 L677.45,196.86 L678.30,196.17 L679.15,195.47 L680.01,194.76 L680.86,194.04 L681.71,193.31 L682.56,192.57 L683.41,191.81 L684.27,191.03 L685.12,190.24 L685.97,189.43 L686.82,188.60 L687.67,187.75 L688.53,186.88 L689.38,185.99 L690.23,185.07 L691.08,184.12 L691.93,183.14 L692.79,182.13 L693.64,181.09 L694.49,180.01 L695.34,178.89 L696.19,177.73 L697.05,176.52 L697.90,175.27 L698.75,173.96 L699.60,172.60 L700.45,171.18 L701.31,169.70 L702.16,168.15 L703.01,166.53 L703.86,164.83 L704.71,163.06 L705.57,161.19 L706.42,159.24 L707.27,157.19 L708.12,155.04 L708.97,152.78 L709.83,150.40 L710.68,147.91 L711.53,145.29 L712.38,142.55 L713.23,139.67 L714.09,136.64 L714.94,133.48 L715.79,130.16 L716.64,126.70 L717.49,123.08 L718.35,119.30 L719.20,115.38 L720.05,111.30 L720.90,107.07 L721.75,102.71 L722.61,98.21 L723.46,93.60 L724.31,88.88 L725.16,84.08 L726.01,79.21 L726.87,74.32 L727.72,69.42 L728.57,64.56 L729.42,59.76 L730.27,55.08 L731.13,50.56 L731.98,46.24 L732.83,42.17 L733.68,38.40 L734.53,34.98 L735.39,31.96 L736.24,29.36 L737.09,27.22 L737.94,25.57 L738.80,24.43 L739.65,23.81 L740.50,23.71 L741.35,24.13 L742.20,25.03 L743.06,26.41 L743.91,28.23 L744.76,30.44 L745.61,33.01 L746.46,35.89 L747.32,39.04 L748.17,42.40 L749.02,45.93 L749.87,49.59 L750.72,53.32 L751.58,57.09 L752.43,60.87 L753.28,64.63 L754.13,68.32 L754.98,71.94 L755.84,75.46 L756.69,78.87 L757.54,82.15 L758.39,85.29 L759.24,88.28" fill="none" stroke="#ff0000" stroke-opacity="0.75" stroke-width="0.75"/>
<path d="M628.12,243.07 L628.98,242.51 L629.83,241.95 L630.68,241.39 L631.53,240.83 L632.38,240.27 L633.24,239.71 L634.09,239.15 L634.94,238.59 L635.79,238.02 L636.64,237.46 L637.50,236.90 L638.35,236.34 L639.20,235.78 L640.05,235.21 L640.90,234.65 L641.76,234.09 L642.61,233.52 L643.46,232.96 L644.31,232.40 L645.16,231.83 L646.02,231.27 L646.87,230.70 L647.72,230.14 L648.57,229.57 L649.42,229.00 L650.28,228.44 L651.13,227.87 L651.98,227.30 L652.83,226.73 L653.68,226.16 L654.54,225.59 L655.39,225.02 L656.24,224.45 L657.09,223.88 L657.94,223.30 L658.80,222.73 L659.65,222.15 L660.50,221.57 L661.35,221.00 L662.20,220.42 L663.06,219.83 L663.91,219.25 L664.76,218.66 L665.61,218.08 L666.46,217.49 L667.32,216.89 L668.17,216.30 L669.02,215.70 L669.87,215.10 L670.72,214.50 L671.58,213.89 L672.43,213.28 L673.28,212.66 L674.13,212.04 L674.98,211.42 L675.84,210.79 L676.69,210.16 L677.54,209.52 L678.39,208.87 L679.24,208.22 L680.10,207.56 L680.95,206.89 L681.80,206.21 L682.65,205.53 L683.50,204.83 L684.36,204.12 L685.21,203.41 L686.06,202.68 L686.91,201.94 L687.76,201.18 L688.62,200.41 L689.47,199.62 L690.32,198.81 L691.17,197.99 L692.03,197.14 L692.88,196.28 L693.73,195.39 L694.58,194.47 L695.43,193.53 L696.29,192.56 L697.14,191.55 L697.99,190.52 L698.84,189.44 L699.69,188.33 L700.55,187.18 L701.40,185.98 L702.25,184.74 L703.10,183.44 L703.95,182.09 L704.81,180.68 L705.66,179.22 L706.51,177.68 L707.36,176.07 L708.21,174.39 L709.07,172.63 L709.92,170.78 L710.77,168.85 L711.62,166.81 L712.47,164.68 L713.33,162.44 L714.18,160.09 L715.03,157.62 L715.88,155.03 L716.73,152.31 L717.59,149.46 L718.44,146.46 L719.29,143.32 L720.14,140.04 L720.99,136.60 L721.85,133.01 L722.70,129.27 L723.55,125.37 L724.40,121.32 L725.25,117.12 L726.11,112.78 L726.96,108.31 L727.81,103.72 L728.66,99.02 L729.51,94.23 L730.37,89.38 L731.22,84.49 L732.07,79.59 L732.92,74.71 L733.77,69.90 L734.63,65.19 L735.48,60.64 L736.33,56.27 L737.18,52.16 L738.03,48.33 L738.89,44.84 L739.74,41.73 L740.59,39.05 L741.44,36.82 L742.29,35.07 L743.15,33.84 L744.00,33.12 L744.85,32.92 L745.70,33.23 L746.55,34.05 L747.41,35.34 L748.26,37.07 L749.11,39.21 L749.96,41.72 L750.81,44.54 L751.67,47.64 L752.52,50.97 L753.37,54.47 L754.22,58.10 L755.08,61.82 L755.93,65.59 L756.78,69.37 L757.63,73.13 L758.48,76.84 L759.34,80.48 L760.19,84.02 L761.04,87.45 L761.89,90.75 L762.74,93.92 L763.60,96.94 L764.45,99.81 L765.30,102.53 L766.15,105.10 L767.00,107.51 L767.86,109.77 L768.71,111.88 L769.56,113.84 L770.41,115.66 L771.26,117.34 L772.12,118.89" fill="none" stroke="#ff0000" stroke-opacity="0.75" stroke-width="0.75"/>
<path d="M641.00,246.80 L641.85,246.23 L642.70,245.67 L643.55,245.11 L644.40,244.55 L645.26,243.99 L646.11,243.42 L646.96,242.86 L647.81,242.30 L648.66,241.73 L649.52,241.17 L650.37,240.60 L651.22,240.04 L652.07,239.47 L652.92,238.91 L653.78,238.34 L654.63,237.78 L655.48,237.21 L656.33,236.64 L657.18,236.07 L658.04,235.50 L658.89,234.93 L659.74,234.36 L660.59,233.79 L661.44,233.22 L662.30,232.65 L663.15,232.07 L664.00,231.50 L664.85,230.92 L665.70,230.34 L666.56,229.76 L667.41,229.18 L668.26,228.60 L669.11,228.01 L669.96,227.43 L670.82,226.84 L671.67,226.25 L672.52,225.65 L673.37,225.06 L674.22,224.46 L675.08,223.86 L675.93,223.25 L676.78,222.64 L677.63,222.03 L678.48,221.41 L679.34,220.79 L680.19,220.17 L681.04,219.54 L681.89,218.90 L682.74,218.26 L683.60,217.61 L684.45,216.95 L685.30,216.29 L686.15,215.62 L687.00,214.94 L687.86,214.25 L688.71,213.55 L689.56,212.84 L690.41,212.12 L691.26,211.39 L692.12,210.64 L692.97,209.88 L693.82,209.10 L694.67,208.30 L695.52,207.49 L696.38,206.66 L697.23,205.81 L698.08,204.93 L698.93,204.03 L699.78,203.11 L700.64,202.15 L701.49,201.17 L702.34,200.16 L703.19,199.11 L704.04,198.02 L704.90,196.90 L705.75,195.73 L706.60,194.51 L707.45,193.25 L708.31,191.94 L709.16,190.57 L710.01,189.14 L710.86,187.64 L711.71,186.08 L712.57,184.45 L713.42,182.74 L714.27,180.95 L715.12,179.07 L715.97,177.10 L716.83,175.03 L717.68,172.86 L718.53,170.58 L719.38,168.19 L720.23,165.68 L721.09,163.04 L721.94,160.27 L722.79,157.36 L723.64,154.32 L724.49,151.13 L725.35,147.79 L726.20,144.30 L727.05,140.65 L727.90,136.85 L728.75,132.90 L729.61,128.79 L730.46,124.54 L731.31,120.15 L732.16,115.64 L733.01,111.00 L733.87,106.27 L734.72,101.46 L735.57,96.59 L736.42,91.69 L737.27,86.79 L738.13,81.94 L738.98,77.16 L739.83,72.50 L740.68,68.01 L741.53,63.73 L742.39,59.71 L743.24,56.00 L744.09,52.64 L744.94,49.68 L745.79,47.16 L746.65,45.10 L747.50,43.54 L748.35,42.49 L749.20,41.96 L750.05,41.95 L750.91,42.45 L751.76,43.44 L752.61,44.89 L753.46,46.77 L754.31,49.05 L755.17,51.68 L756.02,54.61 L756.87,57.80 L757.72,61.19 L758.57,64.74 L759.43,68.41 L760.28,72.16 L761.13,75.93 L761.98,79.71 L762.83,83.46 L763.69,87.14 L764.54,90.75 L765.39,94.25 L766.24,97.63 L767.09,100.89 L767.95,104.00 L768.80,106.97 L769.65,109.79 L770.50,112.45 L771.36,114.96 L772.21,117.32 L773.06,119.52 L773.91,121.58 L774.76,123.49 L775.62,125.26 L776.47,126.89 L777.32,128.40 L778.17,129.78 L779.02,131.04 L779.88,132.19 L780.73,133.23 L781.58,134.16 L782.43,135.00 L783.28,135.75 L784.14,136.42 L784.99,137.00" fill="none" stroke="#ff0000" stroke-opacity="0.75" stroke-width="0.75"/>
<path d="M653.87,250.50 L654.72,249.94 L655.57,249.38 L656.42,248.81 L657.27,248.25 L658.13,247.68 L658.98,247.11 L659.83,246.55 L660.68,245.98 L661.54,245.41 L662.39,244.85 L663.24,244.28 L664.09,243.71 L664.94,243.14 L665.80,242.56 L666.65,241.99 L667.50,241.42 L668.35,240.84 L669.20,240.27 L670.06,239.69 L670.91,239.11 L671.76,238.54 L672.61,237.95 L673.46,237.37 L674.32,236.79 L675.17,236.20 L676.02,235.61 L676.87,235.02 L677.72,234.43 L678.58,233.83 L679.43,233.23 L680.28,232.63 L681.13,232.03 L681.98,231.42 L682.84,230.81 L683.69,230.19 L684.54,229.57 L685.39,228.94 L686.24,228.31 L687.10,227.68 L687.95,227.04 L688.80,226.39 L689.65,225.73 L690.50,225.07 L691.36,224.40 L692.21,223.72 L693.06,223.03 L693.91,222.33 L694.76,221.62 L695.62,220.90 L696.47,220.17 L697.32,219.42 L698.17,218.66 L699.02,217.88 L699.88,217.09 L700.73,216.28 L701.58,215.45 L702.43,214.60 L703.28,213.72 L704.14,212.83 L704.99,211.90 L705.84,210.95 L706.69,209.97 L707.54,208.96 L708.40,207.91 L709.25,206.82 L710.10,205.70 L710.95,204.53 L711.80,203.32 L712.66,202.06 L713.51,200.75 L714.36,199.38 L715.21,197.96 L716.06,196.47 L716.92,194.91 L717.77,193.28 L718.62,191.58 L719.47,189.79 L720.32,187.92 L721.18,185.95 L722.03,183.89 L722.88,181.72 L723.73,179.45 L724.59,177.06 L725.44,174.56 L726.29,171.93 L727.14,169.17 L727.99,166.27 L728.85,163.23 L729.70,160.05 L730.55,156.71 L731.40,153.23 L732.25,149.59 L733.11,145.80 L733.96,141.86 L734.81,137.76 L735.66,133.52 L736.51,129.14 L737.37,124.63 L738.22,120.00 L739.07,115.27 L739.92,110.46 L740.77,105.60 L741.63,100.70 L742.48,95.80 L743.33,90.94 L744.18,86.16 L745.03,81.49 L745.89,76.99 L746.74,72.70 L747.59,68.66 L748.44,64.93 L749.29,61.56 L750.15,58.58 L751.00,56.03 L751.85,53.95 L752.70,52.36 L753.55,51.28 L754.41,50.72 L755.26,50.68 L756.11,51.15 L756.96,52.11 L757.81,53.54 L758.67,55.40 L759.52,57.66 L760.37,60.27 L761.22,63.19 L762.07,66.36 L762.93,69.74 L763.78,73.29 L764.63,76.95 L765.48,80.69 L766.33,84.47 L767.19,88.25 L768.04,92.00 L768.89,95.69 L769.74,99.30 L770.59,102.80 L771.45,106.20 L772.30,109.46 L773.15,112.58 L774.00,115.56 L774.85,118.38 L775.71,121.05 L776.56,123.57 L777.41,125.94 L778.26,128.15 L779.11,130.21 L779.97,132.13 L780.82,133.91 L781.67,135.55 L782.52,137.06 L783.37,138.45 L784.23,139.72 L785.08,140.87 L785.93,141.92 L786.78,142.86 L787.64,143.70 L788.49,144.46 L789.34,145.13 L790.19,145.71 L791.04,146.22 L791.90,146.66 L792.75,147.03 L793.60,147.34 L794.45,147.58 L795.30,147.78 L796.16,147.92 L797.01,148.01 L797.86,148.06" fill="none" stroke="#ff0000" stroke-opacity="0.75" stroke-width="0.75"/>
<path d="M666.74,254.19 L667.59,253.62 L668.44,253.05 L669.29,252.48 L670.15,251.91 L671.00,251.34 L671.85,250.77 L672.70,250.20 L673.55,249.62 L674.41,249.05 L675.26,248.47 L676.11,247.90 L676.96,247.32 L677.82,246.74 L678.67,246.15 L679.52,245.57 L680.37,244.99 L681.22,244.40 L682.08,243.81 L682.93,243.22 L683.78,242.62 L684.63,242.02 L685.48,241.42 L686.34,240.82 L687.19,240.21 L688.04,239.60 L688.89,238.99 L689.74,238.37 L690.60,237.75 L691.45,237.12 L692.30,236.49 L693.15,235.85 L694.00,235.20 L694.86,234.55 L695.71,233.89 L696.56,233.22 L697.41,232.55 L698.26,231.86 L699.12,231.17 L699.97,230.46 L700.82,229.75 L701.67,229.02 L702.52,228.28 L703.38,227.53 L704.23,226.76 L705.08,225.97 L705.93,225.17 L706.78,224.34 L707.64,223.50 L708.49,222.64 L709.34,221.75 L710.19,220.84 L711.04,219.90 L711.90,218.93 L712.75,217.93 L713.60,216.90 L714.45,215.83 L715.30,214.73 L716.16,213.58 L717.01,212.39 L717.86,211.15 L718.71,209.86 L719.56,208.52 L720.42,207.12 L721.27,205.66 L722.12,204.13 L722.97,202.54 L723.82,200.87 L724.68,199.12 L725.53,197.28 L726.38,195.36 L727.23,193.34 L728.08,191.22 L728.94,189.00 L729.79,186.66 L730.64,184.21 L731.49,181.63 L732.34,178.93 L733.20,176.09 L734.05,173.12 L734.90,170.00 L735.75,166.73 L736.60,163.32 L737.46,159.75 L738.31,156.03 L739.16,152.15 L740.01,148.12 L740.87,143.94 L741.72,139.62 L742.57,135.17 L743.42,130.59 L744.27,125.90 L745.13,121.13 L745.98,116.28 L746.83,111.39 L747.68,106.49 L748.53,101.61 L749.39,96.79 L750.24,92.07 L751.09,87.49 L751.94,83.10 L752.79,78.94 L753.65,75.07 L754.50,71.53 L755.35,68.37 L756.20,65.63 L757.05,63.33 L757.91,61.52 L758.76,60.22 L759.61,59.43 L760.46,59.16 L761.31,59.40 L762.17,60.15 L763.02,61.38 L763.87,63.05 L764.72,65.14 L765.57,67.60 L766.43,70.38 L767.28,73.45 L768.13,76.75 L768.98,80.23 L769.83,83.84 L770.69,87.56 L771.54,91.32 L772.39,95.10 L773.24,98.87 L774.09,102.59 L774.95,106.23 L775.80,109.79 L776.65,113.23 L777.50,116.55 L778.35,119.74 L779.21,122.78 L780.06,125.67 L780.91,128.41 L781.76,131.00 L782.61,133.43 L783.47,135.71 L784.32,137.84 L785.17,139.82 L786.02,141.66 L786.87,143.36 L787.73,144.93 L788.58,146.37 L789.43,147.69 L790.28,148.90 L791.13,149.99 L791.99,150.98 L792.84,151.87 L793.69,152.66 L794.54,153.36 L795.39,153.99 L796.25,154.53 L797.10,155.00 L797.95,155.40 L798.80,155.73 L799.65,156.01 L800.51,156.22 L801.36,156.39 L802.21,156.50 L803.06,156.57 L803.92,156.59 L804.77,156.57 L805.62,156.51 L806.47,156.42 L807.32,156.30 L808.18,156.14 L809.03,155.96 L809.88,155.75 L810.73,155.52" fill="none" stroke="#ff0000" stroke-opacity="0.75" stroke-width="0.75"/>
<path d="M679.61,257.83 L680.46,257.26 L681.31,256.68 L682.17,256.11 L683.02,255.53 L683.87,254.95 L684.72,254.36 L685.57,253.78 L686.43,253.19 L687.28,252.61 L688.13,252.02 L688.98,251.42 L689.83,250.83 L690.69,250.23 L691.54,249.63 L692.39,249.03 L693.24,248.42 L694.10,247.81 L694.95,247.19 L695.80,246.57 L696.65,245.95 L697.50,245.32 L698.36,244.68 L699.21,244.04 L700.06,243.40 L700.91,242.74 L701.76,242.08 L702.62,241.41 L703.47,240.74 L704.32,240.05 L705.17,239.35 L706.02,238.65 L706.88,237.93 L707.73,237.20 L708.58,236.46 L709.43,235.70 L710.28,234.93 L711.14,234.14 L711.99,233.33 L712.84,232.50 L713.69,231.66 L714.54,230.79 L715.40,229.90 L716.25,228.98 L717.10,228.04 L717.95,227.06 L718.80,226.06 L719.66,225.02 L720.51,223.94 L721.36,222.83 L722.21,221.68 L723.06,220.48 L723.92,219.23 L724.77,217.93 L725.62,216.58 L726.47,215.17 L727.32,213.69 L728.18,212.15 L729.03,210.54 L729.88,208.86 L730.73,207.09 L731.58,205.24 L732.44,203.30 L733.29,201.26 L734.14,199.12 L734.99,196.88 L735.84,194.52 L736.70,192.04 L737.55,189.44 L738.40,186.72 L739.25,183.85 L740.10,180.85 L740.96,177.70 L741.81,174.41 L742.66,170.96 L743.51,167.37 L744.36,163.61 L745.22,159.71 L746.07,155.65 L746.92,151.44 L747.77,147.09 L748.62,142.62 L749.48,138.02 L750.33,133.31 L751.18,128.52 L752.03,123.66 L752.88,118.77 L753.74,113.87 L754.59,109.00 L755.44,104.19 L756.29,99.49 L757.15,94.95 L758.00,90.60 L758.85,86.49 L759.70,82.68 L760.55,79.21 L761.41,76.13 L762.26,73.47 L763.11,71.27 L763.96,69.55 L764.81,68.35 L765.67,67.66 L766.52,67.49 L767.37,67.83 L768.22,68.67 L769.07,69.99 L769.93,71.74 L770.78,73.91 L771.63,76.43 L772.48,79.28 L773.33,82.39 L774.19,85.72 L775.04,89.23 L775.89,92.87 L776.74,96.60 L777.59,100.37 L778.45,104.15 L779.30,107.91 L780.15,111.62 L781.00,115.25 L781.85,118.78 L782.71,122.20 L783.56,125.50 L784.41,128.66 L785.26,131.67 L786.11,134.53 L786.97,137.25 L787.82,139.80 L788.67,142.20 L789.52,144.45 L790.37,146.55 L791.23,148.51 L792.08,150.32 L792.93,152.00 L793.78,153.54 L794.63,154.96 L795.49,156.26 L796.34,157.44 L797.19,158.51 L798.04,159.48 L798.89,160.35 L799.75,161.12 L800.60,161.81 L801.45,162.42 L802.30,162.95 L803.15,163.40 L804.01,163.79 L804.86,164.11 L805.71,164.37 L806.56,164.58 L807.41,164.73 L808.27,164.84 L809.12,164.89 L809.97,164.91 L810.82,164.88 L811.67,164.82 L812.53,164.72 L813.38,164.59 L814.23,164.43 L815.08,164.24 L815.93,164.03 L816.79,163.79 L817.64,163.53 L818.49,163.24 L819.34,162.94 L820.20,162.62 L821.05,162.28 L821.90,161.93 L822.75,161.56 L823.60,161.17" fill="none" stroke="#ff0000" stroke-opacity="0.75" stroke-width="0.75"/>
<path d="M692.48,261.41 L693.33,260.82 L694.19,260.23 L695.04,259.64 L695.89,259.05 L696.74,258.45 L697.59,257.85 L698.45,257.25 L699.30,256.64 L700.15,256.03 L701.00,255.41 L701.85,254.79 L702.71,254.17 L703.56,253.54 L704.41,252.91 L705.26,252.27 L706.11,251.62 L706.97,250.97 L707.82,250.31 L708.67,249.64 L709.52,248.97 L710.38,248.28 L711.23,247.59 L712.08,246.88 L712.93,246.17 L713.78,245.44 L714.64,244.70 L715.49,243.94 L716.34,243.17 L717.19,242.39 L718.04,241.58 L718.90,240.76 L719.75,239.92 L720.60,239.05 L721.45,238.16 L722.30,237.25 L723.16,236.31 L724.01,235.34 L724.86,234.34 L725.71,233.31 L726.56,232.24 L727.42,231.13 L728.27,229.98 L729.12,228.79 L729.97,227.55 L730.82,226.26 L731.68,224.91 L732.53,223.51 L733.38,222.05 L734.23,220.52 L735.08,218.92 L735.94,217.24 L736.79,215.49 L737.64,213.65 L738.49,211.72 L739.34,209.70 L740.20,207.58 L741.05,205.35 L741.90,203.01 L742.75,200.55 L743.60,197.97 L744.46,195.26 L745.31,192.42 L746.16,189.44 L747.01,186.31 L747.86,183.04 L748.72,179.62 L749.57,176.04 L750.42,172.31 L751.27,168.43 L752.12,164.39 L752.98,160.21 L753.83,155.88 L754.68,151.42 L755.53,146.84 L756.38,142.15 L757.24,137.37 L758.09,132.52 L758.94,127.63 L759.79,122.73 L760.64,117.85 L761.50,113.03 L762.35,108.31 L763.20,103.74 L764.05,99.36 L764.90,95.22 L765.76,91.36 L766.61,87.84 L767.46,84.69 L768.31,81.97 L769.16,79.70 L770.02,77.91 L770.87,76.62 L771.72,75.86 L772.57,75.61 L773.43,75.88 L774.28,76.65 L775.13,77.89 L775.98,79.59 L776.83,81.69 L777.69,84.17 L778.54,86.96 L779.39,90.04 L780.24,93.35 L781.09,96.83 L781.95,100.46 L782.80,104.17 L783.65,107.94 L784.50,111.72 L785.35,115.48 L786.21,119.20 L787.06,122.84 L787.91,126.39 L788.76,129.83 L789.61,133.15 L790.47,136.33 L791.32,139.36 L792.17,142.25 L793.02,144.98 L793.87,147.56 L794.73,149.99 L795.58,152.26 L796.43,154.38 L797.28,156.36 L798.13,158.19 L798.99,159.89 L799.84,161.45 L800.69,162.89 L801.54,164.20 L802.39,165.40 L803.25,166.49 L804.10,167.47 L804.95,168.35 L805.80,169.14 L806.65,169.84 L807.51,170.46 L808.36,171.00 L809.21,171.47 L810.06,171.87 L810.91,172.20 L811.77,172.47 L812.62,172.68 L813.47,172.84 L814.32,172.95 L815.17,173.02 L816.03,173.04 L816.88,173.02 L817.73,172.96 L818.58,172.87 L819.43,172.74 L820.29,172.59 L821.14,172.40 L821.99,172.19 L822.84,171.96 L823.69,171.70 L824.55,171.42 L825.40,171.12 L826.25,170.80 L827.10,170.46 L827.95,170.11 L828.81,169.74 L829.66,169.36 L830.51,168.97 L831.36,168.56 L832.21,168.15 L833.07,167.72 L833.92,167.28 L834.77,166.84 L835.62,166.38 L836.48,165.92" fill="none" stroke="#ff0000" stroke-opacity="0.75" stroke-width="0.75"/>
<path d="M705.35,264.87 L706.21,264.27 L707.06,263.65 L707.91,263.04 L708.76,262.41 L709.61,261.79 L710.47,261.16 L711.32,260.52 L712.17,259.88 L713.02,259.23 L713.87,258.57 L714.73,257.91 L715.58,257.24 L716.43,256.56 L717.28,255.87 L718.13,255.17 L718.99,254.46 L719.84,253.73 L720.69,253.00 L721.54,252.25 L722.39,251.49 L723.25,250.71 L724.10,249.91 L724.95,249.10 L725.80,248.26 L726.66,247.41 L727.51,246.53 L728.36,245.63 L729.21,244.70 L730.06,243.75 L730.92,242.76 L731.77,241.75 L732.62,240.69 L733.47,239.60 L734.32,238.48 L735.18,237.30 L736.03,236.09 L736.88,234.82 L737.73,233.50 L738.58,232.13 L739.44,230.69 L740.29,229.19 L741.14,227.63 L741.99,225.99 L742.84,224.27 L743.70,222.47 L744.55,220.59 L745.40,218.61 L746.25,216.54 L747.10,214.36 L747.96,212.07 L748.81,209.67 L749.66,207.15 L750.51,204.50 L751.36,201.72 L752.22,198.80 L753.07,195.75 L753.92,192.54 L754.77,189.19 L755.62,185.69 L756.48,182.03 L757.33,178.22 L758.18,174.25 L759.03,170.14 L759.88,165.88 L760.74,161.48 L761.59,156.95 L762.44,152.31 L763.29,147.57 L764.14,142.75 L765.00,137.88 L765.85,132.98 L766.70,128.09 L767.55,123.23 L768.40,118.46 L769.26,113.82 L770.11,109.34 L770.96,105.08 L771.81,101.08 L772.66,97.40 L773.52,94.07 L774.37,91.14 L775.22,88.65 L776.07,86.63 L776.92,85.11 L777.78,84.10 L778.63,83.61 L779.48,83.64 L780.33,84.17 L781.18,85.20 L782.04,86.69 L782.89,88.61 L783.74,90.91 L784.59,93.56 L785.44,96.52 L786.30,99.72 L787.15,103.13 L788.00,106.69 L788.85,110.37 L789.71,114.12 L790.56,117.90 L791.41,121.67 L792.26,125.41 L793.11,129.09 L793.97,132.69 L794.82,136.18 L795.67,139.56 L796.52,142.80 L797.37,145.91 L798.23,148.86 L799.08,151.67 L799.93,154.32 L800.78,156.82 L801.63,159.16 L802.49,161.35 L803.34,163.40 L804.19,165.30 L805.04,167.06 L805.89,168.68 L806.75,170.18 L807.60,171.55 L808.45,172.80 L809.30,173.94 L810.15,174.97 L811.01,175.90 L811.86,176.73 L812.71,177.48 L813.56,178.13 L814.41,178.71 L815.27,179.21 L816.12,179.64 L816.97,180.00 L817.82,180.30 L818.67,180.54 L819.53,180.72 L820.38,180.86 L821.23,180.94 L822.08,180.99 L822.93,180.98 L823.79,180.94 L824.64,180.87 L825.49,180.76 L826.34,180.62 L827.19,180.44 L828.05,180.24 L828.90,180.02 L829.75,179.77 L830.60,179.50 L831.45,179.21 L832.31,178.90 L833.16,178.57 L834.01,178.23 L834.86,177.87 L835.71,177.49 L836.57,177.10 L837.42,176.70 L838.27,176.29 L839.12,175.87 L839.97,175.44 L840.83,175.00 L841.68,174.55 L842.53,174.09 L843.38,173.63 L844.23,173.15 L845.09,172.68 L845.94,172.19 L846.79,171.70 L847.64,171.21 L848.49,170.71 L849.35,170.20" fill="none" stroke="#ff0000" stroke-opacity="0.75" stroke-width="0.75"/>
<path d="M718.23,268.16 L719.08,267.51 L719.93,266.86 L720.78,266.20 L721.63,265.54 L722.49,264.86 L723.34,264.18 L724.19,263.49 L725.04,262.79 L725.89,262.07 L726.75,261.35 L727.60,260.61 L728.45,259.86 L729.30,259.09 L730.15,258.31 L731.01,257.51 L731.86,256.69 L732.71,255.85 L733.56,254.99 L734.41,254.11 L735.27,253.20 L736.12,252.27 L736.97,251.31 L737.82,250.31 L738.67,249.29 L739.53,248.23 L740.38,247.13 L741.23,245.99 L742.08,244.81 L742.94,243.58 L743.79,242.30 L744.64,240.97 L745.49,239.58 L746.34,238.14 L747.20,236.62 L748.05,235.04 L748.90,233.38 L749.75,231.65 L750.60,229.83 L751.46,227.92 L752.31,225.93 L753.16,223.83 L754.01,221.62 L754.86,219.31 L755.72,216.88 L756.57,214.33 L757.42,211.65 L758.27,208.84 L759.12,205.90 L759.98,202.81 L760.83,199.57 L761.68,196.18 L762.53,192.64 L763.38,188.95 L764.24,185.10 L765.09,181.10 L765.94,176.95 L766.79,172.66 L767.64,168.23 L768.50,163.68 L769.35,159.01 L770.20,154.25 L771.05,149.42 L771.90,144.54 L772.76,139.64 L773.61,134.75 L774.46,129.91 L775.31,125.17 L776.16,120.55 L777.02,116.12 L777.87,111.92 L778.72,107.99 L779.57,104.38 L780.42,101.14 L781.28,98.31 L782.13,95.93 L782.98,94.02 L783.83,92.62 L784.68,91.72 L785.54,91.35 L786.39,91.50 L787.24,92.15 L788.09,93.28 L788.94,94.87 L789.80,96.88 L790.65,99.27 L791.50,102.00 L792.35,105.01 L793.20,108.27 L794.06,111.72 L794.91,115.31 L795.76,119.01 L796.61,122.76 L797.46,126.55 L798.32,130.32 L799.17,134.05 L800.02,137.71 L800.87,141.28 L801.72,144.75 L802.58,148.10 L803.43,151.31 L804.28,154.38 L805.13,157.30 L805.98,160.07 L806.84,162.69 L807.69,165.15 L808.54,167.46 L809.39,169.62 L810.25,171.63 L811.10,173.50 L811.95,175.23 L812.80,176.82 L813.65,178.29 L814.51,179.63 L815.36,180.85 L816.21,181.97 L817.06,182.98 L817.91,183.88 L818.77,184.69 L819.62,185.42 L820.47,186.05 L821.32,186.61 L822.17,187.10 L823.03,187.51 L823.88,187.86 L824.73,188.14 L825.58,188.37 L826.43,188.54 L827.29,188.66 L828.14,188.74 L828.99,188.77 L829.84,188.76 L830.69,188.71 L831.55,188.63 L832.40,188.51 L833.25,188.36 L834.10,188.18 L834.95,187.98 L835.81,187.75 L836.66,187.49 L837.51,187.22 L838.36,186.92 L839.21,186.61 L840.07,186.28 L840.92,185.93 L841.77,185.56 L842.62,185.19 L843.47,184.80 L844.33,184.39 L845.18,183.98 L846.03,183.55 L846.88,183.12 L847.73,182.68 L848.59,182.23 L849.44,181.77 L850.29,181.30 L851.14,180.83 L851.99,180.35 L852.85,179.86 L853.70,179.37 L854.55,178.88 L855.40,178.38 L856.25,177.87 L857.11,177.36 L857.96,176.85 L858.81,176.33 L859.66,175.82 L860.51,175.29 L861.37,174.77 L862.22,174.24" fill="none" stroke="#ff0000" stroke-opacity="0.75" stroke-width="0.75"/>
<path d="M731.10,271.15 L731.95,270.45 L732.80,269.73 L733.65,269.01 L734.51,268.27 L735.36,267.52 L736.21,266.76 L737.06,265.97 L737.91,265.18 L738.77,264.36 L739.62,263.52 L740.47,262.66 L741.32,261.78 L742.17,260.88 L743.03,259.94 L743.88,258.98 L744.73,257.99 L745.58,256.97 L746.43,255.91 L747.29,254.81 L748.14,253.68 L748.99,252.50 L749.84,251.27 L750.69,250.00 L751.55,248.67 L752.40,247.28 L753.25,245.84 L754.10,244.33 L754.95,242.75 L755.81,241.10 L756.66,239.37 L757.51,237.55 L758.36,235.65 L759.22,233.66 L760.07,231.57 L760.92,229.37 L761.77,227.06 L762.62,224.64 L763.48,222.09 L764.33,219.42 L765.18,216.62 L766.03,213.68 L766.88,210.60 L767.74,207.37 L768.59,203.99 L769.44,200.46 L770.29,196.78 L771.14,192.94 L772.00,188.95 L772.85,184.81 L773.70,180.52 L774.55,176.10 L775.40,171.55 L776.26,166.89 L777.11,162.13 L777.96,157.30 L778.81,152.42 L779.66,147.52 L780.52,142.63 L781.37,137.79 L782.22,133.04 L783.07,128.42 L783.92,123.98 L784.78,119.76 L785.63,115.81 L786.48,112.19 L787.33,108.93 L788.18,106.08 L789.04,103.67 L789.89,101.74 L790.74,100.30 L791.59,99.38 L792.44,98.98 L793.30,99.10 L794.15,99.73 L795.00,100.83 L795.85,102.40 L796.70,104.39 L797.56,106.76 L798.41,109.47 L799.26,112.47 L800.11,115.71 L800.96,119.15 L801.82,122.74 L802.67,126.43 L803.52,130.18 L804.37,133.97 L805.22,137.74 L806.08,141.47 L806.93,145.14 L807.78,148.72 L808.63,152.19 L809.48,155.54 L810.34,158.76 L811.19,161.84 L812.04,164.77 L812.89,167.55 L813.74,170.18 L814.60,172.65 L815.45,174.96 L816.30,177.13 L817.15,179.15 L818.00,181.02 L818.86,182.76 L819.71,184.36 L820.56,185.83 L821.41,187.18 L822.26,188.41 L823.12,189.53 L823.97,190.55 L824.82,191.46 L825.67,192.28 L826.53,193.00 L827.38,193.65 L828.23,194.21 L829.08,194.70 L829.93,195.11 L830.79,195.46 L831.64,195.75 L832.49,195.98 L833.34,196.16 L834.19,196.28 L835.05,196.36 L835.90,196.39 L836.75,196.39 L837.60,196.34 L838.45,196.26 L839.31,196.14 L840.16,195.99 L841.01,195.82 L841.86,195.61 L842.71,195.38 L843.57,195.13 L844.42,194.86 L845.27,194.56 L846.12,194.25 L846.97,193.92 L847.83,193.57 L848.68,193.21 L849.53,192.83 L850.38,192.44 L851.23,192.04 L852.09,191.63 L852.94,191.20 L853.79,190.77 L854.64,190.32 L855.49,189.87 L856.35,189.41 L857.20,188.95 L858.05,188.48 L858.90,188.00 L859.75,187.51 L860.61,187.02 L861.46,186.53 L862.31,186.03 L863.16,185.52 L864.01,185.01 L864.87,184.50 L865.72,183.99 L866.57,183.47 L867.42,182.95 L868.27,182.42 L869.13,181.89 L869.98,181.36 L870.83,180.83 L871.68,180.30 L872.53,179.76 L873.39,179.23 L874.24,178.69 L875.09,178.15" fill="none" stroke="#ff0000" stroke-opacity="0.75" stroke-width="0.75"/>
<path d="M682.52,177.29 L683.40,179.57 L684.31,181.84 L685.23,184.10 L686.18,186.34 L687.16,188.56 L688.15,190.77 L689.17,192.96 L690.22,195.14 L691.28,197.30 L692.36,199.45 L693.47,201.59 L694.60,203.71 L695.74,205.82 L696.91,207.92 L698.10,210.00 L699.31,212.07 L700.53,214.13 L701.78,216.18 L703.04,218.21 L704.32,220.23 L705.62,222.24 L706.94,224.24 L708.27,226.23 L709.63,228.20 L710.99,230.17 L712.38,232.12 L713.78,234.06 L715.20,235.99 L716.63,237.92 L718.08,239.83 L719.55,241.73 L721.03,243.62 L722.52,245.50 L724.03,247.37 L725.56,249.23 L727.10,251.08 L728.65,252.93 L730.22,254.76 L731.80,256.59" fill="none" stroke="#f00" stroke-width="1.5" stroke-dasharray="4,4"/>
<path d="M735.21,14.50 L735.77,15.86 L736.33,17.22 L736.91,18.58 L737.49,19.92 L738.08,21.26 L738.68,22.60 L739.29,23.93 L739.91,25.26 L740.53,26.58 L741.17,27.89 L741.81,29.20 L742.45,30.51 L743.11,31.81 L743.78,33.10 L744.45,34.39 L745.13,35.68 L745.81,36.95 L746.51,38.23 L747.21,39.50 L747.92,40.76 L748.63,42.02 L749.36,43.28 L750.09,44.53 L750.83,45.78 L751.57,47.02 L752.32,48.26 L753.08,49.49 L753.84,50.72 L754.62,51.94 L755.39,53.16 L756.18,54.38 L756.97,55.59 L757.77,56.79 L758.57,58.00 L759.38,59.19 L760.20,60.39 L761.02,61.58 L761.85,62.76 L762.68,63.95 L763.53,65.12 L764.37,66.30 L765.23,67.47 L766.08,68.64 L766.95,69.80 L767.82,70.96 L768.70,72.11 L769.58,73.26 L770.46,74.41 L771.36,75.56 L772.26,76.70 L773.16,77.83 L774.07,78.97 L774.98,80.10 L775.90,81.22 L776.83,82.35 L777.76,83.46 L778.70,84.58 L779.64,85.69 L780.58,86.80 L781.53,87.91 L782.49,89.01 L783.45,90.11 L784.42,91.21 L785.39,92.30 L786.36,93.39 L787.34,94.48 L788.33,95.56 L789.32,96.64 L790.31,97.72 L791.31,98.79 L792.32,99.86 L793.33,100.93 L794.34,102.00 L795.36,103.06 L796.38,104.12 L797.40,105.17 L798.43,106.23 L799.47,107.28 L800.51,108.33 L801.55,109.37 L802.60,110.41 L803.65,111.45 L804.71,112.49 L805.77,113.52 L806.83,114.56 L807.90,115.58 L808.97,116.61 L810.05,117.63 L811.13,118.65 L812.22,119.67 L813.30,120.69 L814.40,121.70 L815.49,122.71 L816.59,123.72 L817.70,124.73 L818.80,125.73 L819.92,126.73 L821.03,127.73 L822.15,128.72 L823.27,129.72 L824.40,130.71 L825.53,131.70 L826.66,132.68 L827.80,133.67 L828.94,134.65 L830.08,135.63 L831.23,136.61 L832.38,137.58 L833.53,138.55 L834.69,139.52 L835.85,140.49 L837.01,141.46 L838.18,142.42 L839.35,143.38 L840.52,144.34 L841.70,145.30 L842.88,146.26 L844.07,147.21 L845.25,148.16" fill="none" stroke="#f00" stroke-width="1.8"/>
<path d="M870.94,110.94 L869.89,112.84 L868.87,114.72 L867.88,116.58 L866.92,118.43 L865.99,120.25 L865.09,122.05 L864.21,123.84 L863.36,125.61 L862.54,127.36 L861.74,129.10 L860.97,130.82 L860.22,132.52 L859.50,134.20 L858.81,135.87 L858.13,137.53 L857.48,139.17 L856.86,140.79 L856.25,142.40 L855.67,143.99 L855.11,145.57 L854.57,147.14 L854.05,148.69 L853.55,150.23 L853.08,151.76 L852.62,153.27 L852.18,154.77 L851.76,156.26 L851.36,157.73 L850.98,159.19 L850.62,160.64 L850.27,162.08 L849.94,163.51 L849.63,164.92 L849.34,166.33 L849.07,167.72 L848.81,169.10 L848.56,170.47 L848.34,171.84 L848.12,173.19 L847.93,174.53 L847.75,175.86 L847.58,177.18 L847.43,178.49 L847.30,179.79 L847.18,181.08 L847.07,182.36 L846.98,183.64 L846.90,184.90 L846.83,186.16 L846.78,187.40 L846.74,188.64 L846.71,189.87 L846.70,191.09 L846.70,192.30 L846.71,193.51 L846.73,194.70 L846.77,195.89 L846.82,197.07 L846.87,198.25 L846.95,199.41 L847.03,200.57 L847.12,201.72 L847.23,202.86 L847.34,204.00 L847.47,205.13 L847.60,206.25 L847.75,207.37 L847.91,208.47 L848.07,209.58 L848.25,210.67 L848.44,211.76 L848.64,212.84 L848.84,213.92 L849.06,214.99 L849.29,216.05 L849.52,217.11 L849.77,218.16 L850.02,219.21 L850.28,220.25" fill="none" stroke="#0000ff" stroke-width="2.03"/>
<path d="M621.43,216.58 L622.62,216.93 L623.82,217.27 L625.01,217.62 L626.21,217.96 L627.40,218.31 L628.59,218.65 L629.79,218.99 L630.98,219.34 L632.18,219.68 L633.37,220.03 L634.57,220.37 L635.76,220.71 L636.95,221.06 L638.15,221.40 L639.34,221.74 L640.54,222.08 L641.73,222.43 L642.92,222.77 L644.12,223.11 L645.31,223.45 L646.51,223.79 L647.70,224.13 L648.90,224.47 L650.09,224.81 L651.28,225.15 L652.48,225.49 L653.67,225.82 L654.87,226.16 L656.06,226.50 L657.25,226.83 L658.45,227.17 L659.64,227.50 L660.84,227.84 L662.03,228.17 L663.23,228.50 L664.42,228.83 L665.61,229.16 L666.81,229.49 L668.00,229.82 L669.20,230.15 L670.39,230.47 L671.58,230.80 L672.78,231.12 L673.97,231.44 L675.17,231.76 L676.36,232.08 L677.56,232.40 L678.75,232.71 L679.94,233.03 L681.14,233.34 L682.33,233.65 L683.53,233.96 L684.72,234.26 L685.91,234.56 L687.11,234.86 L688.30,235.16 L689.50,235.46 L690.69,235.75 L691.89,236.04 L693.08,236.32 L694.27,236.60 L695.47,236.88 L696.66,237.16 L697.86,237.43 L699.05,237.70 L700.24,237.96 L701.44,238.22 L702.63,238.47 L703.83,238.72 L705.02,238.96 L706.22,239.20 L707.41,239.43 L708.60,239.66 L709.80,239.88 L710.99,240.09 L712.19,240.29 L713.38,240.49 L714.57,240.68 L715.77,240.87 L716.96,241.04 L718.16,241.21 L719.35,241.37 L720.54,241.51 L721.74,241.65 L722.93,241.78 L724.13,241.90 L725.32,242.00 L726.52,242.10 L727.71,242.18 L728.90,242.25 L730.10,242.30 L731.29,242.35 L732.49,242.37 L733.68,242.39 L734.87,242.38 L736.07,242.36 L737.26,242.33 L738.46,242.27 L739.65,242.20 L740.85,242.11 L742.04,242.00 L743.23,241.87 L744.43,241.72 L745.62,241.54 L746.82,241.35 L748.01,241.13 L749.20,240.88 L750.40,240.61 L751.59,240.32 L752.79,240.00 L753.98,239.64 L755.18,239.27 L756.37,238.86 L757.56,238.42 L758.76,237.95 L759.95,237.44 L761.15,236.91 L762.34,236.34 L763.53,235.73" fill="none" stroke="#f00" stroke-width="1.8"/>
<path d="M788.42,245.81 L788.99,245.75 L789.55,245.69 L790.12,245.63 L790.69,245.57 L791.25,245.51 L791.82,245.44 L792.39,245.38 L792.95,245.31 L793.52,245.24 L794.09,245.17 L794.65,245.10 L795.22,245.02 L795.79,244.95 L796.35,244.87 L796.92,244.79 L797.49,244.71 L798.05,244.62 L798.62,244.54 L799.19,244.45 L799.75,244.36 L800.32,244.27 L800.89,244.18 L801.45,244.09 L802.02,244.00 L802.59,243.90 L803.15,243.80 L803.72,243.70 L804.29,243.60 L804.86,243.50 L805.42,243.40 L805.99,243.29 L806.56,243.19 L807.12,243.08 L807.69,242.97 L808.26,242.86 L808.82,242.34 L809.39,241.76 L809.96,241.17 L810.52,240.57 L811.09,239.96 L811.66,239.34 L812.22,238.71 L812.79,238.08 L813.36,237.44 L813.92,236.79 L814.49,236.14 L815.06,235.48 L815.62,234.82 L816.19,234.15 L816.76,233.48 L817.32,232.80 L817.89,232.13 L818.46,231.45 L819.02,230.77 L819.59,230.09 L820.16,229.41 L820.72,228.73 L821.29,228.05 L821.86,227.38 L822.42,226.71 L822.99,226.04 L823.56,225.38 L824.12,224.72 L824.69,224.07 L825.26,223.43 L825.82,222.79 L826.39,222.17 L826.96,221.55 L827.52,220.94 L828.09,220.35 L828.66,219.76 L829.22,219.19 L829.79,218.64 L830.36,218.09 L830.92,217.57 L831.49,217.05 L832.06,216.56 L832.62,216.08 L833.19,215.62 L833.76,215.18 L834.32,214.75 L834.89,214.35 L835.46,213.97 L836.02,213.60 L836.59,213.26 L837.16,212.94 L837.72,212.65 L838.29,212.37 L838.86,212.12 L839.42,211.89 L839.99,211.69 L840.56,211.50 L841.12,211.35 L841.69,211.21 L842.26,211.10 L842.82,211.02 L843.39,210.96 L843.96,210.92 L844.52,210.91 L845.09,210.92 L845.66,210.96 L846.22,211.02 L846.79,211.11 L847.36,211.22 L847.92,211.35 L848.49,211.51 L849.06,211.69 L849.62,211.89 L850.19,212.12 L850.76,212.37 L851.33,212.63 L851.89,212.93 L852.46,213.24 L853.03,213.57 L853.59,213.93 L854.16,214.30 L854.73,214.69 L855.29,215.10 L855.86,215.53 L856.43,215.98 L856.99,216.44 L857.56,216.92 L858.13,217.42 L858.69,217.93 L859.26,218.46 L859.83,219.00 L860.39,219.55 L860.96,220.12 L861.53,220.70 L862.09,221.29 L862.66,221.90 L863.23,222.51 L863.79,223.14 L864.36,223.77 L864.93,224.41 L865.49,225.07 L866.06,225.73 L866.63,226.40 L867.19,227.07 L867.76,227.75 L868.33,228.44 L868.89,229.14 L869.46,229.84 L870.03,230.54 L870.59,231.25 L871.16,231.96 L871.73,232.68 L872.29,233.39 L872.86,234.11" fill="none" stroke="#f00" stroke-width="1.8"/>
<path d="M763.53,235.73 L788.42,245.81" fill="none" stroke="#f00" stroke-width="1.8" stroke-dasharray="4,1.6"/>
<text transform="translate(622.4,265.2) matrix(1,0.288,0,1,0,0)" font-size="10.62" stroke="#000" stroke-width="0.45" text-anchor="middle" fill="#000">320</text>
<text transform="translate(691.1,285.1) matrix(1,0.288,0,1,0,0)" font-size="10.62" stroke="#000" stroke-width="0.45" text-anchor="middle" fill="#000">360</text>
<text transform="translate(759.7,305.0) matrix(1,0.288,0,1,0,0)" font-size="10.62" stroke="#000" stroke-width="0.45" text-anchor="middle" fill="#000">400</text>
<text transform="translate(828.4,324.9) matrix(1,0.288,0,1,0,0)" font-size="10.62" stroke="#000" stroke-width="0.45" text-anchor="middle" fill="#000">440</text>
<text transform="translate(575.4,234.4) matrix(1,0.288,0,1,0,0)" font-size="10.62" stroke="#000" stroke-width="0.45" text-anchor="end" fill="#000">0</text>
<text transform="translate(575.4,190.7) matrix(1,0.288,0,1,0,0)" font-size="10.62" stroke="#000" stroke-width="0.45" text-anchor="end" fill="#000">0.1</text>
<text transform="translate(575.4,147.0) matrix(1,0.288,0,1,0,0)" font-size="10.62" stroke="#000" stroke-width="0.45" text-anchor="end" fill="#000">0.2</text>
<text transform="translate(856.9,344.1) matrix(0.64,-0.27,-0.30,1.25,0,0)" font-size="10.62" stroke="#000" stroke-width="0.45" fill="#000">10</text>
<text transform="translate(867.3,333.1) matrix(0.64,-0.27,-0.30,1.25,0,0)" font-size="6.56" stroke="#000" stroke-width="0.3" text-anchor="middle" fill="#000">-2</text>
<text transform="translate(875.1,332.1) matrix(0.64,-0.27,-0.30,1.25,0,0)" font-size="10.62" stroke="#000" stroke-width="0.45" fill="#000">10</text>
<text transform="translate(885.6,321.1) matrix(0.64,-0.27,-0.30,1.25,0,0)" font-size="6.56" stroke="#000" stroke-width="0.3" text-anchor="middle" fill="#000">-1</text>
<text transform="translate(893.4,320.1) matrix(0.64,-0.27,-0.30,1.25,0,0)" font-size="10.62" stroke="#000" stroke-width="0.45" fill="#000">10</text>
<text transform="translate(903.8,309.1) matrix(0.64,-0.27,-0.30,1.25,0,0)" font-size="6.56" stroke="#000" stroke-width="0.3" text-anchor="middle" fill="#000">0</text>
<text transform="translate(911.6,308.1) matrix(0.64,-0.27,-0.30,1.25,0,0)" font-size="10.62" stroke="#000" stroke-width="0.45" fill="#000">10</text>
<text transform="translate(922.1,297.1) matrix(0.64,-0.27,-0.30,1.25,0,0)" font-size="6.56" stroke="#000" stroke-width="0.3" text-anchor="middle" fill="#000">1</text>
<text transform="translate(929.9,296.1) matrix(0.64,-0.27,-0.30,1.25,0,0)" font-size="10.62" stroke="#000" stroke-width="0.45" fill="#000">10</text>
<text transform="translate(940.3,285.1) matrix(0.64,-0.27,-0.30,1.25,0,0)" font-size="6.56" stroke="#000" stroke-width="0.3" text-anchor="middle" fill="#000">2</text>
<text transform="translate(948.1,284.1) matrix(0.64,-0.27,-0.30,1.25,0,0)" font-size="10.62" stroke="#000" stroke-width="0.45" fill="#000">10</text>
<text transform="translate(958.6,273.1) matrix(0.64,-0.27,-0.30,1.25,0,0)" font-size="6.56" stroke="#000" stroke-width="0.3" text-anchor="middle" fill="#000">3</text>
<text transform="translate(966.4,272.1) matrix(0.64,-0.27,-0.30,1.25,0,0)" font-size="10.62" stroke="#000" stroke-width="0.45" fill="#000">10</text>
<text transform="translate(976.8,261.1) matrix(0.64,-0.27,-0.30,1.25,0,0)" font-size="6.56" stroke="#000" stroke-width="0.3" text-anchor="middle" fill="#000">4</text>
<text transform="translate(984.6,260.2) matrix(0.64,-0.27,-0.30,1.25,0,0)" font-size="10.62" stroke="#000" stroke-width="0.45" fill="#000">10</text>
<text transform="translate(995.1,249.2) matrix(0.64,-0.27,-0.30,1.25,0,0)" font-size="6.56" stroke="#000" stroke-width="0.3" text-anchor="middle" fill="#000">5</text>
<text transform="translate(1002.9,248.2) matrix(0.64,-0.27,-0.30,1.25,0,0)" font-size="10.62" stroke="#000" stroke-width="0.45" fill="#000">10</text>
<text transform="translate(1013.3,237.2) matrix(0.64,-0.27,-0.30,1.25,0,0)" font-size="6.56" stroke="#000" stroke-width="0.3" text-anchor="middle" fill="#000">6</text>
<text transform="translate(553.4,192.7) rotate(-90)" font-size="12.54" fill="#222"><tspan font-style="italic">E</tspan>''(<tspan font-style="italic">T</tspan>,<tspan font-family="Liberation Serif,serif" font-size="8.69">ω</tspan>) / <tspan font-style="italic">E</tspan><tspan font-size="8.20" dy="2.90">0</tspan></text>
<text x="709.7" y="309.9" font-size="14.38" fill="#111" letter-spacing="-0.2"><tspan font-style="italic">T</tspan> / K</text>
<text x="920.1" y="306.9" font-size="11.58" fill="#222"><tspan font-family="Liberation Serif,serif">ω</tspan><tspan font-size="7.72" dy="-3.86">-1</tspan><tspan dy="3.86"> / s</tspan></text>
<text x="769.6" y="52.8" font-size="11.4" fill="#f00">VFTne</text><text x="769.6" y="66.1" font-size="11.4" fill="#f00">Tf=437.4K</text>
<text x="865.3" y="102.9" font-size="11.4" fill="#00f">VFT</text>
</svg></body></html>
